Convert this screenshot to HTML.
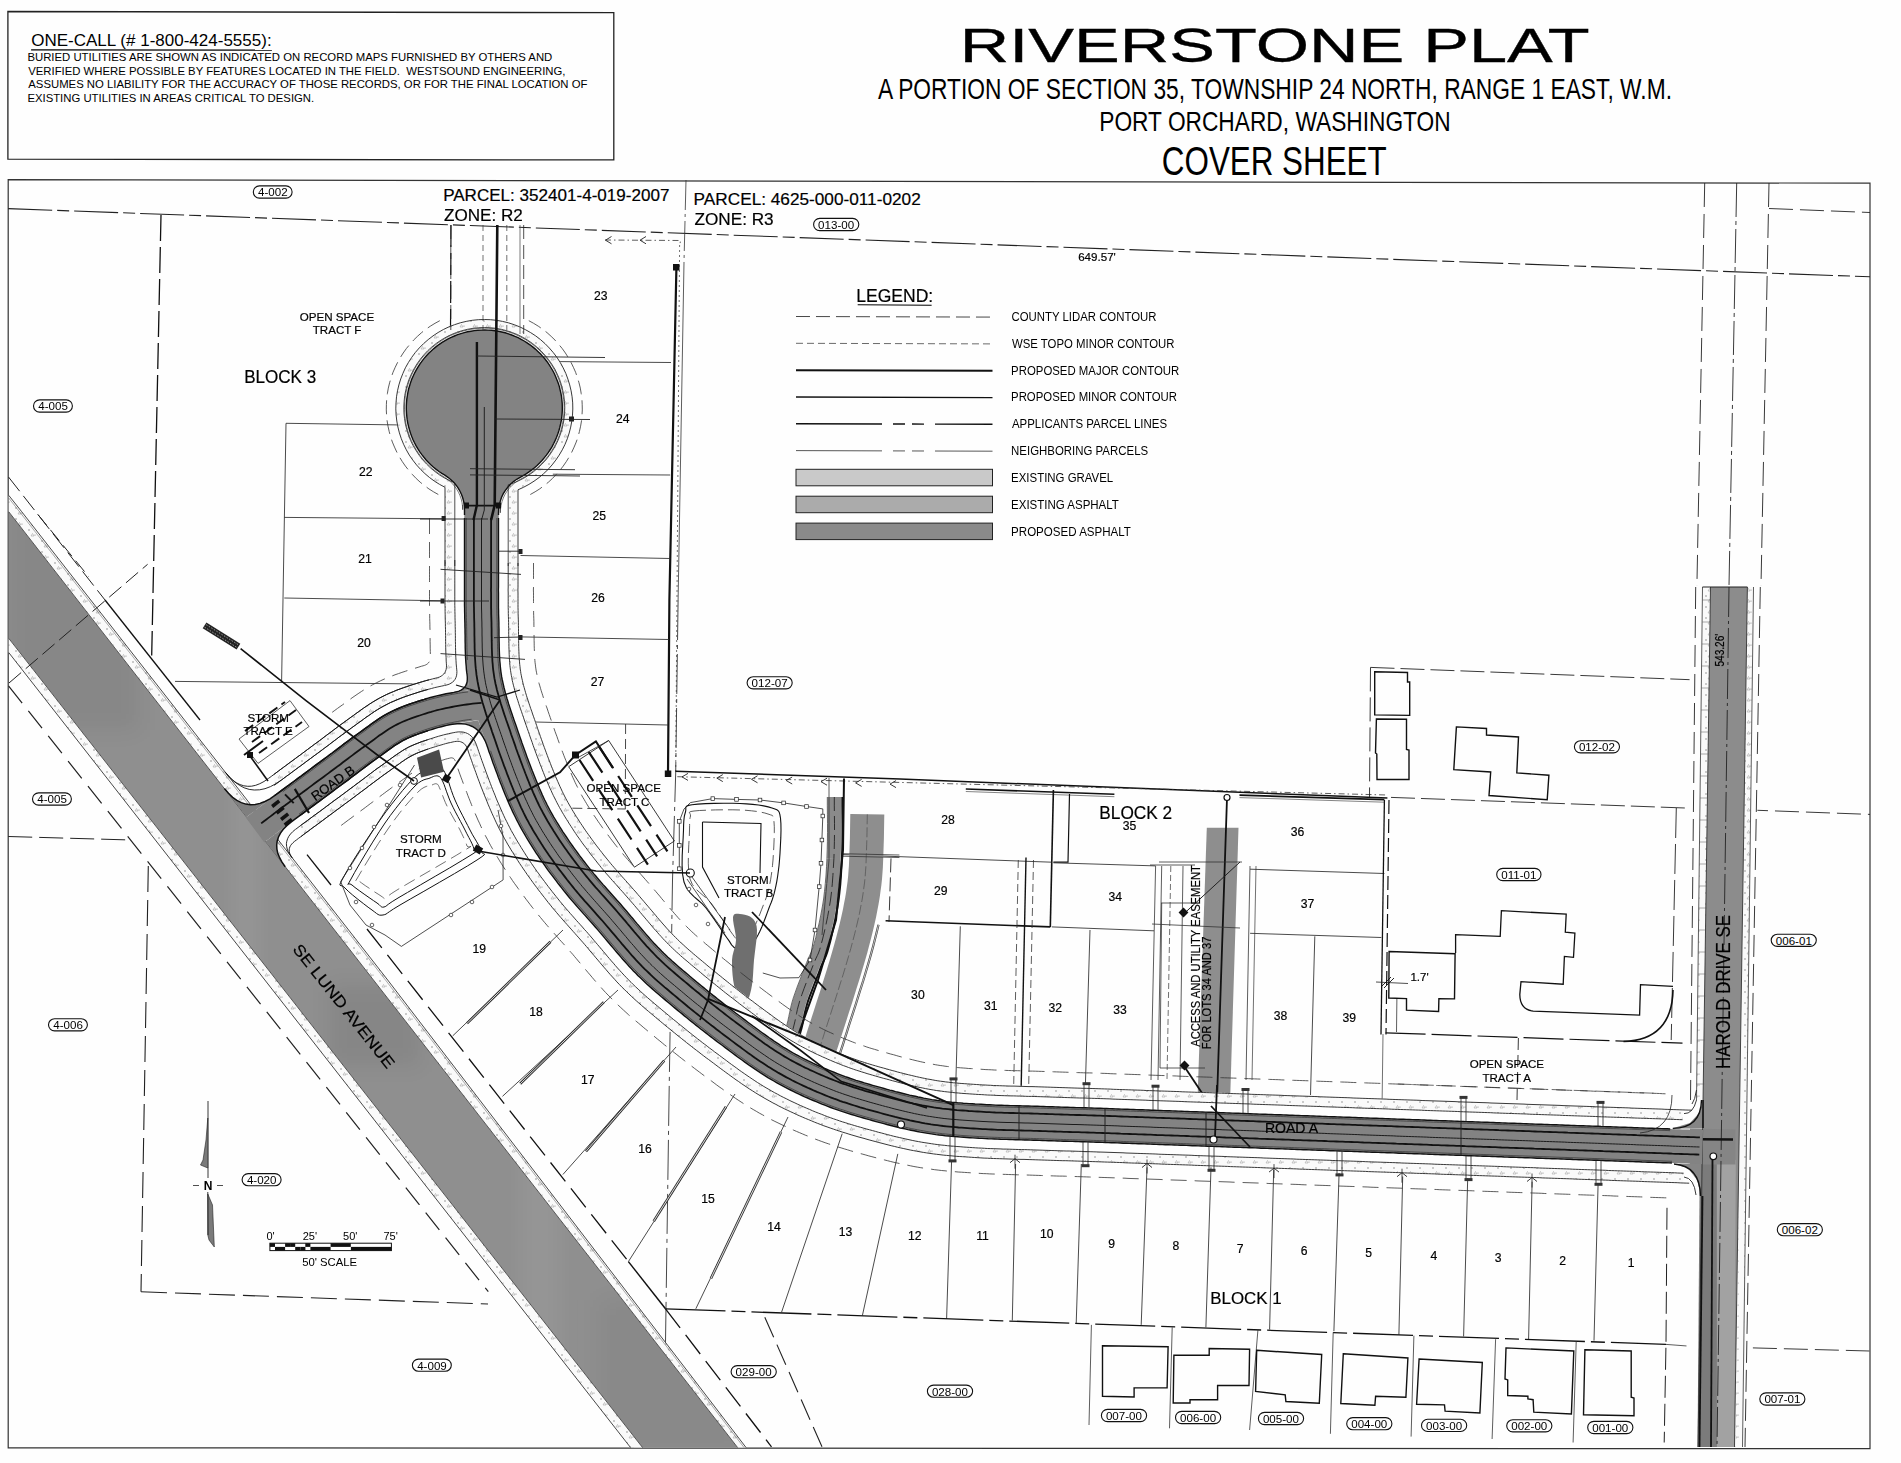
<!DOCTYPE html>
<html><head><meta charset="utf-8"><style>
html,body{margin:0;padding:0;background:#fff;}
svg{display:block;}
text{font-family:"Liberation Sans",sans-serif;}
</style></head><body>
<svg width="1901" height="1463" viewBox="0 0 1901 1463">
<defs><pattern id="stip" width="9" height="9" patternUnits="userSpaceOnUse">
<rect width="9" height="9" fill="#fbfbfb"/><circle cx="2" cy="3" r="0.6" fill="#888"/><circle cx="6.5" cy="7" r="0.5" fill="#999"/><circle cx="7" cy="1.5" r="0.4" fill="#aaa"/></pattern>
<pattern id="stip2" width="13" height="11" patternUnits="userSpaceOnUse">
<rect width="13" height="11" fill="#fafafa"/><circle cx="3" cy="2" r="0.7" fill="#777"/><circle cx="9" cy="7" r="0.6" fill="#888"/><path d="M5,8 l1.5,-2.5 l1.5,2.5z" fill="none" stroke="#999" stroke-width="0.5"/></pattern>
<clipPath id="lundclip"><path d="M8.7,511.7 L737.6,1447.5 L642.5,1447.5 L8.7,638.3Z"/></clipPath>
<filter id="soft" x="-50%" y="-50%" width="200%" height="200%"><feGaussianBlur stdDeviation="10"/></filter></defs>
<rect width="1901" height="1463" fill="#fefefe"/>
<g fill="#000" stroke="#000" stroke-width="0.35">
<text transform="translate(959.82,62.3) scale(1.4421,1)" font-size="47.54" >RIVERSTONE PLAT</text>
</g><g fill="#000">
<text transform="translate(877.9,99.1) scale(0.7669,1)" font-size="29.71" >A PORTION OF SECTION 35, TOWNSHIP 24 NORTH, RANGE 1 EAST, W.M.</text>
<text transform="translate(1099.28,131.3) scale(0.7960,1)" font-size="28.55" >PORT ORCHARD, WASHINGTON</text>
<text transform="translate(1161.83,174.7) scale(0.7677,1)" font-size="40.87" >COVER SHEET</text>
<text transform="translate(31.23,46.3) scale(0.9949,1)" font-size="17.1" >ONE-CALL (# 1-800-424-5555):</text>
<text transform="translate(27.39,61.3) scale(1.0447,1)" font-size="10.87" >BURIED UTILITIES ARE SHOWN AS INDICATED ON RECORD MAPS FURNISHED BY OTHERS AND</text>
<text transform="translate(28.24,74.77) scale(1.0430,1)" font-size="10.87" >VERIFIED WHERE POSSIBLE BY FEATURES LOCATED IN THE FIELD.  WESTSOUND ENGINEERING,</text>
<text transform="translate(28.3,88.24) scale(1.0435,1)" font-size="10.87" >ASSUMES NO LIABILITY FOR THE ACCURACY OF THOSE RECORDS, OR FOR THE FINAL LOCATION OF</text>
<text transform="translate(27.39,101.71) scale(1.0433,1)" font-size="10.87" >EXISTING UTILITIES IN AREAS CRITICAL TO DESIGN.</text>
</g>
<path d="M31.1,49.9 L271.9,50.1" stroke="#000" stroke-width="1.1"/>
<path d="M7.9,11.5 L613.8,12.7 L613.8,159.9 L7.9,159.2 Z" fill="none" stroke="#222" stroke-width="1.3"/>
<path d="M8.2,179.6 L1870,183.2 L1870,1448.7 L8.2,1447.8 Z" fill="none" stroke="#333" stroke-width="1.2"/>
<path d="M8.2,208.6 1870,276.8" fill="none" stroke="#222" stroke-width="1.1" stroke-dasharray="44 5 12 5" />
<path d="M161,215 151.7,655.5" fill="none" stroke="#111" stroke-width="1.3" stroke-dasharray="26 6" />
<path d="M148.3,866 141,1291.8" fill="none" stroke="#222" stroke-width="1.1" stroke-dasharray="26 8" />
<path d="M8.2,836.5 131,840" fill="none" stroke="#222" stroke-width="1.0" stroke-dasharray="24 7" />
<path d="M141,1291.8 488,1304" fill="none" stroke="#222" stroke-width="1.1" stroke-dasharray="26 8" />
<path d="M451,225 450.5,334" fill="none" stroke="#111" stroke-width="1.2" stroke-dasharray="22 6" />
<path d="M686,180 684,262" fill="none" stroke="#333" stroke-width="0.8" stroke-dasharray="30 4 3 4" />
<path d="M678.1,600 675.7,773 672.5,880 669,1100 664,1447" fill="none" stroke="#333" stroke-width="0.9" stroke-dasharray="40 5 4 5" />
<path d="M684,262 678.1,600" fill="none" stroke="#333" stroke-width="0.8" />
<path d="M676.4,268 669.4,600 668,774" fill="none" stroke="#111" stroke-width="2.2" />
<rect x="673" y="264" width="6.5" height="6.5" fill="#111"/>
<rect x="664.8" y="770.5" width="6.5" height="6.5" fill="#111"/>
<path d="M679.6,245 675.7,771" fill="none" stroke="#333" stroke-width="0.7" stroke-dasharray="2 3" />
<path d="M605,240 680.4,240.5 680,245" fill="none" stroke="#333" stroke-width="0.8" stroke-dasharray="6 3 1.5 3" />
<path d="M611.5,236.5 605.5,240.2 611.5,243.8" fill="none" stroke="#222" stroke-width="0.9" />
<path d="M646,236.5 640,240.2 646,243.8" fill="none" stroke="#222" stroke-width="0.9" />
<path d="M675.4,771.2 900,779.1 1387.4,798.1" fill="none" stroke="#111" stroke-width="1.5" />
<path d="M677.3,776.7 1387,795" fill="none" stroke="#333" stroke-width="0.8" stroke-dasharray="6 3 1.5 3" />
<path d="M688,773.4 682,776.9 688,780.4" fill="none" stroke="#222" stroke-width="0.9" />
<path d="M722.8,774.6 716.8,778.1 722.8,781.6" fill="none" stroke="#222" stroke-width="0.9" />
<path d="M757.5,775.8 751.5,779.3 757.5,782.8" fill="none" stroke="#222" stroke-width="0.9" />
<path d="M792.2,777 786.2,780.5 792.2,784" fill="none" stroke="#222" stroke-width="0.9" />
<path d="M827,778.2 821,781.7 827,785.2" fill="none" stroke="#222" stroke-width="0.9" />
<path d="M861.6,779.4 855.6,782.9 861.6,786.4" fill="none" stroke="#222" stroke-width="0.9" />
<path d="M896,780.6 890,784.1 896,787.6" fill="none" stroke="#222" stroke-width="0.9" />
<path d="M1704.7,183 1696.9,586" fill="none" stroke="#222" stroke-width="0.9" stroke-dasharray="24 7" />
<path d="M1736.7,183 1729,586" fill="none" stroke="#222" stroke-width="0.9" stroke-dasharray="34 4 4 4" />
<path d="M1769,183 1761,586" fill="none" stroke="#222" stroke-width="0.9" stroke-dasharray="24 7" />
<path d="M1769,208.5 1870,212.5" fill="none" stroke="#222" stroke-width="0.9" stroke-dasharray="24 7" />
<path d="M1744,809.8 1870,814.4" fill="none" stroke="#222" stroke-width="0.9" stroke-dasharray="24 7" />
<path d="M1752.9,1347.9 1869.4,1351" fill="none" stroke="#222" stroke-width="0.9" stroke-dasharray="24 7" />
<path d="M286,423.3 404,425" fill="none" stroke="#2a2a2a" stroke-width="0.85" />
<path d="M286,423.3 281.6,681.4" fill="none" stroke="#2a2a2a" stroke-width="0.85" />
<path d="M284.3,517.4 442.8,518.8" fill="none" stroke="#2a2a2a" stroke-width="0.85" />
<path d="M284.3,598 442.8,600.8" fill="none" stroke="#2a2a2a" stroke-width="0.85" />
<path d="M175,681.4 459,684.4" fill="none" stroke="#2a2a2a" stroke-width="0.85" />
<path d="M548.4,361.5 671,362.5" fill="none" stroke="#2a2a2a" stroke-width="0.85" />
<path d="M552.8,474.2 670.2,475" fill="none" stroke="#2a2a2a" stroke-width="0.85" />
<path d="M520.5,555.5 670.2,558.5" fill="none" stroke="#2a2a2a" stroke-width="0.85" />
<path d="M520.5,636.9 669,639.5" fill="none" stroke="#2a2a2a" stroke-width="0.85" />
<path d="M534.8,722 668,725" fill="none" stroke="#2a2a2a" stroke-width="0.85" />
<path d="M452.7,1035.9 563,930" fill="none" stroke="#2a2a2a" stroke-width="0.85" />
<path d="M467,1023.4 550.5,941.7" fill="none" stroke="#333" stroke-width="2.6" />
<path d="M467,1023.4 550.5,941.7" fill="none" stroke="#ddd" stroke-width="1.0" />
<path d="M502.5,1096.3 618,990" fill="none" stroke="#2a2a2a" stroke-width="0.85" />
<path d="M520.2,1083.8 603.8,1002.1" fill="none" stroke="#333" stroke-width="2.6" />
<path d="M520.2,1083.8 603.8,1002.1" fill="none" stroke="#ddd" stroke-width="1.0" />
<path d="M562.9,1174.5 676,1047" fill="none" stroke="#2a2a2a" stroke-width="0.85" />
<path d="M586,1151.4 664.2,1060.7" fill="none" stroke="#333" stroke-width="2.6" />
<path d="M586,1151.4 664.2,1060.7" fill="none" stroke="#ddd" stroke-width="1.0" />
<path d="M628.4,1261.6 735,1094" fill="none" stroke="#2a2a2a" stroke-width="0.85" />
<path d="M653.7,1221.2 726,1106.7" fill="none" stroke="#333" stroke-width="2.6" />
<path d="M653.7,1221.2 726,1106.7" fill="none" stroke="#ddd" stroke-width="1.0" />
<path d="M695.8,1308.8 788,1117" fill="none" stroke="#2a2a2a" stroke-width="0.85" />
<path d="M710.9,1278.5 781,1132" fill="none" stroke="#333" stroke-width="2.6" />
<path d="M710.9,1278.5 781,1132" fill="none" stroke="#ddd" stroke-width="1.0" />
<path d="M842.2,1133.7 781.6,1312.1" fill="none" stroke="#2a2a2a" stroke-width="0.85" />
<path d="M897.8,1153.9 862.4,1315.5" fill="none" stroke="#2a2a2a" stroke-width="0.85" />
<path d="M951.6,1160.6 946.6,1318.9" fill="none" stroke="#2a2a2a" stroke-width="0.85" />
<path d="M1015.6,1164 1012.3,1320.5" fill="none" stroke="#2a2a2a" stroke-width="0.85" />
<path d="M1081.3,1164 1076.2,1323.9" fill="none" stroke="#2a2a2a" stroke-width="0.85" />
<path d="M1147,1167.3 1141.2,1324.9" fill="none" stroke="#2a2a2a" stroke-width="0.85" />
<path d="M1211,1167.3 1205.9,1327.3" fill="none" stroke="#2a2a2a" stroke-width="0.85" />
<path d="M1273.7,1169.5 1269.6,1329.5" fill="none" stroke="#2a2a2a" stroke-width="0.85" />
<path d="M1339.1,1173 1333.9,1331.2" fill="none" stroke="#2a2a2a" stroke-width="0.85" />
<path d="M1402.7,1176.5 1398.9,1334.7" fill="none" stroke="#2a2a2a" stroke-width="0.85" />
<path d="M1467.7,1178.2 1463.6,1336.4" fill="none" stroke="#2a2a2a" stroke-width="0.85" />
<path d="M1532.1,1181.7 1528.6,1339.2" fill="none" stroke="#2a2a2a" stroke-width="0.85" />
<path d="M1598.1,1183.4 1594,1340.6" fill="none" stroke="#2a2a2a" stroke-width="0.85" />
<path d="M1667,1207.8 1666,1343.4 1664.2,1442.5" fill="none" stroke="#222" stroke-width="1.0" stroke-dasharray="22 6" />
<path d="M665.5,1308.8 1666,1344.4" fill="none" stroke="#111" stroke-width="1.3" stroke-dasharray="60 6 14 6" />
<path d="M1666,1344.4 1699,1346.9" fill="none" stroke="#333" stroke-width="0.8" />
<path d="M1091.4,1324.9 1089,1425" fill="none" stroke="#333" stroke-width="0.8" />
<path d="M1172.2,1327.3 1169.5,1428.3" fill="none" stroke="#333" stroke-width="0.8" />
<path d="M1258,1329 1249.6,1430" fill="none" stroke="#333" stroke-width="0.8" />
<path d="M1333.2,1332.3 1330.4,1433.8" fill="none" stroke="#333" stroke-width="0.8" />
<path d="M1413.9,1335.7 1411.1,1436.6" fill="none" stroke="#333" stroke-width="0.8" />
<path d="M1495.6,1339.2 1492.1,1439" fill="none" stroke="#333" stroke-width="0.8" />
<path d="M1576.2,1341.7 1573.1,1442.5" fill="none" stroke="#333" stroke-width="0.8" />
<path d="M764.8,1317.2 822,1446.8" fill="none" stroke="#222" stroke-width="1.1" stroke-dasharray="22 8" />
<path d="M965.8,789 1114.4,794.2" fill="none" stroke="#111" stroke-width="1.6" />
<path d="M965.8,791.5 1114.4,796.7" fill="none" stroke="#333" stroke-width="0.6" />
<path d="M1053.4,790 1050.3,926.9" fill="none" stroke="#111" stroke-width="1.6" />
<path d="M1069.5,794 1068,862.2 1053.4,862.2" fill="none" stroke="#111" stroke-width="1.2" />
<path d="M842.9,854.6 1051.8,862.2" fill="none" stroke="#2a2a2a" stroke-width="0.85" />
<path d="M885.6,920.8 1050.3,926.9" fill="none" stroke="#111" stroke-width="1.6" />
<path d="M1053.4,862.8 1155.6,865.9" fill="none" stroke="#2a2a2a" stroke-width="0.85" />
<path d="M1051.8,926.9 1154,930.8" fill="none" stroke="#2a2a2a" stroke-width="0.85" />
<path d="M1250.1,869.2 1384.4,873.5" fill="none" stroke="#2a2a2a" stroke-width="0.85" />
<path d="M1250.1,933.3 1381.3,937.5" fill="none" stroke="#2a2a2a" stroke-width="0.85" />
<path d="M1297,870 1297,870" fill="none" stroke="#2a2a2a" stroke-width="0.85" />
<path d="M960.3,926.3 955.8,1083.4" fill="none" stroke="#2a2a2a" stroke-width="0.85" />
<path d="M1090,930 1085.4,1085" fill="none" stroke="#2a2a2a" stroke-width="0.85" />
<path d="M1314.8,936.3 1310.5,1095" fill="none" stroke="#2a2a2a" stroke-width="0.85" />
<path d="M1026,857.6 1021,1095" fill="none" stroke="#111" stroke-width="1.4" />
<path d="M1018.3,860 1013.5,1095" fill="none" stroke="#333" stroke-width="0.8" stroke-dasharray="8 4" />
<path d="M1033.5,860 1028.5,1095" fill="none" stroke="#333" stroke-width="0.8" stroke-dasharray="8 4" />
<path d="M1155.6,866 1151,1080" fill="none" stroke="#333" stroke-width="0.8" />
<path d="M1161.7,866 1158,1080" fill="none" stroke="#333" stroke-width="0.8" />
<path d="M1170.8,866 1167,1080" fill="none" stroke="#333" stroke-width="0.7" stroke-dasharray="6 3" />
<path d="M1183,866 1180,1080" fill="none" stroke="#333" stroke-width="0.8" />
<path d="M1250,866 1246,1080" fill="none" stroke="#333" stroke-width="0.8" />
<path d="M1256,866 1252,1080" fill="none" stroke="#333" stroke-width="0.7" />
<path d="M1384.4,800 1381,1034.6" fill="none" stroke="#111" stroke-width="1.3" />
<path d="M1389,800 1386,1034.6" fill="none" stroke="#111" stroke-width="1.2" stroke-dasharray="14 5" />
<path d="M1385.6,1032.8 1682.5,1043.2" fill="none" stroke="#111" stroke-width="1.2" stroke-dasharray="40 6" />
<path d="M1383,1034 1382,1110" fill="none" stroke="#333" stroke-width="0.7" />
<path d="M1370.5,667.4 1693,679.8" fill="none" stroke="#222" stroke-width="0.9" stroke-dasharray="24 6" />
<path d="M1370.5,667.4 1369.5,797" fill="none" stroke="#222" stroke-width="0.9" stroke-dasharray="24 6" />
<path d="M1391,797.4 1685,808" fill="none" stroke="#222" stroke-width="0.9" stroke-dasharray="24 6" />
<path d="M1676.3,808 1671.2,1040" fill="none" stroke="#222" stroke-width="0.9" stroke-dasharray="30 6" />
<path d="M1397.8,1084 1661.7,1093.5" fill="none" stroke="#444" stroke-width="0.8" stroke-dasharray="14 8" />
<path d="M1518.4,1038 1517,1100" fill="none" stroke="#222" stroke-width="0.9" stroke-dasharray="12 5" />
<path d="M1396.9,998 1396.5,1032" fill="none" stroke="#333" stroke-width="0.8" />
<path d="M625.6,724 625.3,810" fill="none" stroke="#333" stroke-width="0.9" stroke-dasharray="10 5" />
<path d="M572.3,808.2 625.6,809" fill="none" stroke="#333" stroke-width="0.9" stroke-dasharray="10 5" />
<path d="M834.3,797 834.3,805.9 834.4,814.8 834.5,823.7 834.5,832.6 834.4,841.3 834.2,850 833.9,858.6 833.4,867.1 832.9,875.5 832.3,883.8 831.5,892 830.5,900 829.2,908.1 827.7,916.3 826,924.4 824.3,932 822.6,939 821,945 819.7,949.6 818.5,953 817.3,955.6 816.1,958.1 814.8,961.1 813.2,965 811.2,970.1 808.9,975.9 806.5,982.1 804.1,988.4 801.9,994.5 800,1000 798.6,1004.9 797.4,1009.4 796.5,1013.7 795.7,1017.8 794.8,1021.9 793.8,1026 792.7,1030.1 791.6,1034.1 790.4,1038.1 789.3,1042.1 788.1,1046 787,1050" fill="none" stroke="#8a8a8a" stroke-width="13.5"/>
<path d="M834.3,797 834.3,805.9 834.4,814.8 834.5,823.7 834.5,832.6 834.4,841.3 834.2,850 833.9,858.6 833.4,867.1 832.9,875.5 832.3,883.8 831.5,892 830.5,900 829.2,908.1 827.7,916.3 826,924.4 824.3,932 822.6,939 821,945 819.7,949.6 818.5,953 817.3,955.6 816.1,958.1 814.8,961.1 813.2,965 811.2,970.1 808.9,975.9 806.5,982.1 804.1,988.4 801.9,994.5 800,1000 798.6,1004.9 797.4,1009.4 796.5,1013.7 795.7,1017.8 794.8,1021.9 793.8,1026 792.7,1030.1 791.6,1034.1 790.4,1038.1 789.3,1042.1 788.1,1046 787,1050" fill="none" stroke="#222" stroke-width="0.9" stroke-dasharray="14 5" />
<path d="M842.3,797 842.3,805.8 842.4,814.7 842.5,823.6 842.5,832.6 842.4,841.5 842.2,850.3 841.9,858.9 841.4,867.5 840.9,876 840.3,884.5 839.4,892.9 838.4,901.1 837.1,909.4 835.5,917.9 833.8,926.1 832,933.9 830.3,941 828.7,947.1 827.3,952 825.9,955.9 824.6,958.9 823.4,961.5 822.1,964.2 820.6,967.9 818.7,973 816.4,978.8 814,985 811.6,991.3 809.4,997.2 807.6,1002.4 806.3,1007 805.2,1011.2 804.3,1015.3 803.5,1019.5 802.6,1023.7 801.6,1028 800.4,1032.2 799.3,1036.3 798.1,1040.3 797,1044.3 795.8,1048.2 794.7,1052.2" fill="none" stroke="#111" stroke-width="2.0" />
<path d="M827.3,797 827.3,805.9 827.4,814.8 827.5,823.7 827.5,832.5 827.4,841.2 827.2,849.8 826.9,858.3 826.5,866.7 826,875 825.3,883.2 824.5,891.2 823.6,899 822.3,906.9 820.8,914.9 819.2,922.9 817.4,930.4 815.8,937.3 814.2,943.2 813,947.5 811.9,950.4 810.9,952.7 809.8,955.2 808.4,958.3 806.7,962.4 804.7,967.5 802.4,973.3 800,979.6 797.5,986 795.3,992.2 793.3,997.9 791.8,1003 790.6,1007.8 789.7,1012.2 788.8,1016.4 788,1020.3 787,1024.3 785.9,1028.3 784.8,1032.2 783.7,1036.2 782.6,1040.1 781.4,1044.1 780.3,1048.1" fill="none" stroke="#333" stroke-width="0.7" />
<path d="M867.3,814.3 867.2,820.3 867.1,826.3 867,832.3 866.9,838.3 866.7,844.2 866.5,850 866.3,855.6 866.1,861.1 865.9,866.4 865.5,871.8 865.1,877.3 864.5,883 863.7,888.8 862.9,894.7 861.9,900.8 860.7,906.9 859.5,913.3 858,920 856.4,926.8 854.7,933.8 852.8,941 850.8,948.5 848.5,956.5 846,965 843.1,974.7 839.7,985.4 836.2,996.7 832.6,1007.7 829.4,1017.8 826.6,1026.4 824.4,1033.2 822.7,1038.6 821.2,1043.2 819.8,1047.3 818.5,1051.4 817,1056" fill="none" stroke="#8e8e8e" stroke-width="34"/>
<path d="M867.3,814.3 867.2,820.3 867.1,826.3 867,832.3 866.9,838.3 866.7,844.2 866.5,850 866.3,855.6 866.1,861.1 865.9,866.4 865.5,871.8 865.1,877.3 864.5,883 863.7,888.8 862.9,894.7 861.9,900.8 860.7,906.9 859.5,913.3 858,920 856.4,926.8 854.7,933.8 852.8,941 850.8,948.5 848.5,956.5 846,965 843.1,974.7 839.7,985.4 836.2,996.7 832.6,1007.7 829.4,1017.8 826.6,1026.4 824.4,1033.2 822.7,1038.6 821.2,1043.2 819.8,1047.3 818.5,1051.4 817,1056" fill="none" stroke="#444" stroke-width="0.6" stroke-dasharray="10 3" />
<path d="M878.5,924.8 876.8,931.8 875,939 873.1,946.4 871,954.1 868.7,962.3 866.1,971 863.2,980.8 859.7,991.7 856.2,1003 852.6,1014.1 849.3,1024.2 846.6,1032.8 844.4,1039.6 842.7,1045.1 841.2,1049.7 839.8,1053.8 838.4,1058 837,1062.5" fill="none" stroke="#444" stroke-width="2.2" />
<path d="M878.5,924.8 876.8,931.8 875,939 873.1,946.4 871,954.1 868.7,962.3 866.1,971 863.2,980.8 859.7,991.7 856.2,1003 852.6,1014.1 849.3,1024.2 846.6,1032.8 844.4,1039.6 842.7,1045.1 841.2,1049.7 839.8,1053.8 838.4,1058 837,1062.5" fill="none" stroke="#ddd" stroke-width="0.8" />
<path d="M891,858.4 889,922" fill="none" stroke="#222" stroke-width="0.9" stroke-dasharray="14 5" />
<path d="M842,853.7 899.4,855" fill="none" stroke="#333" stroke-width="0.8" />
<path d="M842,856.2 899.4,857.5" fill="none" stroke="#333" stroke-width="0.8" />
<path d="M829,778 829,860 822,935" fill="none" stroke="#333" stroke-width="0.8" />
<path d="M844,778.4 843,850 836,920 818,980 800,1030 789,1060" fill="none" stroke="#111" stroke-width="2.0" />
<path d="M679.3,868.7 679.3,821.4 684,809 690.4,802.6 712.8,798.6 736.5,799.4 760,800 783.6,802.9 806.5,806.5 822.8,808.9 822.8,816 821.9,840 821,863.3 819.2,886.6 815,930 810,960 798.9,977.7 780,978 762.8,973" fill="none" stroke="#222" stroke-width="0.8" />
<rect x="677.5" y="819.6" width="3.6" height="3.6" fill="#fff" stroke="#222" stroke-width="0.7"/>
<rect x="677.5" y="843.6" width="3.6" height="3.6" fill="#fff" stroke="#222" stroke-width="0.7"/>
<rect x="677.5" y="866.9" width="3.6" height="3.6" fill="#fff" stroke="#222" stroke-width="0.7"/>
<rect x="711" y="796.8" width="3.6" height="3.6" fill="#fff" stroke="#222" stroke-width="0.7"/>
<rect x="734.7" y="797.6" width="3.6" height="3.6" fill="#fff" stroke="#222" stroke-width="0.7"/>
<rect x="758.2" y="798.2" width="3.6" height="3.6" fill="#fff" stroke="#222" stroke-width="0.7"/>
<rect x="781.8" y="801.1" width="3.6" height="3.6" fill="#fff" stroke="#222" stroke-width="0.7"/>
<rect x="804.7" y="804.7" width="3.6" height="3.6" fill="#fff" stroke="#222" stroke-width="0.7"/>
<rect x="821" y="814.2" width="3.6" height="3.6" fill="#fff" stroke="#222" stroke-width="0.7"/>
<rect x="820.1" y="838.2" width="3.6" height="3.6" fill="#fff" stroke="#222" stroke-width="0.7"/>
<rect x="819.2" y="861.5" width="3.6" height="3.6" fill="#fff" stroke="#222" stroke-width="0.7"/>
<rect x="817.4" y="884.8" width="3.6" height="3.6" fill="#fff" stroke="#222" stroke-width="0.7"/>
<rect x="813.2" y="928.2" width="3.6" height="3.6" fill="#fff" stroke="#222" stroke-width="0.7"/>
<rect x="808.2" y="958.2" width="3.6" height="3.6" fill="#fff" stroke="#222" stroke-width="0.7"/>
<path d="M692,804.7 697.8,804.1 705.5,803.6 714.4,803.4 723.6,803.3 732.4,803.3 740,803.5 746.5,803.9 752.7,804.4 758.5,805 763.7,805.9 768.2,806.9 772,808 774.9,809 776.9,809.8 778.3,810.8 779.2,812.2 779.9,814.6 780.5,818.2 780.9,823.5 781,830.2 780.8,837.9 780.4,845.8 780,853.4 779.5,860 779,865.8 778.3,871.3 777.6,876.5 776.8,881.3 775.9,885.8 775,890 774.1,893.7 773.2,896.7 772.3,899.5 771.3,902.2 770.1,905.1 768.8,908.5 767.3,912.6 765.6,917.2 763.8,922 761.9,926.7 759.9,931.2 758,935 756.1,938.4 754.1,941.5 752,944.3 750,946.7 748,948.6 746,950 744.1,950.7 742.1,950.9 740.2,950.6 738.4,949.9 736.6,949 735,948 733.6,947 732.6,946 731.6,944.8 730.5,943.1 729.1,940.9 727,938 724.3,934.1 721,929.3 717.4,924 713.6,918.4 709.7,913 706,908 702.1,903.7 697.9,900 693.7,896.4 689.8,892.4 686.4,887.8 684,882 682.6,874.4 682.1,865.3 682.2,855.5 682.7,845.8 683.2,837 683.5,830 683.6,824.9 683.8,821.1 684.1,818.2 684.4,815.9 684.9,814 685.5,812 685.8,810.1 685.8,808.5 685.9,807.3 686.6,806.3 688.5,805.4 692,804.7Z" fill="none" stroke="#111" stroke-width="1.1"/>
<path d="M694,811 699.4,810.5 706.9,810.2 715.5,809.9 724.4,809.8 732.9,809.8 740,810 746,810.3 751.5,810.8 756.5,811.4 761,812.2 764.8,813 768,814 770.4,814.8 771.9,815.3 772.8,815.9 773.3,817 773.7,818.9 774,822 774.3,826.7 774.3,832.8 774.1,839.8 773.8,847 773.4,853.9 773,860 772.5,865.4 772,870.4 771.3,875.2 770.6,879.8 769.8,884 769,888 768.2,891.5 767.3,894.5 766.4,897.2 765.4,899.9 764.3,902.8 763,906 761.5,909.8 759.9,914 758.1,918.4 756.3,922.7 754.6,926.7 753,930 751.5,932.7 750.1,935.1 748.8,937.1 747.5,938.7 746.3,940 745,941 743.8,941.6 742.6,941.8 741.4,941.7 740.3,941.3 739.2,940.7 738,940 737,939.3 736.1,938.6 735.3,937.8 734.3,936.5 732.9,934.6 731,932 728.4,928.3 725.3,923.7 721.9,918.5 718.2,913.1 714.5,907.8 711,903 707.3,899 703.3,895.6 699.3,892.2 695.5,888.7 692.3,884.4 690,879 688.7,871.9 688.3,863.2 688.4,853.9 688.8,844.7 689.3,836.4 689.5,830 689.6,825.5 689.6,822.4 689.8,820.2 689.9,818.7 690.2,817.4 690.5,816 690.4,814.6 689.9,813.5 689.4,812.7 689.6,812 690.9,811.5 694,811Z" fill="none" stroke="#333" stroke-width="0.8" stroke-dasharray="12 5"/>
<path d="M702.5,822 761,823.5 760,873" fill="none" stroke="#111" stroke-width="1.1" />
<path d="M702.5,822 702.5,867 719,898" fill="none" stroke="#111" stroke-width="1.1" />
<path d="M733,917 733.7,915 734.8,914 736.4,913.7 738.1,913.8 740,914 742.2,914.2 744.8,914.7 747.5,915.5 750,916.6 752,918 753.6,919.6 754.9,921.4 755.9,923.5 756.6,926.3 757,930 756.9,934.9 756.3,940.9 755.5,947.5 754.7,954 754,960 753.6,965.4 753.3,970.6 753,975.6 752.6,980.4 752,985 751.1,989.7 749.9,994.4 748.6,998.8 747.3,1002.5 746,1005 744.8,1006.3 743.6,1006.6 742.4,1006 741.2,1004.8 740,1003 738.7,1000.5 737.4,997.3 736.1,993.5 734.9,989.3 734,985 733.2,980.4 732.6,975.3 732.2,970 732,964.8 732,960 732.5,955.7 733.5,951.8 734.6,948 735.6,944.1 736,940 735.7,935.3 734.8,930.1 733.8,924.9 733.1,920.4 733,917Z" fill="#6f6f6f" stroke="none" stroke-width="1" />
<circle cx="690.3" cy="873" r="4" fill="#fff" stroke="#111" stroke-width="1.1"/>
<path d="M692,877 712,905 730,930" fill="none" stroke="#222" stroke-width="0.8" />
<path d="M687,879 707,908 725,933" fill="none" stroke="#222" stroke-width="0.8" />
<circle cx="689" cy="889" r="1.8" fill="#fff" stroke="#222" stroke-width="0.7"/>
<circle cx="696" cy="905" r="1.8" fill="#fff" stroke="#222" stroke-width="0.7"/>
<circle cx="708" cy="924" r="1.8" fill="#fff" stroke="#222" stroke-width="0.7"/>
<path d="M1206.8,827.7 1238.5,827.7 1230.3,1094 1197.7,1094Z" fill="#8e8e8e" stroke="none" stroke-width="1" />
<path d="M1239.5,795.1 1384.4,799.7" fill="none" stroke="#111" stroke-width="1.8" />
<path d="M1239.5,797.6 1384.4,802.2" fill="none" stroke="#333" stroke-width="0.6" />
<path d="M1150,865 1195,865" fill="none" stroke="#333" stroke-width="0.8" />
<path d="M1161,903 1195,903" fill="none" stroke="#333" stroke-width="0.8" />
<path d="M1161.7,903 1160,1068 1205,1068" fill="none" stroke="#333" stroke-width="0.8" />
<path d="M1227,798 1217,1100 1215,1140" fill="none" stroke="#111" stroke-width="1.8" />
<path d="M1159,862 1242,862" fill="none" stroke="#333" stroke-width="0.8" />
<path d="M1152,924 1240,928" fill="none" stroke="#333" stroke-width="0.8" />
<circle cx="1227" cy="797.5" r="3" fill="#fff" stroke="#111" stroke-width="1.2"/>
<path d="M1184,1066 1240,1150" fill="none" stroke="#111" stroke-width="1.8" />
<path d="M1182.5,915 1240,862" fill="none" stroke="#222" stroke-width="1.0" />
<rect x="1180" y="909" width="7" height="7" fill="#111" transform="rotate(45 1183.5 912.5)"/>
<rect x="1181" y="1062" width="7" height="7" fill="#111" transform="rotate(45 1184.5 1065.5)"/>
<path d="M481.5,470 481.5,473 481.5,476 481.5,479 481.5,482 481.5,485 481.5,488 481.5,491 481.5,494 481.5,497 481.5,500 481.5,503 481.5,506 481.5,509 481.5,512 481.5,515 481.5,518 481.5,521 481.5,524 481.5,527 481.5,530 481.5,533 481.5,536 481.5,539 481.5,542 481.5,545 481.5,548 481.5,551 481.5,554 481.5,557 481.5,560 481.5,563 481.5,566 481.5,569 481.5,572 481.5,575 481.5,578 481.5,581 481.5,584 481.5,587 481.5,590 481.5,593 481.5,596 481.5,599 481.5,602 481.5,605 481.5,608 481.6,611 481.7,614 481.7,617 481.8,620 481.9,623 481.9,626 482,629 482,632 482,635 482.1,638 482.1,641 482.2,644 482.2,647 482.3,650 482.4,653 482.5,656 482.7,659 482.9,662 483.1,665 483.4,668 483.7,670.9 484.1,673.9 484.5,676.9 485,679.8 485.5,682.8 486.1,685.7 486.8,688.7 487.5,691.6 488.2,694.5 489,697.4 489.8,700.3 490.6,703.2 491.5,706 492.4,708.9 493.3,711.7 494.3,714.6 495.2,717.4 496.2,720.3 497.2,723.1 498.1,726 499.1,728.8 500.1,731.6 501.1,734.5 502.1,737.3 503,740.1 504,743 505,745.8 506,748.6 507,751.5 508,754.3 509,757.1 510,759.9 511.1,762.7 512.1,765.6 513.2,768.4 514.2,771.2 515.3,774 516.4,776.8 517.5,779.6 518.6,782.4 519.7,785.1 520.8,787.9 522,790.7 523.1,793.5 524.3,796.2 525.5,799 526.8,801.7 528,804.4 529.3,807.1 530.6,809.8 532,812.5 533.3,815.2 534.7,817.8 536.2,820.5 537.7,823.1 539.2,825.7 540.7,828.2 542.2,830.8 543.8,833.4 545.4,835.9 547,838.4 548.6,841 550.3,843.5 551.9,846 553.6,848.5 555.3,850.9 557,853.4 558.7,855.9 560.5,858.3 562.3,860.7 564,863.1 565.8,865.5 567.6,867.9 569.5,870.3 571.3,872.7 573.1,875.1 575,877.4 576.8,879.8 578.7,882.1 580.6,884.4 582.5,886.8 584.5,889 586.4,891.3 588.4,893.6 590.4,895.8 592.3,898.1 594.3,900.3 596.3,902.6 598.3,904.8 600.3,907.1 602.3,909.3 604.3,911.5 606.3,913.8 608.3,916 610.3,918.3 612.2,920.6 614.2,922.9 616.1,925.1 618,927.4 620,929.7 621.9,932 623.8,934.3 625.8,936.6 627.7,938.9 629.6,941.2 631.6,943.5 633.6,945.7 635.5,948 637.5,950.3 639.5,952.5 641.5,954.7 643.6,956.9 645.6,959.1 647.7,961.2 649.8,963.4 652,965.5 654.1,967.6 656.3,969.6 658.5,971.7 660.7,973.7 663,975.7 665.2,977.7 667.5,979.6 669.8,981.6 672.1,983.5 674.4,985.4 676.7,987.4 679,989.3 681.3,991.2 683.6,993.1 685.9,995.1 688.2,997 690.5,998.9 692.8,1000.8 695.1,1002.7 697.5,1004.6 699.8,1006.4 702.1,1008.3 704.5,1010.2 706.8,1012.1 709.2,1013.9 711.5,1015.8 713.9,1017.7 716.3,1019.5 718.6,1021.3 721,1023.2 723.4,1025 725.8,1026.8 728.2,1028.6 730.6,1030.4 733,1032.2 735.4,1034 737.8,1035.8 740.2,1037.6 742.6,1039.4 745,1041.2 747.4,1043 749.8,1044.7 752.3,1046.5 754.7,1048.3 757.1,1050 759.6,1051.7 762,1053.4 764.5,1055.1 767,1056.8 769.5,1058.5 772,1060.1 774.6,1061.7 777.1,1063.3 779.7,1064.8 782.3,1066.3 784.9,1067.8 787.5,1069.3 790.1,1070.7 792.8,1072.1 795.5,1073.5 798.1,1074.8 800.8,1076.2 803.5,1077.5 806.2,1078.8 809,1080 811.7,1081.3 814.4,1082.5 817.2,1083.7 819.9,1084.9 822.7,1086 825.5,1087.2 828.3,1088.3 831,1089.4 833.8,1090.5 836.6,1091.6 839.5,1092.6 842.3,1093.6 845.1,1094.6 848,1095.5 850.8,1096.5 853.7,1097.4 856.5,1098.3 859.4,1099.1 862.3,1100 865.2,1100.8 868.1,1101.7 870.9,1102.5 873.8,1103.3 876.7,1104.1 879.6,1104.9 882.5,1105.7 885.4,1106.5 888.3,1107.2 891.2,1108 894.1,1108.8 897,1109.5 899.9,1110.2 902.8,1110.9 905.8,1111.6 908.7,1112.3 911.6,1112.9 914.5,1113.6 917.5,1114.2 920.4,1114.8 923.4,1115.3 926.3,1115.9 929.3,1116.4 932.2,1116.8 935.2,1117.3 938.2,1117.7 941.1,1118.1 944.1,1118.5 947.1,1118.8 950.1,1119.1 953.1,1119.4 956.1,1119.6 959.1,1119.9 962.1,1120.1 965,1120.3 968,1120.5 971,1120.7 974,1120.9 977,1121.1 980,1121.3 983,1121.5 986,1121.6 989,1121.8 992,1121.9 995,1122 998,1122.2 1001,1122.3 1004,1122.4 1007,1122.5 1010,1122.5 1013,1122.6 1016,1122.7 1019,1122.8 1022,1122.9 1025,1123 1028,1123 1031,1123.1 1034,1123.2 1037,1123.3 1040,1123.4 1043,1123.5 1046,1123.6 1049,1123.7 1052,1123.8 1055,1123.9 1058,1124 1061,1124.1 1064,1124.2 1067,1124.3 1070,1124.4 1073,1124.5 1076,1124.5 1079,1124.6 1082,1124.7 1084.9,1124.8 1087.9,1124.9 1090.9,1125 1093.9,1125.1 1096.9,1125.2 1099.9,1125.3 1102.9,1125.4 1105.9,1125.5 1108.9,1125.6 1111.9,1125.7 1114.9,1125.8 1117.9,1125.9 1120.9,1126.1 1123.9,1126.2 1126.9,1126.3 1129.9,1126.4 1132.9,1126.5 1135.9,1126.6 1138.9,1126.7 1141.9,1126.8 1144.9,1126.9 1147.9,1127 1150.9,1127.1 1153.9,1127.3 1156.9,1127.4 1159.9,1127.5 1162.9,1127.6 1165.9,1127.7 1168.9,1127.8 1171.9,1127.9 1174.9,1128 1177.9,1128.1 1180.9,1128.2 1183.9,1128.3 1186.9,1128.4 1189.9,1128.6 1192.9,1128.7 1195.9,1128.8 1198.9,1128.9 1201.9,1129 1204.9,1129.1 1207.9,1129.2 1210.9,1129.3 1213.9,1129.4 1216.9,1129.5 1219.9,1129.6 1222.9,1129.8 1225.9,1129.9 1228.9,1130 1231.9,1130.1 1234.9,1130.2 1237.9,1130.3 1240.8,1130.4 1243.8,1130.5 1246.8,1130.6 1249.8,1130.7 1252.8,1130.8 1255.8,1130.9 1258.8,1131.1 1261.8,1131.2 1264.8,1131.3 1267.8,1131.4 1270.8,1131.5 1273.8,1131.6 1276.8,1131.7 1279.8,1131.8 1282.8,1131.9 1285.8,1132 1288.8,1132.1 1291.8,1132.3 1294.8,1132.4 1297.8,1132.5 1300.8,1132.6 1303.8,1132.7 1306.8,1132.8 1309.8,1132.9 1312.8,1133 1315.8,1133.1 1318.8,1133.2 1321.8,1133.3 1324.8,1133.4 1327.8,1133.6 1330.8,1133.7 1333.8,1133.8 1336.8,1133.9 1339.8,1134 1342.8,1134.1 1345.8,1134.2 1348.8,1134.3 1351.8,1134.4 1354.8,1134.5 1357.8,1134.6 1360.8,1134.8 1363.8,1134.9 1366.8,1135 1369.8,1135.1 1372.8,1135.2 1375.8,1135.3 1378.8,1135.4 1381.8,1135.5 1384.8,1135.6 1387.8,1135.7 1390.8,1135.8 1393.7,1135.9 1396.7,1136.1 1399.7,1136.2 1402.7,1136.3 1405.7,1136.4 1408.7,1136.5 1411.7,1136.6 1414.7,1136.7 1417.7,1136.8 1420.7,1136.9 1423.7,1137 1426.7,1137.1 1429.7,1137.3 1432.7,1137.4 1435.7,1137.5 1438.7,1137.6 1441.7,1137.7 1444.7,1137.8 1447.7,1137.9 1450.7,1138 1453.7,1138.1 1456.7,1138.2 1459.7,1138.3 1462.7,1138.4 1465.7,1138.6 1468.7,1138.7 1471.7,1138.8 1474.7,1138.9 1477.7,1139 1480.7,1139.1 1483.7,1139.2 1486.7,1139.3 1489.7,1139.4 1492.7,1139.5 1495.7,1139.6 1498.7,1139.8 1501.7,1139.9 1504.7,1140 1507.7,1140.1 1510.7,1140.2 1513.7,1140.3 1516.7,1140.4 1519.7,1140.5 1522.7,1140.6 1525.7,1140.7 1528.7,1140.8 1531.7,1140.9 1534.7,1141.1 1537.7,1141.2 1540.7,1141.3 1543.6,1141.4 1546.6,1141.5 1549.6,1141.6 1552.6,1141.7 1555.6,1141.8 1558.6,1141.9 1561.6,1142 1564.6,1142.1 1567.6,1142.3 1570.6,1142.4 1573.6,1142.5 1576.6,1142.6 1579.6,1142.7 1582.6,1142.8 1585.6,1142.9 1588.6,1143 1591.6,1143.1 1594.6,1143.2 1597.6,1143.3 1600.6,1143.4 1603.6,1143.6 1606.6,1143.7 1609.6,1143.8 1612.6,1143.9 1615.6,1144 1618.6,1144.1 1621.6,1144.2 1624.6,1144.3 1627.6,1144.4 1630.6,1144.5 1633.6,1144.6 1636.6,1144.8 1639.6,1144.9 1642.6,1145 1645.6,1145.1 1648.6,1145.2 1651.6,1145.3 1654.6,1145.4 1657.6,1145.5 1660.6,1145.6 1663.6,1145.7 1666.6,1145.8 1669.6,1145.9 1672.6,1146.1 1675.6,1146.2 1678.6,1146.3 1681.6,1146.4 1684.6,1146.5 1687.6,1146.6 1690.6,1146.7 1693.6,1146.8 1696.5,1146.9 1699.5,1147 1702.5,1147.1 1705.5,1147.3 1708.5,1147.4 1710,1147.4" fill="none" stroke="#fefefe" stroke-width="74" stroke-linejoin="round"/>
<path d="M293.3,801.1 295.7,799.3 298.1,797.5 300.6,795.7 303,794 305.4,792.2 307.8,790.4 310.2,788.6 312.6,786.8 315,785 317.4,783.2 319.8,781.5 322.3,779.7 324.7,777.9 327.1,776.1 329.5,774.3 331.9,772.5 334.3,770.7 336.7,768.9 339.1,767.1 341.5,765.4 343.9,763.5 346.3,761.7 348.7,759.9 351.1,758.1 353.5,756.3 355.9,754.5 358.3,752.7 360.7,750.9 363.1,749.1 365.5,747.4 368,745.6 370.4,743.9 372.8,742.1 375.3,740.4 377.7,738.6 380.1,736.8 382.6,735.1 385,733.4 387.5,731.7 390.1,730.1 392.6,728.6 395.2,727.1 397.9,725.7 400.6,724.4 403.3,723.2 406.1,722 408.9,720.9 411.7,719.8 414.5,718.8 417.3,717.8 420.2,716.9 423.1,716 425.9,715.1 428.8,714.2 431.7,713.3 434.5,712.5 437.4,711.7 440.3,711 443.3,710.3 446.2,709.6 449.1,709 452.1,708.5 455,707.9 458,707.4 460.9,706.8 463.9,706.4 466.9,705.9 469.8,705.6 472.8,705.2 475.8,704.9 478.8,704.6 481.8,704.3 484,704" fill="none" stroke="#fefefe" stroke-width="68" stroke-linejoin="round"/>
<circle cx="484.3" cy="408.0" r="89.0" fill="#fefefe"/>
<path d="M8.7,511.7 737.6,1447.5 642.5,1447.5 8.7,638.3Z" fill="#8f8f8f" stroke="none" stroke-width="1" />
<g clip-path="url(#lundclip)"><g filter="url(#soft)">
<rect x="8" y="500" width="130" height="230" fill="#000" opacity="0.05"/>
<rect x="330" y="985" width="90" height="80" fill="#000" opacity="0.06"/>
<rect x="235" y="700" width="22" height="400" fill="#fff" opacity="0.07"/>
<rect x="520" y="1150" width="40" height="300" fill="#fff" opacity="0.06"/>
<rect x="600" y="1300" width="140" height="150" fill="#000" opacity="0.04"/>
</g></g>
<path d="M8.7,511.7 737.6,1447.5 746,1447.5 387.7,980 21.7,511.7 8.7,495.3Z" fill="url(#stip2)" stroke="none" stroke-width="1" />
<path d="M8.7,495.3 21.7,511.7 387.7,980 746,1447.5" fill="none" stroke="#333" stroke-width="0.9" />
<path d="M8.7,498 19.5,511.7 385.5,980 744,1447.5" fill="none" stroke="#555" stroke-width="0.5" />
<path d="M8.7,511.7 737.6,1447.5" fill="none" stroke="#444" stroke-width="0.9" />
<path d="M8.7,638.3 642.5,1447.5 630.5,1447.5 8.7,652.5Z" fill="url(#stip2)" stroke="none" stroke-width="1" />
<path d="M8.7,652.5 630.5,1447.5" fill="none" stroke="#333" stroke-width="0.9" />
<path d="M8.7,638.3 642.5,1447.5" fill="none" stroke="#444" stroke-width="0.9" />
<path d="M8.5,477 105,600" fill="none" stroke="#222" stroke-width="1.0" stroke-dasharray="18 6" />
<path d="M105,600 200,720" fill="none" stroke="#111" stroke-width="1.3" />
<path d="M307,854.6 331,885" fill="none" stroke="#111" stroke-width="1.3" />
<path d="M367,929 628.4,1261.6" fill="none" stroke="#111" stroke-width="1.3" stroke-dasharray="24 9" />
<path d="M628.4,1261.6 665.5,1308.8" fill="none" stroke="#111" stroke-width="1.5" />
<path d="M665.5,1308.8 771.5,1446.8" fill="none" stroke="#111" stroke-width="1.3" stroke-dasharray="24 9" />
<path d="M37.7,514.3 88.6,576.6" fill="none" stroke="#222" stroke-width="1.0" stroke-dasharray="14 6" />
<path d="M8.5,685.8 488.3,1291.7" fill="none" stroke="#222" stroke-width="1.2" stroke-dasharray="22 10" />
<path d="M540,1440 600,1447" fill="none" stroke="none" stroke-width="0.1" />
<path d="M9,683 147.6,564.3" fill="none" stroke="#222" stroke-width="1.0" stroke-dasharray="16 6" />
<path d="M1690,587 1760,587 1750,1447 1686,1447Z" fill="#fefefe" stroke="none" stroke-width="1" />
<path d="M1702.5,587 1710.5,587 1704,1100 1696.5,1100Z" fill="url(#stip2)" stroke="none" stroke-width="1" />
<path d="M1747.4,587 1753.5,587 1742.5,1447 1735.5,1447Z" fill="url(#stip2)" stroke="none" stroke-width="1" />
<path d="M1710.5,587 1747.4,587 1734.5,1447 1698,1447Z" fill="#8c8c8c" stroke="none" stroke-width="1" />
<path d="M1716,1160 1735.8,1160 1734.5,1447 1717,1447Z" fill="#a2a2a2" stroke="none" stroke-width="1" />
<path d="M1699.8,1160 1716.8,1160 1716.8,1447 1697.5,1447Z" fill="#7b7b7b" stroke="none" stroke-width="1" />
<path d="M1690,1128.4 1735.5,1129.5 1735.5,1164.5 1690,1164.5Z" fill="#858585" stroke="none" stroke-width="1" />
<path d="M1672,1128.4 1702,1128.4 1702,1103 1700,1112 1690,1123Z" fill="#858585" stroke="none" stroke-width="1" />
<path d="M1672.8,1128.4 Q1701,1128 1701.5,1100" fill="none" stroke="#111" stroke-width="1.4"/>
<path d="M1674,1164 1701,1164 1701,1195 1697,1180 1688,1168Z" fill="#858585" stroke="none" stroke-width="1" />
<path d="M1674,1164 Q1700,1166 1700.5,1196" fill="none" stroke="#111" stroke-width="1.4"/>
<path d="M1710.5,587 1698,1447" fill="none" stroke="#333" stroke-width="0.9" />
<path d="M1747.4,587 1734.5,1447" fill="none" stroke="#333" stroke-width="0.9" />
<path d="M1702.5,587 1696.5,1100" fill="none" stroke="#333" stroke-width="0.8" />
<path d="M1753.5,587 1742.5,1447" fill="none" stroke="#333" stroke-width="0.8" />
<path d="M1702.5,587 1747.4,587" fill="none" stroke="#222" stroke-width="1.0" />
<path d="M1729,587 1717,1447" fill="none" stroke="#222" stroke-width="0.9" stroke-dasharray="30 4 3 4" />
<path d="M1702.5,1196 1699.5,1447" fill="none" stroke="#111" stroke-width="1.8" />
<path d="M1712.5,1158 1711,1447" fill="none" stroke="#111" stroke-width="1.8" />
<path d="M1695.7,587 1690.5,1100" fill="none" stroke="#222" stroke-width="0.9" stroke-dasharray="22 7" />
<path d="M1760.3,587 1749.4,1200 1745,1447" fill="none" stroke="#222" stroke-width="0.9" stroke-dasharray="22 7" />
<path d="M1703,1100 1703,1128" fill="none" stroke="#111" stroke-width="1.6" />
<path d="M1640,1138.8 1733,1139.5" fill="none" stroke="#111" stroke-width="2.4" />
<circle cx="1713.3" cy="1156.3" r="3.3" fill="#fff" stroke="#111" stroke-width="1.2"/>
<rect x="1681" y="1133.0" width="10" height="3.6" fill="#111"/>
<rect x="1681" y="1140.8999999999999" width="10" height="3.6" fill="#111"/>
<rect x="1681" y="1149.1" width="10" height="3.6" fill="#111"/>
<rect x="1681" y="1157.6" width="10" height="3.6" fill="#111"/>
<path d="M1702.5,600 1710.3,600" fill="none" stroke="#555" stroke-width="0.5" />
<path d="M1702.3,622 1710.1,622" fill="none" stroke="#555" stroke-width="0.5" />
<path d="M1702,644 1709.8,644" fill="none" stroke="#555" stroke-width="0.5" />
<path d="M1701.8,666 1709.5,666" fill="none" stroke="#555" stroke-width="0.5" />
<path d="M1701.5,688 1709.2,688" fill="none" stroke="#555" stroke-width="0.5" />
<path d="M1701.2,710 1708.9,710" fill="none" stroke="#555" stroke-width="0.5" />
<path d="M1701,732 1708.7,732" fill="none" stroke="#555" stroke-width="0.5" />
<path d="M1700.7,754 1708.4,754" fill="none" stroke="#555" stroke-width="0.5" />
<path d="M1700.4,776 1708.1,776" fill="none" stroke="#555" stroke-width="0.5" />
<path d="M1700.2,798 1707.8,798" fill="none" stroke="#555" stroke-width="0.5" />
<path d="M1699.9,820 1707.5,820" fill="none" stroke="#555" stroke-width="0.5" />
<path d="M1699.6,842 1707.3,842" fill="none" stroke="#555" stroke-width="0.5" />
<path d="M1699.4,864 1707,864" fill="none" stroke="#555" stroke-width="0.5" />
<path d="M1699.1,886 1706.7,886" fill="none" stroke="#555" stroke-width="0.5" />
<path d="M1698.8,908 1706.4,908" fill="none" stroke="#555" stroke-width="0.5" />
<path d="M1698.6,930 1706.1,930" fill="none" stroke="#555" stroke-width="0.5" />
<path d="M1698.3,952 1705.9,952" fill="none" stroke="#555" stroke-width="0.5" />
<path d="M1698.1,974 1705.6,974" fill="none" stroke="#555" stroke-width="0.5" />
<path d="M1697.8,996 1705.3,996" fill="none" stroke="#555" stroke-width="0.5" />
<path d="M1697.5,1018 1705,1018" fill="none" stroke="#555" stroke-width="0.5" />
<path d="M1697.3,1040 1704.7,1040" fill="none" stroke="#555" stroke-width="0.5" />
<path d="M1697,1062 1704.5,1062" fill="none" stroke="#555" stroke-width="0.5" />
<path d="M1696.7,1084 1704.2,1084" fill="none" stroke="#555" stroke-width="0.5" />
<path d="M508.2,563 508.2,566 508.2,569 508.2,572.1 508.2,575.1 508.2,578.1 508.2,581.1 508.2,584.1 508.2,587 508.1,590 508.2,593 508.2,595.9 508.2,598.9 508.2,601.8 508.2,604.7 508.2,607.6 508.3,610.5 508.3,613.4 508.4,616.3 508.5,619.4 508.6,622.4 508.6,625.5 508.7,628.6 508.7,631.7 508.7,634.7 508.8,637.7 508.8,640.6 508.9,643.5 508.9,646.4 509,649.2 509.1,652 509.2,654.7 509.3,657.4 509.5,660.1 509.7,662.7 509.9,665.3 510.2,667.8 510.5,670.3 510.9,672.8 511.3,675.3 511.8,677.7 512.2,680.2 512.8,682.7 513.4,685.2 514.1,687.7 514.7,690.3 515.5,692.9 516.2,695.5 517,698.2 517.9,700.8 518.7,703.5 519.6,706.2 520.5,708.9 521.5,711.7 522.4,714.4 523.4,717.2 524.3,720 525.3,722.9 526.3,725.7 527.3,728.6 528.3,731.4 529.3,734.3 530.2,737 531.2,739.8 532.2,742.5 533.1,745.3 534.1,748 535.1,750.8 536.1,753.5 537.1,756.2 538.2,759 539.2,761.7 540.2,764.4 541.3,767.1 542.3,769.8 543.4,772.5 544.4,775.1 545.5,777.8 546.6,780.4 547.7,783 548.8,785.5 549.9,788.1 551.1,790.6 552.2,793.1 553.4,795.6 554.6,798 555.8,800.4 557,802.8 558.3,805.2 559.5,807.5 560.9,809.8 562.2,812.2 563.6,814.5 565,816.9 566.5,819.3 568,821.7 569.5,824.1 571.1,826.5 572.6,828.8 574.1,831.2 575.7,833.5 577.2,835.8 578.9,838.1 580.5,840.4 582.1,842.7 583.8,845 585.5,847.2 587.2,849.5 588.9,851.8 590.6,854.1 592.4,856.4 594.2,858.6 596,860.9 597.7,863.1 599.5,865.3 601.2,867.5 603,869.6 604.8,871.8 606.6,873.9 608.5,876 610.4,878.2 612.3,880.4 614.3,882.6 616.3,884.8 618.2,887 620.2,889.3 622.3,891.5 624.3,893.8 626.3,896.1 628.4,898.5 630.4,900.8 632.5,903.2 634.5,905.5 636.5,907.9 638.5,910.2 640.4,912.5 642.3,914.8 644.3,917.1 646.2,919.4 648.1,921.6 650,923.9 651.9,926.1 653.7,928.3 655.6,930.4 657.5,932.5 659.3,934.6 661.2,936.6 663,938.7 664.9,940.6 666.8,942.6 668.7,944.5 670.6,946.4 672.6,948.3 674.5,950.1 676.5,952 678.6,953.8 680.6,955.7 682.7,957.5 684.9,959.4 687.1,961.2 689.3,963.1 691.5,965 693.8,966.9 696.1,968.8 698.4,970.7 700.7,972.6 702.9,974.5 705.2,976.4 707.4,978.2 709.7,980.1 712,982 714.3,983.8 716.6,985.7 718.9,987.5 721.1,989.3 723.4,991.2 725.7,993 728,994.8 730.3,996.6 732.7,998.4 735,1000.2 737.3,1002 739.6,1003.8 741.9,1005.5 744.2,1007.3 746.6,1009.1 749,1010.8 751.4,1012.6 753.8,1014.4 756.1,1016.2 758.5,1018 760.9,1019.7 763.2,1021.4 765.6,1023.2 767.9,1024.9 770.2,1026.5 772.6,1028.2 774.9,1029.8 777.2,1031.4 779.5,1033 781.8,1034.6 784.1,1036.1 786.4,1037.6 788.7,1039 791,1040.5 793.3,1041.8 795.6,1043.2 798,1044.6 800.4,1045.9 802.8,1047.2 805.2,1048.4 807.6,1049.7 810.1,1051 812.6,1052.2 815,1053.4 817.6,1054.6 820.1,1055.7 822.6,1056.9 825.2,1058 827.8,1059.2 830.4,1060.3 833,1061.4 835.6,1062.5 838.2,1063.5 840.8,1064.6 843.4,1065.6 846,1066.5 848.5,1067.5 851.1,1068.4 853.7,1069.3 856.3,1070.2 859,1071 861.7,1071.9 864.4,1072.7 867.1,1073.6 869.9,1074.4 872.6,1075.2 875.4,1076 878.2,1076.8 881,1077.6 883.8,1078.4 886.7,1079.1 889.5,1079.9 892.3,1080.7 895.1,1081.4 898,1082.2 900.7,1082.9 903.5,1083.6 906.3,1084.3 909.1,1085 911.8,1085.6 914.6,1086.3 917.3,1086.9 920.1,1087.5 922.8,1088 925.5,1088.6 928.2,1089.1 931,1089.6 933.6,1090 936.3,1090.5 939,1090.9 941.7,1091.2 944.5,1091.6 947.2,1091.9 949.9,1092.2 952.7,1092.5 955.5,1092.8 958.3,1093 961.2,1093.3 964,1093.5 966.9,1093.7 969.8,1093.9 972.8,1094.1 975.7,1094.3 978.7,1094.5 981.6,1094.6 984.5,1094.8 987.4,1095 990.3,1095.1 993.2,1095.2 996.1,1095.4 999,1095.5 1001.9,1095.6 1004.8,1095.7 1007.8,1095.8 1010.8,1095.9 1013.7,1095.9 1016.7,1096 1019.7,1096.1 1022.7,1096.2 1025.7,1096.3 1028.7,1096.4 1031.7,1096.4 1034.8,1096.5 1037.8,1096.6 1040.8,1096.7 1043.9,1096.8 1046.8,1096.9 1049.8,1097 1052.8,1097.1 1055.8,1097.2 1058.8,1097.3 1061.8,1097.4 1064.8,1097.5 1067.8,1097.6 1070.8,1097.7 1073.8,1097.8 1076.8,1097.9 1079.8,1098 1082.8,1098 1085.8,1098.1 1088.8,1098.2 1091.8,1098.3 1094.8,1098.4 1097.8,1098.5 1100.8,1098.6 1103.9,1098.7 1106.9,1098.8 1109.9,1098.9 1112.9,1099.1 1115.9,1099.2 1118.9,1099.3 1121.9,1099.4 1124.9,1099.5 1127.9,1099.6 1130.9,1099.7 1133.9,1099.8 1136.9,1099.9 1139.9,1100 1142.9,1100.1 1145.9,1100.2 1148.9,1100.4 1151.9,1100.5 1154.9,1100.6 1157.9,1100.7 1160.9,1100.8 1163.9,1100.9 1166.9,1101 1169.9,1101.1 1172.9,1101.2 1175.9,1101.3 1178.9,1101.4 1181.9,1101.5 1184.9,1101.7 1187.9,1101.8 1190.8,1101.9 1193.8,1102 1196.8,1102.1 1199.8,1102.2 1202.8,1102.3 1205.8,1102.4 1208.8,1102.5 1211.8,1102.6 1214.8,1102.7 1217.8,1102.9 1220.8,1103 1223.8,1103.1 1226.8,1103.2 1229.8,1103.3 1232.8,1103.4 1235.8,1103.5 1238.8,1103.6 1241.8,1103.7 1244.8,1103.8 1247.8,1103.9 1250.8,1104 1253.8,1104.2 1256.8,1104.3 1259.8,1104.4 1262.8,1104.5 1265.8,1104.6 1268.8,1104.7 1271.8,1104.8 1274.8,1104.9 1277.8,1105 1280.8,1105.1 1283.8,1105.2 1286.8,1105.4 1289.8,1105.5 1292.8,1105.6 1295.8,1105.7 1298.8,1105.8 1301.8,1105.9 1304.8,1106 1307.8,1106.1 1310.8,1106.2 1313.8,1106.3 1316.8,1106.4 1319.8,1106.5 1322.8,1106.7 1325.8,1106.8 1328.8,1106.9 1331.8,1107 1334.8,1107.1 1337.8,1107.2 1340.8,1107.3 1343.7,1107.4 1346.7,1107.5 1349.7,1107.6 1352.7,1107.7 1355.7,1107.9 1358.7,1108 1361.7,1108.1 1364.7,1108.2 1367.7,1108.3 1370.7,1108.4 1373.7,1108.5 1376.7,1108.6 1379.7,1108.7 1382.7,1108.8 1385.7,1108.9 1388.7,1109 1391.7,1109.2 1394.7,1109.3 1397.7,1109.4 1400.7,1109.5 1403.7,1109.6 1406.7,1109.7 1409.7,1109.8 1412.7,1109.9 1415.7,1110 1418.7,1110.1 1421.7,1110.2 1424.7,1110.4 1427.7,1110.5 1430.7,1110.6 1433.7,1110.7 1436.7,1110.8 1439.7,1110.9 1442.7,1111 1445.7,1111.1 1448.7,1111.2 1451.7,1111.3 1454.7,1111.4 1457.7,1111.5 1460.7,1111.7 1463.7,1111.8 1466.7,1111.9 1469.7,1112 1472.7,1112.1 1475.7,1112.2 1478.7,1112.3 1481.7,1112.4 1484.7,1112.5 1487.7,1112.6 1490.7,1112.7 1493.7,1112.9 1496.6,1113 1499.6,1113.1 1502.6,1113.2 1505.6,1113.3 1508.6,1113.4 1511.6,1113.5 1514.6,1113.6 1517.6,1113.7 1520.6,1113.8 1523.6,1113.9 1526.6,1114 1529.6,1114.2 1532.6,1114.3 1535.6,1114.4 1538.6,1114.5 1541.6,1114.6 1544.6,1114.7 1547.6,1114.8 1550.6,1114.9 1553.6,1115 1556.6,1115.1 1559.6,1115.2 1562.6,1115.4 1565.6,1115.5 1568.6,1115.6 1571.6,1115.7 1574.6,1115.8 1577.6,1115.9 1580.6,1116 1583.6,1116.1 1586.6,1116.2 1589.6,1116.3 1592.6,1116.4 1595.6,1116.5 1598.6,1116.7 1601.6,1116.8 1604.6,1116.9 1607.6,1117 1610.6,1117.1 1613.6,1117.2 1616.6,1117.3 1619.6,1117.4 1622.6,1117.5 1625.6,1117.6 1628.6,1117.7 1631.6,1117.9 1634.6,1118 1637.6,1118.1 1640.6,1118.2 1643.6,1118.3 1646.6,1118.4 1649.5,1118.5 1652.5,1118.6 1655.5,1118.7 1658.5,1118.8 1661.5,1118.9 1664.5,1119 1667.5,1119.2 1670.5,1119.3 1673.5,1119.4 1676.5,1119.5 1679.5,1119.6 1682.5,1119.7 1682.9,1109.9 1679.9,1109.8 1676.9,1109.7 1673.9,1109.6 1670.9,1109.5 1667.9,1109.4 1664.9,1109.3 1661.9,1109.1 1658.9,1109 1655.9,1108.9 1652.9,1108.8 1649.9,1108.7 1646.9,1108.6 1643.9,1108.5 1640.9,1108.4 1637.9,1108.3 1634.9,1108.2 1631.9,1108.1 1628.9,1107.9 1625.9,1107.8 1622.9,1107.7 1619.9,1107.6 1616.9,1107.5 1613.9,1107.4 1610.9,1107.3 1607.9,1107.2 1604.9,1107.1 1601.9,1107 1598.9,1106.9 1595.9,1106.8 1592.9,1106.6 1589.9,1106.5 1586.9,1106.4 1583.9,1106.3 1580.9,1106.2 1578,1106.1 1575,1106 1572,1105.9 1569,1105.8 1566,1105.7 1563,1105.6 1560,1105.4 1557,1105.3 1554,1105.2 1551,1105.1 1548,1105 1545,1104.9 1542,1104.8 1539,1104.7 1536,1104.6 1533,1104.5 1530,1104.4 1527,1104.3 1524,1104.1 1521,1104 1518,1103.9 1515,1103.8 1512,1103.7 1509,1103.6 1506,1103.5 1503,1103.4 1500,1103.3 1497,1103.2 1494,1103.1 1491,1103 1488,1102.8 1485,1102.7 1482,1102.6 1479,1102.5 1476,1102.4 1473,1102.3 1470,1102.2 1467,1102.1 1464,1102 1461,1101.9 1458,1101.8 1455,1101.6 1452,1101.5 1449,1101.4 1446,1101.3 1443,1101.2 1440,1101.1 1437,1101 1434,1100.9 1431,1100.8 1428,1100.7 1425.1,1100.6 1422.1,1100.5 1419.1,1100.3 1416.1,1100.2 1413.1,1100.1 1410.1,1100 1407.1,1099.9 1404.1,1099.8 1401.1,1099.7 1398.1,1099.6 1395.1,1099.5 1392.1,1099.4 1389.1,1099.3 1386.1,1099.1 1383.1,1099 1380.1,1098.9 1377.1,1098.8 1374.1,1098.7 1371.1,1098.6 1368.1,1098.5 1365.1,1098.4 1362.1,1098.3 1359.1,1098.2 1356.1,1098.1 1353.1,1098 1350.1,1097.8 1347.1,1097.7 1344.1,1097.6 1341.1,1097.5 1338.1,1097.4 1335.1,1097.3 1332.1,1097.2 1329.1,1097.1 1326.1,1097 1323.1,1096.9 1320.1,1096.8 1317.1,1096.6 1314.1,1096.5 1311.1,1096.4 1308.1,1096.3 1305.1,1096.2 1302.1,1096.1 1299.1,1096 1296.1,1095.9 1293.1,1095.8 1290.1,1095.7 1287.1,1095.6 1284.1,1095.5 1281.1,1095.3 1278.1,1095.2 1275.1,1095.1 1272.2,1095 1269.2,1094.9 1266.2,1094.8 1263.2,1094.7 1260.2,1094.6 1257.2,1094.5 1254.2,1094.4 1251.2,1094.3 1248.2,1094.1 1245.2,1094 1242.2,1093.9 1239.2,1093.8 1236.2,1093.7 1233.2,1093.6 1230.2,1093.5 1227.2,1093.4 1224.2,1093.3 1221.2,1093.2 1218.2,1093.1 1215.2,1093 1212.2,1092.8 1209.2,1092.7 1206.2,1092.6 1203.2,1092.5 1200.2,1092.4 1197.2,1092.3 1194.2,1092.2 1191.2,1092.1 1188.2,1092 1185.2,1091.9 1182.2,1091.8 1179.2,1091.6 1176.2,1091.5 1173.2,1091.4 1170.2,1091.3 1167.2,1091.2 1164.2,1091.1 1161.2,1091 1158.2,1090.9 1155.2,1090.8 1152.2,1090.7 1149.2,1090.6 1146.2,1090.5 1143.2,1090.3 1140.2,1090.2 1137.2,1090.1 1134.2,1090 1131.2,1089.9 1128.2,1089.8 1125.2,1089.7 1122.2,1089.6 1119.3,1089.5 1116.3,1089.4 1113.3,1089.3 1110.3,1089.1 1107.3,1089 1104.3,1088.9 1101.2,1088.8 1098.1,1088.7 1095.1,1088.6 1092.1,1088.5 1089.1,1088.4 1086.1,1088.3 1083.1,1088.3 1080.1,1088.2 1077.1,1088.1 1074.1,1088 1071.1,1087.9 1068.1,1087.8 1065.1,1087.7 1062.1,1087.6 1059.1,1087.5 1056.1,1087.4 1053.1,1087.3 1050.2,1087.2 1047.2,1087.1 1044.2,1087 1041.1,1086.9 1038.1,1086.8 1035.1,1086.7 1032,1086.6 1029,1086.6 1026,1086.5 1023,1086.4 1020,1086.3 1017,1086.2 1014,1086.1 1011,1086.1 1008.1,1086 1005.2,1085.9 1002.2,1085.8 999.3,1085.7 996.4,1085.6 993.6,1085.5 990.7,1085.3 987.9,1085.2 985.1,1085 982.2,1084.9 979.3,1084.7 976.4,1084.5 973.4,1084.3 970.5,1084.1 967.6,1083.9 964.8,1083.7 961.9,1083.5 959.2,1083.3 956.4,1083 953.7,1082.8 951,1082.5 948.3,1082.2 945.7,1081.9 943,1081.5 940.4,1081.2 937.8,1080.8 935.2,1080.4 932.7,1079.9 930,1079.4 927.4,1079 924.7,1078.4 922.1,1077.9 919.4,1077.3 916.7,1076.7 914.1,1076.1 911.3,1075.4 908.6,1074.8 905.9,1074.1 903.2,1073.4 900.4,1072.7 897.6,1072 894.9,1071.2 892.1,1070.5 889.3,1069.7 886.5,1068.9 883.6,1068.1 880.9,1067.4 878.1,1066.6 875.4,1065.8 872.6,1065 869.9,1064.2 867.3,1063.4 864.6,1062.5 862,1061.7 859.4,1060.9 856.9,1060 854.4,1059.1 851.8,1058.2 849.4,1057.3 846.9,1056.4 844.4,1055.4 841.9,1054.4 839.3,1053.4 836.7,1052.3 834.2,1051.3 831.7,1050.2 829.1,1049.1 826.7,1048 824.2,1046.8 821.7,1045.7 819.3,1044.5 816.9,1043.4 814.5,1042.2 812.1,1041 809.7,1039.8 807.4,1038.6 805.1,1037.3 802.8,1036 800.6,1034.7 798.3,1033.4 796.1,1032.1 793.9,1030.7 791.7,1029.3 789.5,1027.9 787.3,1026.4 785,1024.9 782.8,1023.4 780.5,1021.8 778.2,1020.2 775.9,1018.6 773.6,1016.9 771.3,1015.2 769,1013.5 766.7,1011.8 764.3,1010.1 762,1008.3 759.6,1006.6 757.2,1004.8 754.8,1003 752.5,1001.2 750.1,999.5 747.8,997.7 745.5,996 743.2,994.2 741,992.5 738.7,990.7 736.4,988.9 734.1,987.1 731.8,985.3 729.5,983.5 727.3,981.7 725,979.9 722.7,978 720.5,976.2 718.2,974.4 715.9,972.5 713.7,970.7 711.4,968.8 709.2,967 706.9,965.1 704.7,963.2 702.4,961.3 700.1,959.4 697.8,957.5 695.6,955.6 693.4,953.8 691.3,951.9 689.1,950.1 687.1,948.3 685.2,946.6 683.2,944.7 681.2,943 679.4,941.2 677.5,939.4 675.6,937.5 673.8,935.7 672,933.8 670.2,931.9 668.4,930 666.6,928.1 664.8,926 663,924 661.2,921.9 659.3,919.7 657.4,917.5 655.6,915.3 653.7,913.1 651.8,910.8 649.8,908.5 647.9,906.2 645.9,903.9 644,901.6 641.9,899.2 639.9,896.8 637.8,894.4 635.8,892 633.7,889.7 631.6,887.3 629.6,885 627.6,882.8 625.6,880.5 623.6,878.3 621.6,876.1 619.7,873.9 617.8,871.8 615.9,869.6 614.1,867.5 612.3,865.4 610.5,863.3 608.8,861.2 607.1,859.1 605.4,857 603.7,854.9 601.9,852.6 600.2,850.4 598.4,848.1 596.7,845.9 595,843.7 593.4,841.4 591.7,839.2 590.1,836.9 588.5,834.7 586.9,832.5 585.3,830.2 583.8,828 582.3,825.7 580.8,823.5 579.3,821.2 577.8,818.8 576.3,816.5 574.8,814.1 573.4,811.8 572,809.5 570.7,807.2 569.4,805 568.1,802.7 566.9,800.5 565.7,798.3 564.5,796 563.4,793.7 562.2,791.3 561.1,788.9 560,786.6 558.9,784.1 557.8,781.6 556.7,779.1 555.6,776.6 554.6,774 553.5,771.4 552.5,768.8 551.4,766.2 550.4,763.5 549.4,760.9 548.3,758.2 547.3,755.5 546.3,752.8 545.3,750.1 544.3,747.4 543.3,744.7 542.4,742 541.4,739.3 540.4,736.5 539.5,733.8 538.5,731.1 537.5,728.2 536.6,725.4 535.6,722.5 534.6,719.6 533.6,716.8 532.6,714 531.7,711.2 530.7,708.5 529.8,705.8 528.9,703.1 528.1,700.5 527.2,697.9 526.4,695.3 525.6,692.7 524.9,690.2 524.2,687.7 523.5,685.3 522.9,682.9 522.4,680.4 521.8,678.1 521.4,675.8 520.9,673.6 520.6,671.3 520.2,669 520,666.7 519.7,664.3 519.5,661.9 519.3,659.4 519.1,656.9 519,654.3 518.9,651.6 518.8,648.9 518.7,646.2 518.7,643.3 518.6,640.5 518.6,637.6 518.5,634.6 518.5,631.6 518.5,628.5 518.4,625.3 518.4,622.2 518.3,619.1 518.2,616.1 518.1,613.2 518.1,610.4 518,607.5 518,604.6 518,601.7 518,598.8 518,595.9 518,593 517.9,590 518,587.1 518,584.1 518,581.1 518,578.1 518,575.1 518,572.1 518,569.1 518,566 518,563Z" fill="url(#stip2)" stroke="none" stroke-width="1" />
<path d="M454.8,560 454.8,563 454.8,566 454.8,569 454.8,571.9 454.8,574.9 454.8,577.9 454.8,580.9 454.8,583.9 454.8,587 454.8,590 454.8,593 454.8,596.1 454.8,599.1 454.8,602.2 454.8,605.3 454.9,608.4 454.9,611.5 455,614.6 455,617.7 455.1,620.6 455.2,623.6 455.2,626.5 455.3,629.4 455.3,632.3 455.4,635.3 455.4,638.3 455.4,641.4 455.5,644.5 455.5,647.6 455.6,650.8 455.7,654 455.8,657.2 456,660.5 456.2,663.9 456.5,667.2 456.7,669.1 456.7,669.1 456.9,671.5 456.8,673.7 456.5,675.8 455.9,677.6 455.1,679.3 454,680.8 452.6,682.1 451,683.2 449.2,684.2 447,684.9 444.7,685.5 444.7,685.5 444.4,685.5 441.2,686.2 437.9,686.9 434.7,687.6 431.4,688.5 428.1,689.4 424.9,690.3 421.8,691.2 418.8,692.1 415.8,693.1 412.7,694.1 409.6,695.1 406.5,696.2 403.3,697.3 400.2,698.5 397,699.8 393.8,701.2 390.4,702.6 387.1,704.3 383.8,706 380.5,707.8 377.4,709.7 374.4,711.6 371.6,713.5 368.8,715.5 366.1,717.3 363.6,719.2 361.1,721 358.7,722.7 356.4,724.4 354,726.1 351.5,727.9 349,729.8 346.4,731.6 344,733.5 341.5,735.3 339,737.1 336.6,739 334.2,740.8 331.8,742.6 329.5,744.4 327.1,746.2 324.8,747.9 322.4,749.7 320,751.5 317.6,753.3 315.2,755 312.8,756.8 310.4,758.6 307.9,760.4 305.5,762.2 303.1,764 300.7,765.8 298.3,767.5 295.9,769.3 293.5,771.1 291.1,772.9 288.7,774.7 286.3,776.4 283.9,778.2 281.5,780 279,781.8 276.6,783.6 274.2,785.4 273.7,774.6 276.1,772.8 278.5,771 280.9,769.2 283.4,767.4 285.7,765.7 288.1,763.9 290.5,762.1 293,760.3 295.4,758.5 297.8,756.7 300.2,755 302.6,753.2 305,751.4 307.4,749.6 309.8,747.8 312.2,746 314.6,744.2 317,742.5 319.4,740.7 321.7,739 324,737.2 326.4,735.4 328.8,733.6 331.2,731.8 333.6,730 336.1,728.1 338.6,726.2 341.1,724.4 343.7,722.5 346.3,720.6 348.8,718.8 351.1,717.1 353.4,715.5 355.8,713.7 358.3,711.9 360.9,710 363.6,708.1 366.5,706.1 369.5,704.1 372.7,702.1 376,700.1 379.5,698.1 383,696.3 386.6,694.5 390.2,692.9 393.6,691.5 396.9,690.1 400.2,688.9 403.5,687.7 406.8,686.6 409.9,685.5 413,684.5 416.1,683.6 419.2,682.6 422.3,681.7 425.7,680.7 429.1,679.8 432.6,678.9 435.8,678.1 435.8,678.1 437.8,677.6 439.6,677 441.2,676.1 442.6,675.1 443.8,674 444.8,672.7 445.5,671.2 446.1,669.6 446.4,667.8 446.5,665.9 446.4,663.8 446.4,663.8 446.2,661.1 446.1,657.7 445.9,654.3 445.8,651.1 445.7,647.8 445.7,644.6 445.6,641.5 445.6,638.4 445.6,635.4 445.5,632.4 445.5,629.5 445.4,626.7 445.4,623.8 445.3,620.9 445.2,617.9 445.2,614.8 445.1,611.6 445.1,608.5 445,605.4 445,602.3 445,599.2 445,596.1 445,593 445,590 445,586.9 445,583.9 445,580.9 445,577.9 445,574.9 445,571.9 445,568.9 445,566 445,563 445,560.1Z" fill="url(#stip2)" stroke="none" stroke-width="1" />
<path d="M300.4,825.7 302.8,823.9 305.2,822.2 307.6,820.4 310,818.6 312.4,816.8 314.8,815 317.2,813.3 319.7,811.5 322.1,809.7 324.5,807.9 326.9,806.1 329.3,804.3 331.7,802.5 334.1,800.7 336.6,798.9 339,797.2 341.4,795.4 343.8,793.6 346.2,791.8 348.6,790 351,788.2 353.5,786.4 355.9,784.5 358.4,782.7 360.8,780.9 363.2,779.1 365.6,777.3 367.9,775.5 370.3,773.7 372.6,772 374.9,770.2 377.2,768.5 379.6,766.9 381.9,765.2 384.5,763.4 387,761.5 389.4,759.7 391.8,758 394.1,756.3 396.4,754.7 398.5,753.3 400.6,751.9 402.7,750.5 404.7,749.3 406.7,748.2 408.7,747.1 410.8,746.1 412.9,745.2 415.2,744.2 417.6,743.3 420,742.3 422.5,741.4 425.1,740.6 427.7,739.7 430.3,738.8 433,738 435.8,737.1 438.4,736.3 441,735.6 443.5,734.9 446,734.3 448.6,733.7 451.2,733.1 453.9,732.6 455.4,732.3 455.4,732.3 458.2,731.9 460.8,731.9 463.2,732.1 465.5,732.7 467.5,733.5 469.4,734.6 471.2,736.1 472.7,737.8 474.1,739.8 475.3,742.1 476.4,744.7 476.4,744.7 476.8,746 477.8,748.8 478.8,751.7 479.8,754.6 480.8,757.5 481.8,760.4 482.9,763.3 483.9,766.2 485,769.1 486,772 487.1,774.9 488.2,777.8 489.3,780.7 490.4,783.6 491.5,786.5 492.6,789.4 493.8,792.3 495,795.2 496.1,798.1 497.3,801 498.6,803.9 499.9,806.9 501.2,809.8 502.5,812.8 503.8,815.7 505.2,818.7 506.7,821.6 508.2,824.6 509.7,827.5 511.2,830.5 512.9,833.4 514.5,836.3 516.1,839.1 517.8,842 519.5,844.7 521.1,847.4 522.8,850.1 524.5,852.8 526.2,855.4 527.9,858.1 529.7,860.8 531.5,863.5 533.3,866.1 535.1,868.7 537,871.4 538.9,873.9 540.7,876.5 542.6,879 544.5,881.5 546.4,884.1 548.3,886.6 550.2,889 552.1,891.5 554,893.9 556,896.4 558,898.9 560,901.4 562.1,903.9 564.1,906.3 566.2,908.8 568.3,911.1 570.3,913.5 572.4,915.8 574.4,918.1 576.4,920.4 578.4,922.6 580.4,924.8 582.4,927 584.3,929.3 586.3,931.4 588.2,933.6 590.1,935.8 592,938 593.8,940.2 595.7,942.4 597.6,944.6 599.5,946.9 601.5,949.2 603.4,951.5 605.4,953.8 607.3,956.2 609.3,958.5 611.3,960.9 613.4,963.2 615.4,965.6 617.5,968 619.7,970.4 621.9,972.8 624.1,975.2 626.4,977.6 628.6,979.9 631,982.3 633.3,984.6 635.6,986.8 638.1,989.1 640.5,991.4 642.8,993.5 645.3,995.7 647.7,997.8 650.1,999.9 652.5,1001.9 654.8,1003.9 657.2,1005.9 659.5,1007.8 661.8,1009.8 664.1,1011.7 666.5,1013.6 668.8,1015.6 671.2,1017.6 673.5,1019.5 675.9,1021.4 678.3,1023.4 680.7,1025.3 683,1027.2 685.4,1029.1 687.8,1031.1 690.2,1033 692.6,1034.9 695,1036.8 697.4,1038.7 699.9,1040.6 702.3,1042.5 704.7,1044.3 707.2,1046.2 709.6,1048.1 712.1,1049.9 714.5,1051.8 717,1053.6 719.4,1055.4 721.8,1057.2 724.2,1059 726.7,1060.8 729.1,1062.7 731.6,1064.5 734.1,1066.3 736.6,1068.1 739.1,1070 741.7,1071.8 744.3,1073.6 746.9,1075.4 749.5,1077.2 752.2,1079 754.9,1080.8 757.6,1082.6 760.4,1084.3 763.2,1086.1 766.1,1087.8 768.9,1089.4 771.8,1091.1 774.6,1092.7 777.5,1094.2 780.4,1095.8 783.3,1097.3 786.2,1098.7 789.1,1100.2 792,1101.6 794.9,1102.9 797.8,1104.3 800.7,1105.6 803.7,1106.9 806.6,1108.2 809.5,1109.4 812.4,1110.7 815.3,1111.9 818.3,1113.1 821.3,1114.2 824.3,1115.4 827.3,1116.6 830.4,1117.7 833.5,1118.8 836.5,1119.8 839.6,1120.9 842.6,1121.9 845.7,1122.8 848.7,1123.8 851.7,1124.7 854.7,1125.6 857.7,1126.5 860.7,1127.3 863.7,1128.2 866.6,1129 869.6,1129.8 872.5,1130.6 875.5,1131.4 878.5,1132.3 881.5,1133 884.4,1133.8 887.5,1134.6 890.5,1135.4 893.5,1136.2 896.6,1136.9 899.7,1137.6 902.8,1138.3 905.9,1139 909,1139.7 912.2,1140.4 915.3,1141 918.5,1141.6 921.7,1142.2 924.9,1142.7 928.1,1143.2 931.4,1143.7 934.6,1144.2 937.8,1144.6 941.1,1145 944.3,1145.3 947.5,1145.7 950.7,1146 953.8,1146.2 956.9,1146.5 960.1,1146.7 963.2,1147 966.2,1147.2 969.3,1147.4 972.3,1147.6 975.3,1147.8 978.4,1148 981.5,1148.1 984.6,1148.3 987.7,1148.5 990.8,1148.6 993.9,1148.7 997,1148.8 1000.1,1148.9 1003.1,1149.1 1006.2,1149.1 1009.2,1149.2 1012.2,1149.3 1015.2,1149.4 1018.3,1149.5 1021.3,1149.6 1024.3,1149.6 1027.2,1149.7 1030.2,1149.8 1033.2,1149.9 1036.1,1150 1039.1,1150.1 1042.1,1150.2 1045.1,1150.3 1048.1,1150.4 1051.1,1150.5 1054.1,1150.6 1057.1,1150.7 1060.1,1150.8 1063.1,1150.9 1066.1,1151 1069.1,1151 1072.1,1151.1 1075.1,1151.2 1078.1,1151.3 1081.1,1151.4 1084.1,1151.5 1087.1,1151.6 1090.1,1151.7 1093.1,1151.8 1096.1,1151.9 1099,1152 1102,1152.1 1105,1152.2 1108,1152.3 1111,1152.4 1114,1152.5 1117,1152.6 1120,1152.7 1123,1152.8 1126,1153 1129,1153.1 1132,1153.2 1135,1153.3 1137.9,1153.4 1140.9,1153.5 1143.9,1153.6 1146.9,1153.7 1149.9,1153.8 1152.9,1153.9 1155.9,1154 1158.9,1154.2 1161.9,1154.3 1164.9,1154.4 1167.9,1154.5 1170.9,1154.6 1173.9,1154.7 1176.9,1154.8 1179.9,1154.9 1182.9,1155 1185.9,1155.1 1188.9,1155.2 1191.9,1155.3 1194.9,1155.5 1197.9,1155.6 1200.9,1155.7 1203.9,1155.8 1206.9,1155.9 1209.9,1156 1212.9,1156.1 1215.9,1156.2 1218.9,1156.3 1221.9,1156.4 1224.9,1156.5 1227.9,1156.7 1230.9,1156.8 1233.9,1156.9 1236.9,1157 1239.9,1157.1 1242.9,1157.2 1245.9,1157.3 1248.9,1157.4 1251.9,1157.5 1254.9,1157.6 1257.9,1157.7 1260.9,1157.8 1263.9,1158 1266.9,1158.1 1269.9,1158.2 1272.9,1158.3 1275.9,1158.4 1278.9,1158.5 1281.9,1158.6 1284.9,1158.7 1287.9,1158.8 1290.8,1158.9 1293.8,1159 1296.8,1159.2 1299.8,1159.3 1302.8,1159.4 1305.8,1159.5 1308.8,1159.6 1311.8,1159.7 1314.8,1159.8 1317.8,1159.9 1320.8,1160 1323.8,1160.1 1326.8,1160.2 1329.8,1160.3 1332.8,1160.5 1335.8,1160.6 1338.8,1160.7 1341.8,1160.8 1344.8,1160.9 1347.8,1161 1350.8,1161.1 1353.8,1161.2 1356.8,1161.3 1359.8,1161.4 1362.8,1161.5 1365.8,1161.7 1368.8,1161.8 1371.8,1161.9 1374.8,1162 1377.8,1162.1 1380.8,1162.2 1383.8,1162.3 1386.8,1162.4 1389.8,1162.5 1392.8,1162.6 1395.8,1162.7 1398.8,1162.8 1401.8,1163 1404.8,1163.1 1407.8,1163.2 1410.8,1163.3 1413.8,1163.4 1416.8,1163.5 1419.8,1163.6 1422.8,1163.7 1425.8,1163.8 1428.8,1163.9 1431.8,1164 1434.8,1164.2 1437.8,1164.3 1440.7,1164.4 1443.7,1164.5 1446.7,1164.6 1449.7,1164.7 1452.7,1164.8 1455.7,1164.9 1458.7,1165 1461.7,1165.1 1464.7,1165.2 1467.7,1165.3 1470.7,1165.5 1473.7,1165.6 1476.7,1165.7 1479.7,1165.8 1482.7,1165.9 1485.7,1166 1488.7,1166.1 1491.7,1166.2 1494.7,1166.3 1497.7,1166.4 1500.7,1166.5 1503.7,1166.7 1506.7,1166.8 1509.7,1166.9 1512.7,1167 1515.7,1167.1 1518.7,1167.2 1521.7,1167.3 1524.7,1167.4 1527.7,1167.5 1530.7,1167.6 1533.7,1167.7 1536.7,1167.8 1539.7,1168 1542.7,1168.1 1545.7,1168.2 1548.7,1168.3 1551.7,1168.4 1554.7,1168.5 1557.7,1168.6 1560.7,1168.7 1563.7,1168.8 1566.7,1168.9 1569.7,1169 1572.7,1169.2 1575.7,1169.3 1578.7,1169.4 1581.7,1169.5 1584.7,1169.6 1587.7,1169.7 1590.7,1169.8 1593.6,1169.9 1596.6,1170 1599.6,1170.1 1602.6,1170.2 1605.6,1170.3 1608.6,1170.5 1611.6,1170.6 1614.6,1170.7 1617.6,1170.8 1620.6,1170.9 1623.6,1171 1626.6,1171.1 1629.6,1171.2 1632.6,1171.3 1635.6,1171.4 1638.6,1171.5 1641.6,1171.7 1644.6,1171.8 1647.6,1171.9 1650.6,1172 1653.6,1172.1 1656.6,1172.2 1659.6,1172.3 1662.6,1172.4 1665.6,1172.5 1668.6,1172.6 1671.6,1172.7 1674.6,1172.8 1677.6,1173 1680.6,1173.1 1683.6,1173.2 1683.2,1183 1680.2,1182.9 1677.2,1182.7 1674.2,1182.6 1671.2,1182.5 1668.2,1182.4 1665.2,1182.3 1662.2,1182.2 1659.3,1182.1 1656.3,1182 1653.3,1181.9 1650.3,1181.8 1647.3,1181.7 1644.3,1181.6 1641.3,1181.4 1638.3,1181.3 1635.3,1181.2 1632.3,1181.1 1629.3,1181 1626.3,1180.9 1623.3,1180.8 1620.3,1180.7 1617.3,1180.6 1614.3,1180.5 1611.3,1180.4 1608.3,1180.2 1605.3,1180.1 1602.3,1180 1599.3,1179.9 1596.3,1179.8 1593.3,1179.7 1590.3,1179.6 1587.3,1179.5 1584.3,1179.4 1581.3,1179.3 1578.3,1179.2 1575.3,1179.1 1572.3,1178.9 1569.3,1178.8 1566.3,1178.7 1563.3,1178.6 1560.3,1178.5 1557.3,1178.4 1554.3,1178.3 1551.3,1178.2 1548.3,1178.1 1545.3,1178 1542.3,1177.9 1539.3,1177.7 1536.3,1177.6 1533.3,1177.5 1530.3,1177.4 1527.3,1177.3 1524.3,1177.2 1521.3,1177.1 1518.3,1177 1515.3,1176.9 1512.3,1176.8 1509.3,1176.7 1506.4,1176.6 1503.4,1176.4 1500.4,1176.3 1497.4,1176.2 1494.4,1176.1 1491.4,1176 1488.4,1175.9 1485.4,1175.8 1482.4,1175.7 1479.4,1175.6 1476.4,1175.5 1473.4,1175.4 1470.4,1175.3 1467.4,1175.1 1464.4,1175 1461.4,1174.9 1458.4,1174.8 1455.4,1174.7 1452.4,1174.6 1449.4,1174.5 1446.4,1174.4 1443.4,1174.3 1440.4,1174.2 1437.4,1174.1 1434.4,1173.9 1431.4,1173.8 1428.4,1173.7 1425.4,1173.6 1422.4,1173.5 1419.4,1173.4 1416.4,1173.3 1413.4,1173.2 1410.4,1173.1 1407.4,1173 1404.4,1172.9 1401.4,1172.8 1398.4,1172.6 1395.4,1172.5 1392.4,1172.4 1389.4,1172.3 1386.4,1172.2 1383.4,1172.1 1380.4,1172 1377.4,1171.9 1374.4,1171.8 1371.4,1171.7 1368.4,1171.6 1365.4,1171.4 1362.4,1171.3 1359.4,1171.2 1356.4,1171.1 1353.5,1171 1350.5,1170.9 1347.5,1170.8 1344.5,1170.7 1341.5,1170.6 1338.5,1170.5 1335.5,1170.4 1332.5,1170.3 1329.5,1170.1 1326.5,1170 1323.5,1169.9 1320.5,1169.8 1317.5,1169.7 1314.5,1169.6 1311.5,1169.5 1308.5,1169.4 1305.5,1169.3 1302.5,1169.2 1299.5,1169.1 1296.5,1168.9 1293.5,1168.8 1290.5,1168.7 1287.5,1168.6 1284.5,1168.5 1281.5,1168.4 1278.5,1168.3 1275.5,1168.2 1272.5,1168.1 1269.5,1168 1266.5,1167.9 1263.5,1167.8 1260.5,1167.6 1257.5,1167.5 1254.5,1167.4 1251.5,1167.3 1248.5,1167.2 1245.5,1167.1 1242.5,1167 1239.5,1166.9 1236.5,1166.8 1233.5,1166.7 1230.5,1166.6 1227.5,1166.4 1224.5,1166.3 1221.5,1166.2 1218.5,1166.1 1215.5,1166 1212.5,1165.9 1209.5,1165.8 1206.5,1165.7 1203.6,1165.6 1200.6,1165.5 1197.6,1165.4 1194.6,1165.3 1191.6,1165.1 1188.6,1165 1185.6,1164.9 1182.6,1164.8 1179.6,1164.7 1176.6,1164.6 1173.6,1164.5 1170.6,1164.4 1167.6,1164.3 1164.6,1164.2 1161.6,1164.1 1158.6,1163.9 1155.6,1163.8 1152.6,1163.7 1149.6,1163.6 1146.6,1163.5 1143.6,1163.4 1140.6,1163.3 1137.6,1163.2 1134.6,1163.1 1131.6,1163 1128.6,1162.9 1125.6,1162.8 1122.6,1162.6 1119.6,1162.5 1116.6,1162.4 1113.6,1162.3 1110.6,1162.2 1107.6,1162.1 1104.6,1162 1101.6,1161.9 1098.7,1161.8 1095.8,1161.7 1092.8,1161.6 1089.8,1161.5 1086.8,1161.4 1083.8,1161.3 1080.8,1161.2 1077.8,1161.1 1074.8,1161 1071.8,1160.9 1068.8,1160.8 1065.8,1160.7 1062.8,1160.7 1059.8,1160.6 1056.8,1160.5 1053.8,1160.4 1050.8,1160.3 1047.8,1160.2 1044.8,1160.1 1041.8,1160 1038.8,1159.9 1035.8,1159.8 1032.9,1159.7 1029.9,1159.6 1027,1159.5 1024,1159.4 1021,1159.4 1018,1159.3 1015,1159.2 1012,1159.1 1008.9,1159 1005.9,1158.9 1002.8,1158.8 999.7,1158.7 996.6,1158.6 993.5,1158.5 990.4,1158.4 987.3,1158.2 984.1,1158.1 980.9,1157.9 977.8,1157.7 974.7,1157.5 971.7,1157.3 968.6,1157.1 965.6,1156.9 962.5,1156.7 959.3,1156.5 956.2,1156.3 953,1156 949.8,1155.7 946.5,1155.4 943.2,1155.1 940,1154.7 936.6,1154.3 933.4,1153.9 930,1153.4 926.6,1152.9 923.3,1152.4 920,1151.8 916.7,1151.2 913.4,1150.6 910.2,1150 907,1149.3 903.8,1148.6 900.6,1147.9 897.4,1147.2 894.3,1146.4 891.2,1145.7 888.1,1144.9 885,1144.1 882,1143.3 878.9,1142.5 875.9,1141.7 872.9,1140.9 869.9,1140.1 867,1139.3 864,1138.4 861,1137.6 858,1136.8 855,1135.9 851.9,1135 848.9,1134.1 845.8,1133.1 842.7,1132.2 839.6,1131.2 836.5,1130.2 833.4,1129.1 830.2,1128 827.1,1126.9 823.9,1125.8 820.8,1124.6 817.7,1123.4 814.6,1122.2 811.6,1120.9 808.7,1119.7 805.7,1118.5 802.7,1117.2 799.7,1115.9 796.7,1114.6 793.8,1113.2 790.8,1111.8 787.8,1110.4 784.8,1109 781.8,1107.5 778.8,1106 775.9,1104.4 772.9,1102.9 769.9,1101.2 767,1099.6 764,1097.9 761.1,1096.2 758.1,1094.4 755.2,1092.6 752.4,1090.8 749.5,1089 746.8,1087.2 744,1085.3 741.3,1083.5 738.7,1081.6 736,1079.8 733.4,1077.9 730.9,1076.1 728.3,1074.2 725.8,1072.4 723.3,1070.5 720.8,1068.7 718.4,1066.9 715.9,1065 713.5,1063.2 711.1,1061.4 708.7,1059.6 706.2,1057.8 703.7,1055.9 701.2,1054 698.8,1052.1 696.3,1050.2 693.8,1048.3 691.4,1046.4 689,1044.5 686.5,1042.6 684.1,1040.6 681.7,1038.7 679.3,1036.8 676.9,1034.9 674.5,1032.9 672.1,1031 669.7,1029 667.3,1027.1 664.9,1025.1 662.6,1023.2 660.2,1021.2 657.8,1019.2 655.5,1017.3 653.2,1015.3 650.9,1013.4 648.5,1011.4 646.1,1009.4 643.7,1007.3 641.3,1005.2 638.8,1003 636.3,1000.8 633.9,998.6 631.4,996.3 628.9,993.9 626.5,991.6 624.1,989.2 621.6,986.8 619.3,984.4 616.9,981.9 614.7,979.4 612.4,976.9 610.2,974.5 608.1,972.1 606,969.6 603.9,967.2 601.9,964.9 599.9,962.5 597.9,960.1 595.9,957.8 594,955.5 592,953.2 590.1,951 588.3,948.7 586.4,946.5 584.5,944.3 582.7,942.2 580.8,940.1 578.9,937.9 577,935.8 575.1,933.6 573.1,931.4 571.1,929.1 569.1,926.9 567.1,924.6 565,922.3 562.9,919.9 560.9,917.6 558.8,915.2 556.7,912.7 554.6,910.2 552.4,907.7 550.4,905.1 548.3,902.6 546.3,900 544.4,897.5 542.4,895 540.5,892.5 538.5,890 536.6,887.4 534.7,884.9 532.8,882.3 530.9,879.7 529,877 527.1,874.4 525.3,871.7 523.4,869 521.6,866.3 519.7,863.5 517.9,860.7 516.2,858 514.5,855.3 512.8,852.6 511.1,849.9 509.4,847 507.6,844.1 506,841.2 504.3,838.2 502.6,835.1 501,832.1 499.4,829.1 497.9,826 496.4,822.9 495,819.9 493.6,816.8 492.2,813.8 490.9,810.8 489.6,807.8 488.3,804.8 487.1,801.8 485.9,798.8 484.7,795.9 483.5,792.9 482.4,790 481.2,787.1 480.1,784.1 479,781.2 477.9,778.3 476.8,775.3 475.8,772.4 474.7,769.5 473.6,766.6 472.6,763.7 471.6,760.7 470.5,757.8 469.5,754.9 468.5,752 467.6,749.2 467.6,749.2 466.9,747.6 466.2,746.1 465.3,744.9 464.3,743.8 463.2,743 462,742.3 460.7,741.8 459.3,741.4 457.8,741.3 456.2,741.4 454.5,741.6 454.5,741.6 453.1,741.9 450.6,742.5 448.1,743 445.7,743.6 443.4,744.3 441,745 438.4,745.7 435.7,746.6 433.1,747.4 430.5,748.2 427.9,749.1 425.5,749.9 423.2,750.8 420.9,751.6 418.6,752.5 416.5,753.4 414.6,754.3 412.8,755.2 411,756.1 409.3,757.1 407.4,758.2 405.5,759.4 403.6,760.7 401.5,762.1 399.4,763.7 397.1,765.3 394.7,767 392.3,768.8 389.7,770.7 387.2,772.5 384.8,774.2 382.5,775.8 380.3,777.5 378,779.2 375.7,780.9 373.3,782.7 371,784.4 368.6,786.2 366.2,788.1 363.8,789.9 361.3,791.7 358.8,793.6 356.4,795.4 354,797.2 351.6,799 349.2,800.8 346.7,802.6 344.3,804.4 341.9,806.2 339.5,808 337.1,809.7 334.7,811.5 332.3,813.3 329.9,815.1 327.4,816.9 325,818.7 322.6,820.5 320.2,822.3 317.8,824.1 315.3,825.9 312.9,827.6 310.5,829.4 308.2,831.2 305.8,832.9 303.4,834.7 301.1,836.5Z" fill="url(#stip2)" stroke="none" stroke-width="1" />
<path d="M454.8,566 454.8,482.9 449.6,480.6 444.5,478 439.6,475 435,471.6 430.6,468 426.5,464 422.7,459.8 419.2,455.3 416,450.5 413.1,445.6 410.6,440.5 408.5,435.1 406.8,429.7 405.4,424.2 404.5,418.5 403.9,412.8 403.8,407.1 404.1,401.4 404.7,395.7 405.8,390.1 407.3,384.6 409.1,379.2 411.4,374 414,368.9 416.9,364 420.2,359.3 423.8,354.9 427.7,350.7 431.9,346.9 436.4,343.3 441.1,340.1 446,337.2 451.2,334.6 456.4,332.5 461.9,330.7 467.4,329.3 473,328.3 478.7,327.7 484.4,327.5 490.1,327.7 495.8,328.3 501.4,329.3 507,330.8 512.4,332.6 517.7,334.7 522.8,337.3 527.7,340.2 532.4,343.4 536.8,347 541,350.9 544.9,355.1 548.5,359.5 551.8,364.2 554.8,369.1 557.3,374.2 559.6,379.4 561.4,384.8 562.8,390.4 563.9,396 564.5,401.6 564.8,407.3 564.6,413.1 564.1,418.7 563.1,424.4 561.8,429.9 560,435.4 557.9,440.7 555.4,445.8 552.5,450.7 549.3,455.5 545.8,460 541.9,464.2 537.8,468.1 533.4,471.8 528.8,475.1 523.9,478.1 518.8,480.7 513.6,483 508.2,484.9 508.2,566 518,566 518,489.8 523.5,487.3 528.9,484.4 534,481.2 539,477.6 543.6,473.7 548,469.5 552.1,464.9 555.8,460.1 559.2,455.1 562.3,449.8 565,444.4 567.3,438.8 569.2,433 570.7,427.1 571.8,421.1 572.5,415.1 572.8,409 572.7,402.9 572.1,396.8 571.1,390.8 569.7,384.9 567.9,379.1 565.8,373.4 563.2,367.9 560.3,362.6 557,357.5 553.3,352.6 549.3,348 545.1,343.7 540.5,339.6 535.7,335.9 530.6,332.6 525.3,329.6 519.8,326.9 514.2,324.7 508.4,322.8 502.5,321.4 496.5,320.3 490.4,319.7 484.3,319.5 478.3,319.7 472.2,320.3 466.2,321.4 460.3,322.8 454.5,324.7 448.8,326.9 443.4,329.5 438.1,332.5 433,335.9 428.2,339.6 423.6,343.6 419.3,347.9 415.3,352.5 411.7,357.4 408.4,362.5 405.4,367.8 402.9,373.4 400.7,379 398.9,384.9 397.5,390.8 396.5,396.8 396,402.8 395.8,408.9 396.1,415 396.8,421 397.9,427 399.4,432.9 401.3,438.7 403.6,444.3 406.3,449.8 409.3,455.1 412.8,460.1 416.5,464.9 420.6,469.4 424.9,473.6 429.6,477.6 434.5,481.2 439.6,484.4 445,487.3 445,566Z" fill="url(#stip2)" stroke="none" stroke-width="1" />
<path d="M481.5,470 481.5,473 481.5,476 481.5,479 481.5,482 481.5,485 481.5,488 481.5,491 481.5,494 481.5,497 481.5,500 481.5,503 481.5,506 481.5,509 481.5,512 481.5,515 481.5,518 481.5,521 481.5,524 481.5,527 481.5,530 481.5,533 481.5,536 481.5,539 481.5,542 481.5,545 481.5,548 481.5,551 481.5,554 481.5,557 481.5,560 481.5,563 481.5,566 481.5,569 481.5,572 481.5,575 481.5,578 481.5,581 481.5,584 481.5,587 481.5,590 481.5,593 481.5,596 481.5,599 481.5,602 481.5,605 481.5,608 481.6,611 481.7,614 481.7,617 481.8,620 481.9,623 481.9,626 482,629 482,632 482,635 482.1,638 482.1,641 482.2,644 482.2,647 482.3,650 482.4,653 482.5,656 482.7,659 482.9,662 483.1,665 483.4,668 483.7,670.9 484.1,673.9 484.5,676.9 485,679.8 485.5,682.8 486.1,685.7 486.8,688.7 487.5,691.6 488.2,694.5 489,697.4 489.8,700.3 490.6,703.2 491.5,706 492.4,708.9 493.3,711.7 494.3,714.6 495.2,717.4 496.2,720.3 497.2,723.1 498.1,726 499.1,728.8 500.1,731.6 501.1,734.5 502.1,737.3 503,740.1 504,743 505,745.8 506,748.6 507,751.5 508,754.3 509,757.1 510,759.9 511.1,762.7 512.1,765.6 513.2,768.4 514.2,771.2 515.3,774 516.4,776.8 517.5,779.6 518.6,782.4 519.7,785.1 520.8,787.9 522,790.7 523.1,793.5 524.3,796.2 525.5,799 526.8,801.7 528,804.4 529.3,807.1 530.6,809.8 532,812.5 533.3,815.2 534.7,817.8 536.2,820.5 537.7,823.1 539.2,825.7 540.7,828.2 542.2,830.8 543.8,833.4 545.4,835.9 547,838.4 548.6,841 550.3,843.5 551.9,846 553.6,848.5 555.3,850.9 557,853.4 558.7,855.9 560.5,858.3 562.3,860.7 564,863.1 565.8,865.5 567.6,867.9 569.5,870.3 571.3,872.7 573.1,875.1 575,877.4 576.8,879.8 578.7,882.1 580.6,884.4 582.5,886.8 584.5,889 586.4,891.3 588.4,893.6 590.4,895.8 592.3,898.1 594.3,900.3 596.3,902.6 598.3,904.8 600.3,907.1 602.3,909.3 604.3,911.5 606.3,913.8 608.3,916 610.3,918.3 612.2,920.6 614.2,922.9 616.1,925.1 618,927.4 620,929.7 621.9,932 623.8,934.3 625.8,936.6 627.7,938.9 629.6,941.2 631.6,943.5 633.6,945.7 635.5,948 637.5,950.3 639.5,952.5 641.5,954.7 643.6,956.9 645.6,959.1 647.7,961.2 649.8,963.4 652,965.5 654.1,967.6 656.3,969.6 658.5,971.7 660.7,973.7 663,975.7 665.2,977.7 667.5,979.6 669.8,981.6 672.1,983.5 674.4,985.4 676.7,987.4 679,989.3 681.3,991.2 683.6,993.1 685.9,995.1 688.2,997 690.5,998.9 692.8,1000.8 695.1,1002.7 697.5,1004.6 699.8,1006.4 702.1,1008.3 704.5,1010.2 706.8,1012.1 709.2,1013.9 711.5,1015.8 713.9,1017.7 716.3,1019.5 718.6,1021.3 721,1023.2 723.4,1025 725.8,1026.8 728.2,1028.6 730.6,1030.4 733,1032.2 735.4,1034 737.8,1035.8 740.2,1037.6 742.6,1039.4 745,1041.2 747.4,1043 749.8,1044.7 752.3,1046.5 754.7,1048.3 757.1,1050 759.6,1051.7 762,1053.4 764.5,1055.1 767,1056.8 769.5,1058.5 772,1060.1 774.6,1061.7 777.1,1063.3 779.7,1064.8 782.3,1066.3 784.9,1067.8 787.5,1069.3 790.1,1070.7 792.8,1072.1 795.5,1073.5 798.1,1074.8 800.8,1076.2 803.5,1077.5 806.2,1078.8 809,1080 811.7,1081.3 814.4,1082.5 817.2,1083.7 819.9,1084.9 822.7,1086 825.5,1087.2 828.3,1088.3 831,1089.4 833.8,1090.5 836.6,1091.6 839.5,1092.6 842.3,1093.6 845.1,1094.6 848,1095.5 850.8,1096.5 853.7,1097.4 856.5,1098.3 859.4,1099.1 862.3,1100 865.2,1100.8 868.1,1101.7 870.9,1102.5 873.8,1103.3 876.7,1104.1 879.6,1104.9 882.5,1105.7 885.4,1106.5 888.3,1107.2 891.2,1108 894.1,1108.8 897,1109.5 899.9,1110.2 902.8,1110.9 905.8,1111.6 908.7,1112.3 911.6,1112.9 914.5,1113.6 917.5,1114.2 920.4,1114.8 923.4,1115.3 926.3,1115.9 929.3,1116.4 932.2,1116.8 935.2,1117.3 938.2,1117.7 941.1,1118.1 944.1,1118.5 947.1,1118.8 950.1,1119.1 953.1,1119.4 956.1,1119.6 959.1,1119.9 962.1,1120.1 965,1120.3 968,1120.5 971,1120.7 974,1120.9 977,1121.1 980,1121.3 983,1121.5 986,1121.6 989,1121.8 992,1121.9 995,1122 998,1122.2 1001,1122.3 1004,1122.4 1007,1122.5 1010,1122.5 1013,1122.6 1016,1122.7 1019,1122.8 1022,1122.9 1025,1123 1028,1123 1031,1123.1 1034,1123.2 1037,1123.3 1040,1123.4 1043,1123.5 1046,1123.6 1049,1123.7 1052,1123.8 1055,1123.9 1058,1124 1061,1124.1 1064,1124.2 1067,1124.3 1070,1124.4 1073,1124.5 1076,1124.5 1079,1124.6 1082,1124.7 1084.9,1124.8 1087.9,1124.9 1090.9,1125 1093.9,1125.1 1096.9,1125.2 1099.9,1125.3 1102.9,1125.4 1105.9,1125.5 1108.9,1125.6 1111.9,1125.7 1114.9,1125.8 1117.9,1125.9 1120.9,1126.1 1123.9,1126.2 1126.9,1126.3 1129.9,1126.4 1132.9,1126.5 1135.9,1126.6 1138.9,1126.7 1141.9,1126.8 1144.9,1126.9 1147.9,1127 1150.9,1127.1 1153.9,1127.3 1156.9,1127.4 1159.9,1127.5 1162.9,1127.6 1165.9,1127.7 1168.9,1127.8 1171.9,1127.9 1174.9,1128 1177.9,1128.1 1180.9,1128.2 1183.9,1128.3 1186.9,1128.4 1189.9,1128.6 1192.9,1128.7 1195.9,1128.8 1198.9,1128.9 1201.9,1129 1204.9,1129.1 1207.9,1129.2 1210.9,1129.3 1213.9,1129.4 1216.9,1129.5 1219.9,1129.6 1222.9,1129.8 1225.9,1129.9 1228.9,1130 1231.9,1130.1 1234.9,1130.2 1237.9,1130.3 1240.8,1130.4 1243.8,1130.5 1246.8,1130.6 1249.8,1130.7 1252.8,1130.8 1255.8,1130.9 1258.8,1131.1 1261.8,1131.2 1264.8,1131.3 1267.8,1131.4 1270.8,1131.5 1273.8,1131.6 1276.8,1131.7 1279.8,1131.8 1282.8,1131.9 1285.8,1132 1288.8,1132.1 1291.8,1132.3 1294.8,1132.4 1297.8,1132.5 1300.8,1132.6 1303.8,1132.7 1306.8,1132.8 1309.8,1132.9 1312.8,1133 1315.8,1133.1 1318.8,1133.2 1321.8,1133.3 1324.8,1133.4 1327.8,1133.6 1330.8,1133.7 1333.8,1133.8 1336.8,1133.9 1339.8,1134 1342.8,1134.1 1345.8,1134.2 1348.8,1134.3 1351.8,1134.4 1354.8,1134.5 1357.8,1134.6 1360.8,1134.8 1363.8,1134.9 1366.8,1135 1369.8,1135.1 1372.8,1135.2 1375.8,1135.3 1378.8,1135.4 1381.8,1135.5 1384.8,1135.6 1387.8,1135.7 1390.8,1135.8 1393.7,1135.9 1396.7,1136.1 1399.7,1136.2 1402.7,1136.3 1405.7,1136.4 1408.7,1136.5 1411.7,1136.6 1414.7,1136.7 1417.7,1136.8 1420.7,1136.9 1423.7,1137 1426.7,1137.1 1429.7,1137.3 1432.7,1137.4 1435.7,1137.5 1438.7,1137.6 1441.7,1137.7 1444.7,1137.8 1447.7,1137.9 1450.7,1138 1453.7,1138.1 1456.7,1138.2 1459.7,1138.3 1462.7,1138.4 1465.7,1138.6 1468.7,1138.7 1471.7,1138.8 1474.7,1138.9 1477.7,1139 1480.7,1139.1 1483.7,1139.2 1486.7,1139.3 1489.7,1139.4 1492.7,1139.5 1495.7,1139.6 1498.7,1139.8 1501.7,1139.9 1504.7,1140 1507.7,1140.1 1510.7,1140.2 1513.7,1140.3 1516.7,1140.4 1519.7,1140.5 1522.7,1140.6 1525.7,1140.7 1528.7,1140.8 1531.7,1140.9 1534.7,1141.1 1537.7,1141.2 1540.7,1141.3 1543.6,1141.4 1546.6,1141.5 1549.6,1141.6 1552.6,1141.7 1555.6,1141.8 1558.6,1141.9 1561.6,1142 1564.6,1142.1 1567.6,1142.3 1570.6,1142.4 1573.6,1142.5 1576.6,1142.6 1579.6,1142.7 1582.6,1142.8 1585.6,1142.9 1588.6,1143 1591.6,1143.1 1594.6,1143.2 1597.6,1143.3 1600.6,1143.4 1603.6,1143.6 1606.6,1143.7 1609.6,1143.8 1612.6,1143.9 1615.6,1144 1618.6,1144.1 1621.6,1144.2 1624.6,1144.3 1627.6,1144.4 1630.6,1144.5 1633.6,1144.6 1636.6,1144.8 1639.6,1144.9 1642.6,1145 1645.6,1145.1 1648.6,1145.2 1651.6,1145.3 1654.6,1145.4 1657.6,1145.5 1660.6,1145.6 1663.6,1145.7 1666.6,1145.8 1669.6,1145.9 1672.6,1146.1 1675.6,1146.2 1678.6,1146.3 1681.6,1146.4 1684.6,1146.5 1687.6,1146.6 1690.6,1146.7 1693.6,1146.8 1696.5,1146.9 1699.5,1147 1702.5,1147.1" fill="none" stroke="#838383" stroke-width="34" stroke-linejoin="round"/>
<path d="M255,830 257.4,828.2 259.8,826.4 262.2,824.5 264.5,822.7 266.9,820.9 269.3,819.1 271.7,817.3 274.1,815.5 276.5,813.6 278.9,811.8 281.3,810 283.7,808.2 286.1,806.5 288.5,804.7 290.9,802.9 293.3,801.1 295.7,799.3 298.1,797.5 300.6,795.7 303,794 305.4,792.2 307.8,790.4 310.2,788.6 312.6,786.8 315,785 317.4,783.2 319.8,781.5 322.3,779.7 324.7,777.9 327.1,776.1 329.5,774.3 331.9,772.5 334.3,770.7 336.7,768.9 339.1,767.1 341.5,765.4 343.9,763.5 346.3,761.7 348.7,759.9 351.1,758.1 353.5,756.3 355.9,754.5 358.3,752.7 360.7,750.9 363.1,749.1 365.5,747.4 368,745.6 370.4,743.9 372.8,742.1 375.3,740.4 377.7,738.6 380.1,736.8 382.6,735.1 385,733.4 387.5,731.7 390.1,730.1 392.6,728.6 395.2,727.1 397.9,725.7 400.6,724.4 403.3,723.2 406.1,722 408.9,720.9 411.7,719.8 414.5,718.8 417.3,717.8 420.2,716.9 423.1,716 425.9,715.1 428.8,714.2 431.7,713.3 434.5,712.5 437.4,711.7 440.3,711 443.3,710.3 446.2,709.6 449.1,709 452.1,708.5 455,707.9 458,707.4 460.9,706.8 463.9,706.4 466.9,705.9 469.8,705.6 472.8,705.2 475.8,704.9 478.8,704.6 481.8,704.3 484,704" fill="none" stroke="#838383" stroke-width="31" stroke-linejoin="round"/>
<path d="M464.5,525 464.5,509.7 464.3,506 463.8,502.2 462.9,498.5 461.7,495 460.1,491.5 458.2,488.2 456.1,485.2 453.6,482.3 450.9,479.7 447.9,477.3 444.8,475.2 444.8,475.2 441.8,473.4 439,471.5 436.2,469.4 433.5,467.2 431,464.9 428.5,462.5 426.1,460 423.9,457.3 421.8,454.6 419.8,451.8 417.9,448.9 416.1,445.9 414.5,442.8 413,439.7 411.7,436.5 410.5,433.3 409.5,430 408.6,426.7 407.8,423.3 407.2,419.9 406.8,416.5 406.5,413 406.3,409.6 406.3,406.1 406.5,402.6 406.8,399.2 407.3,395.8 407.9,392.4 408.6,389 409.6,385.7 410.6,382.4 411.8,379.1 413.2,376 414.7,372.8 416.3,369.8 418.1,366.8 420,363.9 422,361.1 424.1,358.4 426.4,355.8 428.7,353.3 431.2,350.9 433.8,348.6 436.5,346.4 439.3,344.3 442.1,342.4 445.1,340.6 448.1,338.9 451.2,337.4 454.4,336 457.6,334.7 460.9,333.6 464.2,332.6 467.5,331.8 470.9,331.2 474.3,330.6 477.8,330.3 481.2,330.1 484.7,330 488.1,330.1 491.6,330.3 495,330.7 498.4,331.3 501.8,332 505.2,332.8 508.5,333.8 511.7,335 515,336.3 518.1,337.7 521.2,339.3 524.2,341 527.1,342.8 530,344.8 532.7,346.9 535.4,349.1 537.9,351.4 540.4,353.8 542.7,356.4 545,359 547.1,361.7 549.1,364.6 550.9,367.5 552.7,370.5 554.3,373.5 555.7,376.7 557,379.9 558.2,383.1 559.3,386.4 560.1,389.8 560.9,393.1 561.5,396.5 561.9,400 562.2,403.4 562.3,406.9 562.3,410.3 562.1,413.8 561.8,417.2 561.3,420.6 560.6,424 559.8,427.4 558.9,430.7 557.8,434 556.6,437.2 555.2,440.4 553.7,443.5 552.1,446.6 550.3,449.5 548.4,452.4 546.4,455.2 544.2,457.9 542,460.5 539.6,463 537.1,465.4 534.5,467.7 531.8,469.9 529,471.9 526.1,473.8 523.2,475.6 520.1,477.3 516.7,479.3 513.5,481.6 510.5,484.3 507.8,487.2 505.4,490.3 503.3,493.7 501.6,497.3 500.3,501.1 499.3,504.9 498.7,508.8 498.5,512.8 498.5,525Z" fill="#838383" stroke="none" stroke-width="1" />
<path d="M467,674.2 469.7,690 453.8,692.4 453.8,692.4 456.6,691.8 459,691.1 461.1,690.1 462.9,688.9 464.4,687.4 465.6,685.8 466.5,683.9 467.1,681.8 467.3,679.5 467.3,677 467,674.2Z" fill="#838383" stroke="none" stroke-width="1" />
<path d="M486.7,744.8 478.2,720.2 452.5,724.2 452.5,724.2 457.1,723.7 461.3,723.7 465.3,724.1 468.9,725.1 472.3,726.5 475.4,728.4 478.3,730.7 480.8,733.5 483,736.8 485,740.6 486.7,744.8Z" fill="#838383" stroke="none" stroke-width="1" />
<path d="M224.4,788.6 246.5,817 275.2,795.2 275.2,795.2 270,798.8 265,801.5 260,803.4 255.2,804.4 250.5,804.7 245.8,804.1 241.3,802.6 236.9,800.4 232.6,797.3 228.5,793.3 224.4,788.6Z" fill="#7f7f7f" stroke="none" stroke-width="1" />
<path d="M285.2,866.7 265.5,841.5 291,822.1 291,822.1 286.8,825.7 283.3,829.3 280.5,833.1 278.5,837 277.2,840.9 276.7,845 276.9,849.1 277.8,853.4 279.6,857.7 282,862.2 285.2,866.7Z" fill="#7f7f7f" stroke="none" stroke-width="1" />
<path d="M498.5,518 498.5,521 498.5,524 498.5,527 498.5,530 498.5,533 498.5,536 498.5,539 498.5,542 498.5,545 498.5,548 498.5,551 498.5,554 498.5,557 498.5,560 498.5,563 498.5,566 498.5,569 498.5,572 498.5,575.1 498.5,578 498.5,581 498.5,584 498.5,587 498.4,590 498.5,593 498.5,595.9 498.5,598.9 498.5,601.9 498.5,604.8 498.5,607.8 498.6,610.7 498.6,613.6 498.7,616.6 498.8,619.6 498.9,622.6 498.9,625.7 499,628.8 499,631.8 499,634.8 499.1,637.8 499.1,640.8 499.2,643.7 499.2,646.6 499.3,649.5 499.4,652.4 499.5,655.2 499.7,658 499.8,660.8 500.1,663.5 500.3,666.3 500.6,669 500.9,671.6 501.3,674.3 501.7,676.9 502.2,679.5 502.8,682.2 503.4,684.8 504,687.5 504.7,690.2 505.4,692.9 506.2,695.6 506.9,698.3 507.8,701 508.6,703.8 509.5,706.5 510.4,709.3 511.3,712 512.3,714.8 513.2,717.6 514.2,720.4 515.2,723.2 516.2,726 517.2,728.9 518.1,731.7 519.1,734.6 520.1,737.4 521.1,740.2 522,743 523,745.8 524,748.5 525,751.3 526,754.1 527,756.9 528,759.6 529.1,762.4 530.1,765.1 531.2,767.9 532.2,770.6 533.3,773.3 534.4,776.1 535.5,778.8 536.6,781.5 537.7,784.1 538.8,786.8 539.9,789.4 541.1,792 542.2,794.6 543.4,797.2 544.6,799.8 545.9,802.3 547.1,804.8 548.4,807.3 549.7,809.8 551,812.2 552.4,814.6 553.8,817.1 555.3,819.5 556.7,821.9 558.3,824.4 559.8,826.9 561.4,829.3 562.9,831.8 564.5,834.2 566.1,836.5 567.7,838.9 569.3,841.3 570.9,843.6 572.6,846 574.3,848.3 576,850.7 577.7,853 579.4,855.4 581.2,857.7 582.9,860 584.7,862.3 586.5,864.6 588.3,866.9 590.1,869.2 591.9,871.4 593.7,873.6 595.6,875.8 597.4,878 599.3,880.2 601.2,882.4 603.1,884.6 605.1,886.8 607,889 609,891.3 611,893.5 613,895.7 615,898 617,900.3 619.1,902.5 621.1,904.8 623.1,907.2 625.1,909.5 627.1,911.8 629.1,914.2 631,916.5 633,918.8 634.9,921.1 636.8,923.4 638.8,925.6 640.7,927.9 642.6,930.2 644.5,932.4 646.4,934.6 648.3,936.8 650.2,939 652.1,941.1 654,943.2 656,945.3 657.9,947.3 659.9,949.3 661.8,951.3 663.8,953.3 665.9,955.3 667.9,957.2 670,959.1 672.1,961.1 674.2,962.9 676.4,964.8 678.6,966.7 680.8,968.6 683,970.5 685.3,972.4 687.6,974.3 689.9,976.3 692.2,978.2 694.4,980.1 696.7,982 699,983.9 701.3,985.7 703.6,987.6 705.9,989.5 708.2,991.4 710.5,993.2 712.8,995.1 715.1,996.9 717.4,998.8 719.7,1000.6 722,1002.4 724.4,1004.3 726.7,1006.1 729,1007.9 731.4,1009.7 733.7,1011.5 736,1013.3 738.4,1015 740.8,1016.8 743.1,1018.6 745.5,1020.4 747.9,1022.2 750.3,1024 752.7,1025.8 755.1,1027.5 757.5,1029.3 759.8,1031 762.2,1032.7 764.6,1034.4 767,1036.1 769.3,1037.8 771.7,1039.4 774.1,1041.1 776.4,1042.6 778.8,1044.2 781.2,1045.8 783.6,1047.3 786,1048.7 788.4,1050.2 790.8,1051.6 793.2,1053 795.7,1054.4 798.2,1055.7 800.7,1057 803.2,1058.4 805.7,1059.6 808.3,1060.9 810.9,1062.1 813.4,1063.4 816,1064.6 818.7,1065.8 821.3,1066.9 823.9,1068.1 826.6,1069.2 829.2,1070.3 831.9,1071.4 834.6,1072.5 837.3,1073.6 839.9,1074.6 842.6,1075.6 845.2,1076.6 847.9,1077.5 850.6,1078.5 853.3,1079.4 856,1080.3 858.8,1081.1 861.6,1082 864.3,1082.9 867.1,1083.7 869.9,1084.5 872.7,1085.3 875.6,1086.1 878.4,1086.9 881.3,1087.7 884.1,1088.5 887,1089.3 889.8,1090.1 892.7,1090.8 895.5,1091.6 898.3,1092.3 901.2,1093 904,1093.7 906.8,1094.4 909.6,1095.1 912.4,1095.7 915.3,1096.3 918.1,1097 920.9,1097.5 923.7,1098.1 926.4,1098.6 929.3,1099.1 932,1099.6 934.8,1100 937.6,1100.5 940.4,1100.9 943.3,1101.2 946.1,1101.6 948.9,1101.9 951.8,1102.2 954.6,1102.4 957.5,1102.7 960.4,1102.9 963.3,1103.2 966.2,1103.4 969.2,1103.6 972.1,1103.8 975.1,1104 978.1,1104.1 981,1104.3 984,1104.5 986.9,1104.7 989.8,1104.8 992.7,1104.9 995.7,1105.1 998.6,1105.2 1001.6,1105.3 1004.5,1105.4 1007.5,1105.5 1010.5,1105.6 1013.5,1105.6 1016.4,1105.7 1019.4,1105.8 1022.4,1105.9 1025.4,1106 1028.4,1106 1031.5,1106.1 1034.5,1106.2 1037.5,1106.3 1040.5,1106.4 1043.5,1106.5 1046.5,1106.6 1049.5,1106.7 1052.5,1106.8 1055.5,1106.9 1058.5,1107 1061.5,1107.1 1064.5,1107.2 1067.5,1107.3 1070.5,1107.4 1073.5,1107.5 1076.5,1107.6 1079.5,1107.6 1082.5,1107.7 1085.5,1107.8 1088.5,1107.9 1091.5,1108 1094.5,1108.1 1097.5,1108.2 1100.5,1108.3 1103.6,1108.4 1106.6,1108.5 1109.6,1108.6 1112.5,1108.7 1115.5,1108.9 1118.5,1109 1121.5,1109.1 1124.5,1109.2 1127.5,1109.3 1130.5,1109.4 1133.5,1109.5 1136.5,1109.6 1139.5,1109.7 1142.5,1109.8 1145.5,1109.9 1148.5,1110 1151.5,1110.2 1154.5,1110.3 1157.5,1110.4 1160.5,1110.5 1163.5,1110.6 1166.5,1110.7 1169.5,1110.8 1172.5,1110.9 1175.5,1111 1178.5,1111.1 1181.5,1111.2 1184.5,1111.4 1187.5,1111.5 1190.5,1111.6 1193.5,1111.7 1196.5,1111.8 1199.5,1111.9 1202.5,1112 1205.5,1112.1 1208.5,1112.2 1211.5,1112.3 1214.5,1112.4 1217.5,1112.5 1220.5,1112.7 1223.5,1112.8 1226.5,1112.9 1229.5,1113 1232.5,1113.1 1235.5,1113.2 1238.5,1113.3 1241.5,1113.4 1244.5,1113.5 1247.5,1113.6 1250.5,1113.7 1253.5,1113.9 1256.5,1114 1259.5,1114.1 1262.5,1114.2 1265.4,1114.3 1268.4,1114.4 1271.4,1114.5 1274.4,1114.6 1277.4,1114.7 1280.4,1114.8 1283.4,1114.9 1286.4,1115 1289.4,1115.2 1292.4,1115.3 1295.4,1115.4 1298.4,1115.5 1301.4,1115.6 1304.4,1115.7 1307.4,1115.8 1310.4,1115.9 1313.4,1116 1316.4,1116.1 1319.4,1116.2 1322.4,1116.4 1325.4,1116.5 1328.4,1116.6 1331.4,1116.7 1334.4,1116.8 1337.4,1116.9 1340.4,1117 1343.4,1117.1 1346.4,1117.2 1349.4,1117.3 1352.4,1117.4 1355.4,1117.5 1358.4,1117.7 1361.4,1117.8 1364.4,1117.9 1367.4,1118 1370.4,1118.1 1373.4,1118.2 1376.4,1118.3 1379.4,1118.4 1382.4,1118.5 1385.4,1118.6 1388.4,1118.7 1391.4,1118.9 1394.4,1119 1397.4,1119.1 1400.4,1119.2 1403.4,1119.3 1406.4,1119.4 1409.4,1119.5 1412.4,1119.6 1415.4,1119.7 1418.3,1119.8 1421.3,1119.9 1424.3,1120 1427.3,1120.2 1430.3,1120.3 1433.3,1120.4 1436.3,1120.5 1439.3,1120.6 1442.3,1120.7 1445.3,1120.8 1448.3,1120.9 1451.3,1121 1454.3,1121.1 1457.3,1121.2 1460.3,1121.4 1463.3,1121.5 1466.3,1121.6 1469.3,1121.7 1472.3,1121.8 1475.3,1121.9 1478.3,1122 1481.3,1122.1 1484.3,1122.2 1487.3,1122.3 1490.3,1122.4 1493.3,1122.5 1496.3,1122.7 1499.3,1122.8 1502.3,1122.9 1505.3,1123 1508.3,1123.1 1511.3,1123.2 1514.3,1123.3 1517.3,1123.4 1520.3,1123.5 1523.3,1123.6 1526.3,1123.7 1529.3,1123.9 1532.3,1124 1535.3,1124.1 1538.3,1124.2 1541.3,1124.3 1544.3,1124.4 1547.3,1124.5 1550.3,1124.6 1553.3,1124.7 1556.3,1124.8 1559.3,1124.9 1562.3,1125 1565.3,1125.2 1568.3,1125.3 1571.2,1125.4 1574.2,1125.5 1577.2,1125.6 1580.2,1125.7 1583.2,1125.8 1586.2,1125.9 1589.2,1126 1592.2,1126.1 1595.2,1126.2 1598.2,1126.3 1601.2,1126.5 1604.2,1126.6 1607.2,1126.7 1610.2,1126.8 1613.2,1126.9 1616.2,1127 1619.2,1127.1 1622.2,1127.2 1625.2,1127.3 1628.2,1127.4 1631.2,1127.5 1634.2,1127.7 1637.2,1127.8 1640.2,1127.9 1643.2,1128 1646.2,1128.1 1649.2,1128.2 1652.2,1128.3 1655.2,1128.4 1658.2,1128.5 1661.2,1128.6 1664.2,1128.7 1667.2,1128.8 1670.2,1129" fill="none" stroke="#111" stroke-width="1.4" />
<path d="M496.8,518 496.8,521 496.8,524 496.8,527 496.8,530 496.8,533 496.8,536 496.8,539 496.8,542 496.8,545 496.8,548 496.8,551 496.8,554 496.8,557 496.8,560 496.8,563 496.8,566 496.8,569 496.8,572 496.8,575 496.8,578 496.8,581 496.8,584 496.8,587 496.7,590 496.8,593 496.8,596 496.8,598.9 496.8,601.9 496.8,604.8 496.8,607.8 496.9,610.7 496.9,613.7 497,616.6 497.1,619.6 497.2,622.6 497.2,625.7 497.3,628.8 497.3,631.8 497.3,634.8 497.4,637.8 497.4,640.8 497.5,643.7 497.5,646.7 497.6,649.5 497.7,652.4 497.8,655.3 498,658.1 498.1,660.9 498.4,663.7 498.6,666.4 498.9,669.2 499.2,671.9 499.6,674.5 500,677.2 500.6,679.9 501.1,682.6 501.7,685.2 502.3,687.9 503,690.6 503.7,693.3 504.5,696 505.3,698.8 506.1,701.5 507,704.3 507.9,707 508.8,709.8 509.7,712.6 510.7,715.3 511.6,718.1 512.6,720.9 513.6,723.8 514.6,726.6 515.5,729.4 516.5,732.3 517.5,735.1 518.5,738 519.5,740.8 520.4,743.6 521.4,746.3 522.4,749.1 523.4,751.9 524.4,754.7 525.4,757.5 526.5,760.2 527.5,763 528.5,765.7 529.6,768.5 530.6,771.2 531.7,774 532.8,776.7 533.9,779.4 535,782.1 536.1,784.8 537.2,787.4 538.4,790.1 539.5,792.7 540.7,795.3 541.9,797.9 543.1,800.5 544.3,803.1 545.6,805.6 546.9,808.1 548.2,810.6 549.6,813 551,815.5 552.4,817.9 553.8,820.4 555.3,822.8 556.8,825.3 558.4,827.8 559.9,830.2 561.5,832.7 563.1,835.1 564.6,837.5 566.2,839.9 567.9,842.2 569.5,844.6 571.2,847 572.9,849.3 574.6,851.7 576.3,854 578.1,856.4 579.8,858.7 581.6,861 583.4,863.3 585.2,865.7 587,868 588.8,870.2 590.6,872.5 592.4,874.7 594.3,876.9 596.1,879.1 598,881.3 599.9,883.5 601.9,885.7 603.8,888 605.8,890.2 607.7,892.4 609.7,894.6 611.7,896.9 613.8,899.1 615.8,901.4 617.8,903.7 619.8,906 621.8,908.3 623.8,910.6 625.8,912.9 627.8,915.3 629.7,917.6 631.7,919.9 633.6,922.2 635.5,924.5 637.5,926.7 639.4,929 641.3,931.3 643.2,933.5 645.1,935.7 647,937.9 649,940.1 650.9,942.3 652.8,944.4 654.7,946.4 656.7,948.5 658.7,950.5 660.6,952.5 662.7,954.5 664.7,956.5 666.8,958.5 668.8,960.4 671,962.3 673.1,964.2 675.3,966.1 677.5,968 679.7,969.9 681.9,971.8 684.2,973.7 686.5,975.6 688.8,977.6 691.1,979.5 693.4,981.4 695.6,983.3 697.9,985.2 700.2,987.1 702.5,988.9 704.8,990.8 707.1,992.7 709.4,994.5 711.7,996.4 714,998.3 716.3,1000.1 718.7,1001.9 721,1003.8 723.3,1005.6 725.7,1007.4 728,1009.2 730.3,1011 732.7,1012.8 735,1014.6 737.4,1016.4 739.7,1018.2 742.1,1020 744.5,1021.8 746.9,1023.6 749.3,1025.3 751.7,1027.1 754.1,1028.9 756.5,1030.6 758.8,1032.4 761.2,1034.1 763.6,1035.8 766,1037.5 768.3,1039.2 770.7,1040.8 773.1,1042.5 775.5,1044.1 777.9,1045.6 780.3,1047.2 782.7,1048.7 785.1,1050.2 787.5,1051.7 789.9,1053.1 792.4,1054.5 794.9,1055.9 797.4,1057.2 799.9,1058.5 802.4,1059.9 805,1061.2 807.5,1062.4 810.1,1063.7 812.7,1064.9 815.3,1066.1 818,1067.3 820.6,1068.5 823.3,1069.6 825.9,1070.8 828.6,1071.9 831.3,1073 834,1074.1 836.7,1075.2 839.3,1076.2 842,1077.2 844.6,1078.2 847.4,1079.1 850.1,1080.1 852.8,1081 855.5,1081.9 858.3,1082.8 861.1,1083.6 863.8,1084.5 866.6,1085.3 869.4,1086.1 872.3,1086.9 875.1,1087.8 877.9,1088.6 880.8,1089.3 883.7,1090.1 886.5,1090.9 889.4,1091.7 892.2,1092.5 895.1,1093.2 897.9,1093.9 900.7,1094.7 903.6,1095.4 906.4,1096 909.2,1096.7 912.1,1097.4 914.9,1098 917.7,1098.6 920.5,1099.2 923.3,1099.8 926.1,1100.3 929,1100.8 931.8,1101.3 934.6,1101.7 937.4,1102.2 940.2,1102.5 943.1,1102.9 945.9,1103.3 948.7,1103.6 951.6,1103.9 954.5,1104.1 957.4,1104.4 960.3,1104.6 963.2,1104.8 966.1,1105.1 969.1,1105.3 972,1105.5 975,1105.7 978,1105.8 980.9,1106 983.9,1106.2 986.8,1106.4 989.7,1106.5 992.7,1106.6 995.6,1106.8 998.6,1106.9 1001.5,1107 1004.5,1107.1 1007.5,1107.2 1010.4,1107.3 1013.4,1107.3 1016.4,1107.4 1019.4,1107.5 1022.4,1107.6 1025.4,1107.7 1028.4,1107.7 1031.4,1107.8 1034.4,1107.9 1037.5,1108 1040.5,1108.1 1043.5,1108.2 1046.5,1108.3 1049.5,1108.4 1052.5,1108.5 1055.5,1108.6 1058.4,1108.7 1061.4,1108.8 1064.4,1108.9 1067.4,1109 1070.4,1109.1 1073.4,1109.2 1076.4,1109.3 1079.4,1109.3 1082.4,1109.4 1085.4,1109.5 1088.4,1109.6 1091.4,1109.7 1094.4,1109.8 1097.4,1109.9 1100.5,1110 1103.5,1110.1 1106.5,1110.2 1109.5,1110.3 1112.5,1110.4 1115.5,1110.6 1118.5,1110.7 1121.5,1110.8 1124.5,1110.9 1127.5,1111 1130.5,1111.1 1133.5,1111.2 1136.5,1111.3 1139.5,1111.4 1142.5,1111.5 1145.5,1111.6 1148.5,1111.7 1151.5,1111.9 1154.5,1112 1157.5,1112.1 1160.5,1112.2 1163.5,1112.3 1166.5,1112.4 1169.5,1112.5 1172.4,1112.6 1175.4,1112.7 1178.4,1112.8 1181.4,1112.9 1184.4,1113.1 1187.4,1113.2 1190.4,1113.3 1193.4,1113.4 1196.4,1113.5 1199.4,1113.6 1202.4,1113.7 1205.4,1113.8 1208.4,1113.9 1211.4,1114 1214.4,1114.1 1217.4,1114.2 1220.4,1114.4 1223.4,1114.5 1226.4,1114.6 1229.4,1114.7 1232.4,1114.8 1235.4,1114.9 1238.4,1115 1241.4,1115.1 1244.4,1115.2 1247.4,1115.3 1250.4,1115.4 1253.4,1115.6 1256.4,1115.7 1259.4,1115.8 1262.4,1115.9 1265.4,1116 1268.4,1116.1 1271.4,1116.2 1274.4,1116.3 1277.4,1116.4 1280.4,1116.5 1283.4,1116.6 1286.4,1116.7 1289.4,1116.9 1292.4,1117 1295.4,1117.1 1298.4,1117.2 1301.4,1117.3 1304.4,1117.4 1307.4,1117.5 1310.4,1117.6 1313.4,1117.7 1316.4,1117.8 1319.4,1117.9 1322.3,1118.1 1325.3,1118.2 1328.3,1118.3 1331.3,1118.4 1334.3,1118.5 1337.3,1118.6 1340.3,1118.7 1343.3,1118.8 1346.3,1118.9 1349.3,1119 1352.3,1119.1 1355.3,1119.2 1358.3,1119.4 1361.3,1119.5 1364.3,1119.6 1367.3,1119.7 1370.3,1119.8 1373.3,1119.9 1376.3,1120 1379.3,1120.1 1382.3,1120.2 1385.3,1120.3 1388.3,1120.4 1391.3,1120.5 1394.3,1120.7 1397.3,1120.8 1400.3,1120.9 1403.3,1121 1406.3,1121.1 1409.3,1121.2 1412.3,1121.3 1415.3,1121.4 1418.3,1121.5 1421.3,1121.6 1424.3,1121.7 1427.3,1121.9 1430.3,1122 1433.3,1122.1 1436.3,1122.2 1439.3,1122.3 1442.3,1122.4 1445.3,1122.5 1448.3,1122.6 1451.3,1122.7 1454.3,1122.8 1457.3,1122.9 1460.3,1123 1463.3,1123.2 1466.3,1123.3 1469.3,1123.4 1472.3,1123.5 1475.2,1123.6 1478.2,1123.7 1481.2,1123.8 1484.2,1123.9 1487.2,1124 1490.2,1124.1 1493.2,1124.2 1496.2,1124.4 1499.2,1124.5 1502.2,1124.6 1505.2,1124.7 1508.2,1124.8 1511.2,1124.9 1514.2,1125 1517.2,1125.1 1520.2,1125.2 1523.2,1125.3 1526.2,1125.4 1529.2,1125.5 1532.2,1125.7 1535.2,1125.8 1538.2,1125.9 1541.2,1126 1544.2,1126.1 1547.2,1126.2 1550.2,1126.3 1553.2,1126.4 1556.2,1126.5 1559.2,1126.6 1562.2,1126.7 1565.2,1126.9 1568.2,1127 1571.2,1127.1 1574.2,1127.2 1577.2,1127.3 1580.2,1127.4 1583.2,1127.5 1586.2,1127.6 1589.2,1127.7 1592.2,1127.8 1595.2,1127.9 1598.2,1128 1601.2,1128.2 1604.2,1128.3 1607.2,1128.4 1610.2,1128.5 1613.2,1128.6 1616.2,1128.7 1619.2,1128.8 1622.2,1128.9 1625.2,1129 1628.1,1129.1 1631.1,1129.2 1634.1,1129.4 1637.1,1129.5 1640.1,1129.6 1643.1,1129.7 1646.1,1129.8 1649.1,1129.9 1652.1,1130 1655.1,1130.1 1658.1,1130.2 1661.1,1130.3 1664.1,1130.4 1667.1,1130.5 1670.1,1130.7" fill="none" stroke="#222" stroke-width="0.6" />
<path d="M508.2,563 508.2,566 508.2,569 508.2,572.1 508.2,575.1 508.2,578.1 508.2,581.1 508.2,584.1 508.2,587 508.1,590 508.2,593 508.2,595.9 508.2,598.9 508.2,601.8 508.2,604.7 508.2,607.6 508.3,610.5 508.3,613.4 508.4,616.3 508.5,619.4 508.6,622.4 508.6,625.5 508.7,628.6 508.7,631.7 508.7,634.7 508.8,637.7 508.8,640.6 508.9,643.5 508.9,646.4 509,649.2 509.1,652 509.2,654.7 509.3,657.4 509.5,660.1 509.7,662.7 509.9,665.3 510.2,667.8 510.5,670.3 510.9,672.8 511.3,675.3 511.8,677.7 512.2,680.2 512.8,682.7 513.4,685.2 514.1,687.7 514.7,690.3 515.5,692.9 516.2,695.5 517,698.2 517.9,700.8 518.7,703.5 519.6,706.2 520.5,708.9 521.5,711.7 522.4,714.4 523.4,717.2 524.3,720 525.3,722.9 526.3,725.7 527.3,728.6 528.3,731.4 529.3,734.3 530.2,737 531.2,739.8 532.2,742.5 533.1,745.3 534.1,748 535.1,750.8 536.1,753.5 537.1,756.2 538.2,759 539.2,761.7 540.2,764.4 541.3,767.1 542.3,769.8 543.4,772.5 544.4,775.1 545.5,777.8 546.6,780.4 547.7,783 548.8,785.5 549.9,788.1 551.1,790.6 552.2,793.1 553.4,795.6 554.6,798 555.8,800.4 557,802.8 558.3,805.2 559.5,807.5 560.9,809.8 562.2,812.2 563.6,814.5 565,816.9 566.5,819.3 568,821.7 569.5,824.1 571.1,826.5 572.6,828.8 574.1,831.2 575.7,833.5 577.2,835.8 578.9,838.1 580.5,840.4 582.1,842.7 583.8,845 585.5,847.2 587.2,849.5 588.9,851.8 590.6,854.1 592.4,856.4 594.2,858.6 596,860.9 597.7,863.1 599.5,865.3 601.2,867.5 603,869.6 604.8,871.8 606.6,873.9 608.5,876 610.4,878.2 612.3,880.4 614.3,882.6 616.3,884.8 618.2,887 620.2,889.3 622.3,891.5 624.3,893.8 626.3,896.1 628.4,898.5 630.4,900.8 632.5,903.2 634.5,905.5 636.5,907.9 638.5,910.2 640.4,912.5 642.3,914.8 644.3,917.1 646.2,919.4 648.1,921.6 650,923.9 651.9,926.1 653.7,928.3 655.6,930.4 657.5,932.5 659.3,934.6 661.2,936.6 663,938.7 664.9,940.6 666.8,942.6 668.7,944.5 670.6,946.4 672.6,948.3 674.5,950.1 676.5,952 678.6,953.8 680.6,955.7 682.7,957.5 684.9,959.4 687.1,961.2 689.3,963.1 691.5,965 693.8,966.9 696.1,968.8 698.4,970.7 700.7,972.6 702.9,974.5 705.2,976.4 707.4,978.2 709.7,980.1 712,982 714.3,983.8 716.6,985.7 718.9,987.5 721.1,989.3 723.4,991.2 725.7,993 728,994.8 730.3,996.6 732.7,998.4 735,1000.2 737.3,1002 739.6,1003.8 741.9,1005.5 744.2,1007.3 746.6,1009.1 749,1010.8 751.4,1012.6 753.8,1014.4 756.1,1016.2 758.5,1018 760.9,1019.7 763.2,1021.4 765.6,1023.2 767.9,1024.9 770.2,1026.5 772.6,1028.2 774.9,1029.8 777.2,1031.4 779.5,1033 781.8,1034.6 784.1,1036.1 786.4,1037.6 788.7,1039 791,1040.5 793.3,1041.8 795.6,1043.2 798,1044.6 800.4,1045.9 802.8,1047.2 805.2,1048.4 807.6,1049.7 810.1,1051 812.6,1052.2 815,1053.4 817.6,1054.6 820.1,1055.7 822.6,1056.9 825.2,1058 827.8,1059.2 830.4,1060.3 833,1061.4 835.6,1062.5 838.2,1063.5 840.8,1064.6 843.4,1065.6 846,1066.5 848.5,1067.5 851.1,1068.4 853.7,1069.3 856.3,1070.2 859,1071 861.7,1071.9 864.4,1072.7 867.1,1073.6 869.9,1074.4 872.6,1075.2 875.4,1076 878.2,1076.8 881,1077.6 883.8,1078.4 886.7,1079.1 889.5,1079.9 892.3,1080.7 895.1,1081.4 898,1082.2 900.7,1082.9 903.5,1083.6 906.3,1084.3 909.1,1085 911.8,1085.6 914.6,1086.3 917.3,1086.9 920.1,1087.5 922.8,1088 925.5,1088.6 928.2,1089.1 931,1089.6 933.6,1090 936.3,1090.5 939,1090.9 941.7,1091.2 944.5,1091.6 947.2,1091.9 949.9,1092.2 952.7,1092.5 955.5,1092.8 958.3,1093 961.2,1093.3 964,1093.5 966.9,1093.7 969.8,1093.9 972.8,1094.1 975.7,1094.3 978.7,1094.5 981.6,1094.6 984.5,1094.8 987.4,1095 990.3,1095.1 993.2,1095.2 996.1,1095.4 999,1095.5 1001.9,1095.6 1004.8,1095.7 1007.8,1095.8 1010.8,1095.9 1013.7,1095.9 1016.7,1096 1019.7,1096.1 1022.7,1096.2 1025.7,1096.3 1028.7,1096.4 1031.7,1096.4 1034.8,1096.5 1037.8,1096.6 1040.8,1096.7 1043.9,1096.8 1046.8,1096.9 1049.8,1097 1052.8,1097.1 1055.8,1097.2 1058.8,1097.3 1061.8,1097.4 1064.8,1097.5 1067.8,1097.6 1070.8,1097.7 1073.8,1097.8 1076.8,1097.9 1079.8,1098 1082.8,1098 1085.8,1098.1 1088.8,1098.2 1091.8,1098.3 1094.8,1098.4 1097.8,1098.5 1100.8,1098.6 1103.9,1098.7 1106.9,1098.8 1109.9,1098.9 1112.9,1099.1 1115.9,1099.2 1118.9,1099.3 1121.9,1099.4 1124.9,1099.5 1127.9,1099.6 1130.9,1099.7 1133.9,1099.8 1136.9,1099.9 1139.9,1100 1142.9,1100.1 1145.9,1100.2 1148.9,1100.4 1151.9,1100.5 1154.9,1100.6 1157.9,1100.7 1160.9,1100.8 1163.9,1100.9 1166.9,1101 1169.9,1101.1 1172.9,1101.2 1175.9,1101.3 1178.9,1101.4 1181.9,1101.5 1184.9,1101.7 1187.9,1101.8 1190.8,1101.9 1193.8,1102 1196.8,1102.1 1199.8,1102.2 1202.8,1102.3 1205.8,1102.4 1208.8,1102.5 1211.8,1102.6 1214.8,1102.7 1217.8,1102.9 1220.8,1103 1223.8,1103.1 1226.8,1103.2 1229.8,1103.3 1232.8,1103.4 1235.8,1103.5 1238.8,1103.6 1241.8,1103.7 1244.8,1103.8 1247.8,1103.9 1250.8,1104 1253.8,1104.2 1256.8,1104.3 1259.8,1104.4 1262.8,1104.5 1265.8,1104.6 1268.8,1104.7 1271.8,1104.8 1274.8,1104.9 1277.8,1105 1280.8,1105.1 1283.8,1105.2 1286.8,1105.4 1289.8,1105.5 1292.8,1105.6 1295.8,1105.7 1298.8,1105.8 1301.8,1105.9 1304.8,1106 1307.8,1106.1 1310.8,1106.2 1313.8,1106.3 1316.8,1106.4 1319.8,1106.5 1322.8,1106.7 1325.8,1106.8 1328.8,1106.9 1331.8,1107 1334.8,1107.1 1337.8,1107.2 1340.8,1107.3 1343.7,1107.4 1346.7,1107.5 1349.7,1107.6 1352.7,1107.7 1355.7,1107.9 1358.7,1108 1361.7,1108.1 1364.7,1108.2 1367.7,1108.3 1370.7,1108.4 1373.7,1108.5 1376.7,1108.6 1379.7,1108.7 1382.7,1108.8 1385.7,1108.9 1388.7,1109 1391.7,1109.2 1394.7,1109.3 1397.7,1109.4 1400.7,1109.5 1403.7,1109.6 1406.7,1109.7 1409.7,1109.8 1412.7,1109.9 1415.7,1110 1418.7,1110.1 1421.7,1110.2 1424.7,1110.4 1427.7,1110.5 1430.7,1110.6 1433.7,1110.7 1436.7,1110.8 1439.7,1110.9 1442.7,1111 1445.7,1111.1 1448.7,1111.2 1451.7,1111.3 1454.7,1111.4 1457.7,1111.5 1460.7,1111.7 1463.7,1111.8 1466.7,1111.9 1469.7,1112 1472.7,1112.1 1475.7,1112.2 1478.7,1112.3 1481.7,1112.4 1484.7,1112.5 1487.7,1112.6 1490.7,1112.7 1493.7,1112.9 1496.6,1113 1499.6,1113.1 1502.6,1113.2 1505.6,1113.3 1508.6,1113.4 1511.6,1113.5 1514.6,1113.6 1517.6,1113.7 1520.6,1113.8 1523.6,1113.9 1526.6,1114 1529.6,1114.2 1532.6,1114.3 1535.6,1114.4 1538.6,1114.5 1541.6,1114.6 1544.6,1114.7 1547.6,1114.8 1550.6,1114.9 1553.6,1115 1556.6,1115.1 1559.6,1115.2 1562.6,1115.4 1565.6,1115.5 1568.6,1115.6 1571.6,1115.7 1574.6,1115.8 1577.6,1115.9 1580.6,1116 1583.6,1116.1 1586.6,1116.2 1589.6,1116.3 1592.6,1116.4 1595.6,1116.5 1598.6,1116.7 1601.6,1116.8 1604.6,1116.9 1607.6,1117 1610.6,1117.1 1613.6,1117.2 1616.6,1117.3 1619.6,1117.4 1622.6,1117.5 1625.6,1117.6 1628.6,1117.7 1631.6,1117.9 1634.6,1118 1637.6,1118.1 1640.6,1118.2 1643.6,1118.3 1646.6,1118.4 1649.5,1118.5 1652.5,1118.6 1655.5,1118.7 1658.5,1118.8 1661.5,1118.9 1664.5,1119 1667.5,1119.2 1670.5,1119.3 1673.5,1119.4 1676.5,1119.5 1679.5,1119.6 1682.5,1119.7" fill="none" stroke="#222" stroke-width="0.9" />
<path d="M518,563 518,566 518,569.1 518,572.1 518,575.1 518,578.1 518,581.1 518,584.1 518,587.1 517.9,590 518,593 518,595.9 518,598.8 518,601.7 518,604.6 518,607.5 518.1,610.4 518.1,613.2 518.2,616.1 518.3,619.1 518.4,622.2 518.4,625.3 518.5,628.5 518.5,631.6 518.5,634.6 518.6,637.6 518.6,640.5 518.7,643.3 518.7,646.2 518.8,648.9 518.9,651.6 519,654.3 519.1,656.9 519.3,659.4 519.5,661.9 519.7,664.3 520,666.7 520.2,669 520.6,671.3 520.9,673.6 521.4,675.8 521.8,678.1 522.4,680.4 522.9,682.9 523.5,685.3 524.2,687.7 524.9,690.2 525.6,692.7 526.4,695.3 527.2,697.9 528.1,700.5 528.9,703.1 529.8,705.8 530.7,708.5 531.7,711.2 532.6,714 533.6,716.8 534.6,719.6 535.6,722.5 536.6,725.4 537.5,728.2 538.5,731.1 539.5,733.8 540.4,736.5 541.4,739.3 542.4,742 543.3,744.7 544.3,747.4 545.3,750.1 546.3,752.8 547.3,755.5 548.3,758.2 549.4,760.9 550.4,763.5 551.4,766.2 552.5,768.8 553.5,771.4 554.6,774 555.6,776.6 556.7,779.1 557.8,781.6 558.9,784.1 560,786.6 561.1,788.9 562.2,791.3 563.4,793.7 564.5,796 565.7,798.3 566.9,800.5 568.1,802.7 569.4,805 570.7,807.2 572,809.5 573.4,811.8 574.8,814.1 576.3,816.5 577.8,818.8 579.3,821.2 580.8,823.5 582.3,825.7 583.8,828 585.3,830.2 586.9,832.5 588.5,834.7 590.1,836.9 591.7,839.2 593.4,841.4 595,843.7 596.7,845.9 598.4,848.1 600.2,850.4 601.9,852.6 603.7,854.9 605.4,857 607.1,859.1 608.8,861.2 610.5,863.3 612.3,865.4 614.1,867.5 615.9,869.6 617.8,871.8 619.7,873.9 621.6,876.1 623.6,878.3 625.6,880.5 627.6,882.8 629.6,885 631.6,887.3 633.7,889.7 635.8,892 637.8,894.4 639.9,896.8 641.9,899.2 644,901.6 645.9,903.9 647.9,906.2 649.8,908.5 651.8,910.8 653.7,913.1 655.6,915.3 657.4,917.5 659.3,919.7 661.2,921.9 663,924 664.8,926 666.6,928.1 668.4,930 670.2,931.9 672,933.8 673.8,935.7 675.6,937.5 677.5,939.4 679.4,941.2 681.2,943 683.2,944.7 685.2,946.6 687.1,948.3 689.1,950.1 691.3,951.9 693.4,953.8 695.6,955.6 697.8,957.5 700.1,959.4 702.4,961.3 704.7,963.2 706.9,965.1 709.2,967 711.4,968.8 713.7,970.7 715.9,972.5 718.2,974.4 720.5,976.2 722.7,978 725,979.9 727.3,981.7 729.5,983.5 731.8,985.3 734.1,987.1 736.4,988.9 738.7,990.7 741,992.5 743.2,994.2 745.5,996 747.8,997.7 750.1,999.5 752.5,1001.2 754.8,1003 757.2,1004.8 759.6,1006.6 762,1008.3 764.3,1010.1 766.7,1011.8 769,1013.5 771.3,1015.2 773.6,1016.9 775.9,1018.6 778.2,1020.2 780.5,1021.8 782.8,1023.4 785,1024.9 787.3,1026.4 789.5,1027.9 791.7,1029.3 793.9,1030.7 796.1,1032.1 798.3,1033.4 800.6,1034.7 802.8,1036 805.1,1037.3 807.4,1038.6 809.7,1039.8 812.1,1041 814.5,1042.2 816.9,1043.4 819.3,1044.5 821.7,1045.7 824.2,1046.8 826.7,1048 829.1,1049.1 831.7,1050.2 834.2,1051.3 836.7,1052.3 839.3,1053.4 841.9,1054.4 844.4,1055.4 846.9,1056.4 849.4,1057.3 851.8,1058.2 854.4,1059.1 856.9,1060 859.4,1060.9 862,1061.7 864.6,1062.5 867.3,1063.4 869.9,1064.2 872.6,1065 875.4,1065.8 878.1,1066.6 880.9,1067.4 883.6,1068.1 886.5,1068.9 889.3,1069.7 892.1,1070.5 894.9,1071.2 897.6,1072 900.4,1072.7 903.2,1073.4 905.9,1074.1 908.6,1074.8 911.3,1075.4 914.1,1076.1 916.7,1076.7 919.4,1077.3 922.1,1077.9 924.7,1078.4 927.4,1079 930,1079.4 932.7,1079.9 935.2,1080.4 937.8,1080.8 940.4,1081.2 943,1081.5 945.7,1081.9 948.3,1082.2 951,1082.5 953.7,1082.8 956.4,1083 959.2,1083.3 961.9,1083.5 964.8,1083.7 967.6,1083.9 970.5,1084.1 973.4,1084.3 976.4,1084.5 979.3,1084.7 982.2,1084.9 985.1,1085 987.9,1085.2 990.7,1085.3 993.6,1085.5 996.4,1085.6 999.3,1085.7 1002.2,1085.8 1005.2,1085.9 1008.1,1086 1011,1086.1 1014,1086.1 1017,1086.2 1020,1086.3 1023,1086.4 1026,1086.5 1029,1086.6 1032,1086.6 1035.1,1086.7 1038.1,1086.8 1041.1,1086.9 1044.2,1087 1047.2,1087.1 1050.2,1087.2 1053.1,1087.3 1056.1,1087.4 1059.1,1087.5 1062.1,1087.6 1065.1,1087.7 1068.1,1087.8 1071.1,1087.9 1074.1,1088 1077.1,1088.1 1080.1,1088.2 1083.1,1088.3 1086.1,1088.3 1089.1,1088.4 1092.1,1088.5 1095.1,1088.6 1098.1,1088.7 1101.2,1088.8 1104.3,1088.9 1107.3,1089 1110.3,1089.1 1113.3,1089.3 1116.3,1089.4 1119.3,1089.5 1122.2,1089.6 1125.2,1089.7 1128.2,1089.8 1131.2,1089.9 1134.2,1090 1137.2,1090.1 1140.2,1090.2 1143.2,1090.3 1146.2,1090.5 1149.2,1090.6 1152.2,1090.7 1155.2,1090.8 1158.2,1090.9 1161.2,1091 1164.2,1091.1 1167.2,1091.2 1170.2,1091.3 1173.2,1091.4 1176.2,1091.5 1179.2,1091.6 1182.2,1091.8 1185.2,1091.9 1188.2,1092 1191.2,1092.1 1194.2,1092.2 1197.2,1092.3 1200.2,1092.4 1203.2,1092.5 1206.2,1092.6 1209.2,1092.7 1212.2,1092.8 1215.2,1093 1218.2,1093.1 1221.2,1093.2 1224.2,1093.3 1227.2,1093.4 1230.2,1093.5 1233.2,1093.6 1236.2,1093.7 1239.2,1093.8 1242.2,1093.9 1245.2,1094 1248.2,1094.1 1251.2,1094.3 1254.2,1094.4 1257.2,1094.5 1260.2,1094.6 1263.2,1094.7 1266.2,1094.8 1269.2,1094.9 1272.2,1095 1275.1,1095.1 1278.1,1095.2 1281.1,1095.3 1284.1,1095.5 1287.1,1095.6 1290.1,1095.7 1293.1,1095.8 1296.1,1095.9 1299.1,1096 1302.1,1096.1 1305.1,1096.2 1308.1,1096.3 1311.1,1096.4 1314.1,1096.5 1317.1,1096.6 1320.1,1096.8 1323.1,1096.9 1326.1,1097 1329.1,1097.1 1332.1,1097.2 1335.1,1097.3 1338.1,1097.4 1341.1,1097.5 1344.1,1097.6 1347.1,1097.7 1350.1,1097.8 1353.1,1098 1356.1,1098.1 1359.1,1098.2 1362.1,1098.3 1365.1,1098.4 1368.1,1098.5 1371.1,1098.6 1374.1,1098.7 1377.1,1098.8 1380.1,1098.9 1383.1,1099 1386.1,1099.1 1389.1,1099.3 1392.1,1099.4 1395.1,1099.5 1398.1,1099.6 1401.1,1099.7 1404.1,1099.8 1407.1,1099.9 1410.1,1100 1413.1,1100.1 1416.1,1100.2 1419.1,1100.3 1422.1,1100.5 1425.1,1100.6 1428,1100.7 1431,1100.8 1434,1100.9 1437,1101 1440,1101.1 1443,1101.2 1446,1101.3 1449,1101.4 1452,1101.5 1455,1101.6 1458,1101.8 1461,1101.9 1464,1102 1467,1102.1 1470,1102.2 1473,1102.3 1476,1102.4 1479,1102.5 1482,1102.6 1485,1102.7 1488,1102.8 1491,1103 1494,1103.1 1497,1103.2 1500,1103.3 1503,1103.4 1506,1103.5 1509,1103.6 1512,1103.7 1515,1103.8 1518,1103.9 1521,1104 1524,1104.1 1527,1104.3 1530,1104.4 1533,1104.5 1536,1104.6 1539,1104.7 1542,1104.8 1545,1104.9 1548,1105 1551,1105.1 1554,1105.2 1557,1105.3 1560,1105.4 1563,1105.6 1566,1105.7 1569,1105.8 1572,1105.9 1575,1106 1578,1106.1 1580.9,1106.2 1583.9,1106.3 1586.9,1106.4 1589.9,1106.5 1592.9,1106.6 1595.9,1106.8 1598.9,1106.9 1601.9,1107 1604.9,1107.1 1607.9,1107.2 1610.9,1107.3 1613.9,1107.4 1616.9,1107.5 1619.9,1107.6 1622.9,1107.7 1625.9,1107.8 1628.9,1107.9 1631.9,1108.1 1634.9,1108.2 1637.9,1108.3 1640.9,1108.4 1643.9,1108.5 1646.9,1108.6 1649.9,1108.7 1652.9,1108.8 1655.9,1108.9 1658.9,1109 1661.9,1109.1 1664.9,1109.3 1667.9,1109.4 1670.9,1109.5 1673.9,1109.6 1676.9,1109.7 1679.9,1109.8 1682.9,1109.9 1685.9,1110 1688.9,1110.1 1691.9,1110.2" fill="none" stroke="#222" stroke-width="0.9" />
<path d="M533.5,563 533.5,566 533.5,569.1 533.5,572.1 533.5,575.2 533.5,578.2 533.5,581.2 533.5,584.1 533.5,587.1 533.4,590 533.5,592.9 533.5,595.8 533.5,598.7 533.5,601.6 533.5,604.5 533.5,607.3 533.6,610.1 533.6,612.9 533.7,615.7 533.8,618.8 533.9,621.8 533.9,625.1 534,628.3 534,631.4 534,634.4 534.1,637.4 534.1,640.3 534.2,643.1 534.2,645.8 534.3,648.5 534.4,651.1 534.5,653.5 534.6,656 534.7,658.3 534.9,660.6 535.1,662.8 535.4,664.9 535.6,666.9 535.9,668.9 536.2,670.9 536.6,672.8 537,674.9 537.5,677 538,679.2 538.5,681.3 539.1,683.6 539.8,685.9 540.5,688.3 541.2,690.7 542,693.2 542.8,695.7 543.6,698.3 544.5,700.9 545.4,703.5 546.3,706.2 547.3,708.9 548.2,711.7 549.2,714.5 550.2,717.4 551.2,720.3 552.2,723.2 553.2,726 554.1,728.7 555,731.4 556,734.1 557,736.7 557.9,739.4 558.9,742.1 559.9,744.8 560.8,747.4 561.8,750.1 562.8,752.7 563.8,755.3 564.8,757.9 565.9,760.5 566.9,763.1 567.9,765.6 568.9,768.1 569.9,770.6 571,773.1 572,775.5 573,777.8 574.1,780.1 575.1,782.4 576.2,784.6 577.3,786.8 578.3,788.9 579.4,791.1 580.5,793.2 581.6,795.2 582.8,797.3 584.1,799.4 585.3,801.5 586.6,803.7 588,806 589.4,808.2 590.9,810.5 592.4,812.8 593.7,815 595.2,817.1 596.6,819.2 598,821.3 599.6,823.6 601.1,825.7 602.6,827.8 604.2,830 605.8,832.2 607.5,834.4 609.1,836.5 610.7,838.7 612.4,840.9 614.1,843.1 615.8,845.3 617.5,847.4 619.1,849.4 620.7,851.4 622.4,853.3 624.1,855.4 625.8,857.4 627.6,859.4 629.4,861.5 631.3,863.6 633.2,865.8 635.1,868 637.1,870.2 639.1,872.4 641.2,874.7 643.2,877 645.3,879.4 647.4,881.8 649.5,884.2 651.7,886.7 653.7,889.1 655.8,891.5 657.8,893.9 659.8,896.2 661.7,898.6 663.6,900.8 665.5,903.1 667.4,905.3 669.2,907.5 671,909.6 672.9,911.7 674.6,913.7 676.4,915.7 678.1,917.7 679.8,919.5 681.5,921.3 683.1,923.1 684.9,924.8 686.6,926.6 688.3,928.3 690.1,930 691.8,931.7 693.6,933.3 695.5,935.1 697.4,936.7 699.3,938.4 701.4,940.2 703.5,941.9 705.6,943.8 707.8,945.6 710.1,947.5 712.3,949.4 714.6,951.3 716.8,953.2 719.1,955 721.3,956.9 723.5,958.7 725.7,960.5 728,962.3 730.2,964.2 732.4,966 734.7,967.8 736.9,969.6 739.2,971.4 741.4,973.2 743.7,974.9 745.9,976.7 748.2,978.5 750.5,980.2 752.7,981.9 754.9,983.7 757.2,985.4 759.5,987.1 761.8,988.8 764.1,990.6 766.5,992.4 768.9,994.2 771.2,995.9 773.6,997.7 775.9,999.4 778.2,1001.1 780.5,1002.7 782.7,1004.4 785,1006 787.2,1007.6 789.4,1009.1 791.6,1010.6 793.7,1012.1 795.9,1013.5 798,1014.9 800.1,1016.3 802.1,1017.6 804.2,1018.8 806.2,1020.1 808.3,1021.3 810.4,1022.5 812.6,1023.7 814.7,1024.9 816.9,1026 819.2,1027.2 821.4,1028.3 823.7,1029.5 825.9,1030.6 828.3,1031.7 830.6,1032.7 833,1033.8 835.4,1034.9 837.8,1035.9 840.2,1037 842.7,1038 845.2,1039.1 847.7,1040 850.1,1041 852.4,1041.9 854.8,1042.8 857.1,1043.7 859.5,1044.5 861.9,1045.3 864.3,1046.1 866.8,1047 869.3,1047.8 871.9,1048.6 874.4,1049.3 877,1050.1 879.7,1050.9 882.3,1051.7 885.1,1052.4 887.8,1053.2 890.6,1054 893.4,1054.7 896.2,1055.5 898.9,1056.3 901.6,1057 904.4,1057.7 907,1058.4 909.7,1059.1 912.3,1059.7 915,1060.4 917.6,1061 920.2,1061.6 922.8,1062.2 925.3,1062.7 927.8,1063.2 930.4,1063.7 932.8,1064.2 935.3,1064.7 937.7,1065.1 940.2,1065.5 942.7,1065.8 945,1066.2 947.6,1066.5 950.1,1066.8 952.6,1067.1 955.2,1067.3 957.8,1067.6 960.5,1067.8 963.2,1068 965.9,1068.2 968.7,1068.5 971.5,1068.6 974.4,1068.8 977.3,1069 980.3,1069.2 983.1,1069.4 985.9,1069.6 988.7,1069.7 991.4,1069.8 994.2,1070 997.1,1070.1 999.9,1070.2 1002.8,1070.3 1005.7,1070.4 1008.6,1070.5 1011.5,1070.6 1014.4,1070.7 1017.4,1070.7 1020.4,1070.8 1023.4,1070.9 1026.4,1071 1029.4,1071.1 1032.5,1071.1 1035.5,1071.2 1038.6,1071.3 1041.6,1071.4 1044.7,1071.5 1047.7,1071.6 1050.7,1071.7 1053.6,1071.8 1056.6,1071.9 1059.6,1072 1062.6,1072.1 1065.6,1072.2 1068.6,1072.3 1071.6,1072.4 1074.6,1072.5 1077.6,1072.6 1080.6,1072.7 1083.6,1072.8 1086.6,1072.9 1089.6,1072.9 1092.6,1073 1095.6,1073.1 1098.6,1073.2 1101.7,1073.3 1104.8,1073.4 1107.8,1073.5 1110.8,1073.7 1113.8,1073.8 1116.8,1073.9 1119.8,1074 1122.8,1074.1 1125.8,1074.2 1128.8,1074.3 1131.8,1074.4 1134.8,1074.5 1137.8,1074.6 1140.8,1074.7 1143.8,1074.9 1146.8,1075 1149.8,1075.1 1152.8,1075.2 1155.8,1075.3 1158.8,1075.4 1161.8,1075.5 1164.8,1075.6 1167.8,1075.7 1170.8,1075.8 1173.8,1075.9 1176.8,1076 1179.8,1076.2 1182.8,1076.3 1185.8,1076.4 1188.8,1076.5 1191.8,1076.6 1194.8,1076.7 1197.8,1076.8 1200.8,1076.9 1203.8,1077 1206.8,1077.1 1209.8,1077.2 1212.8,1077.4 1215.8,1077.5 1218.7,1077.6 1221.7,1077.7 1224.7,1077.8 1227.7,1077.9 1230.7,1078 1233.7,1078.1 1236.7,1078.2 1239.7,1078.3 1242.7,1078.4 1245.7,1078.5 1248.7,1078.7 1251.7,1078.8 1254.7,1078.9 1257.7,1079 1260.7,1079.1 1263.7,1079.2 1266.7,1079.3 1269.7,1079.4 1272.7,1079.5 1275.7,1079.6 1278.7,1079.7 1281.7,1079.9 1284.7,1080 1287.7,1080.1 1290.7,1080.2 1293.7,1080.3 1296.7,1080.4 1299.7,1080.5 1302.7,1080.6 1305.7,1080.7 1308.7,1080.8 1311.7,1080.9 1314.7,1081 1317.7,1081.2 1320.7,1081.3 1323.7,1081.4 1326.7,1081.5 1329.7,1081.6 1332.7,1081.7 1335.7,1081.8 1338.7,1081.9 1341.7,1082 1344.7,1082.1 1347.7,1082.2 1350.7,1082.4 1353.7,1082.5 1356.7,1082.6 1359.7,1082.7 1362.7,1082.8 1365.7,1082.9 1368.6,1083 1371.6,1083.1 1374.6,1083.2 1377.6,1083.3 1380.6,1083.4 1383.6,1083.5 1386.6,1083.7 1389.6,1083.8 1392.6,1083.9 1395.6,1084 1398.6,1084.1 1401.6,1084.2 1404.6,1084.3 1407.6,1084.4 1410.6,1084.5 1413.6,1084.6 1416.6,1084.7 1419.6,1084.9 1422.6,1085 1425.6,1085.1 1428.6,1085.2 1431.6,1085.3 1434.6,1085.4 1437.6,1085.5 1440.6,1085.6 1443.6,1085.7 1446.6,1085.8 1449.6,1085.9 1452.6,1086 1455.6,1086.2 1458.6,1086.3 1461.6,1086.4 1464.6,1086.5 1467.6,1086.6 1470.6,1086.7 1473.6,1086.8 1476.6,1086.9 1479.6,1087 1482.6,1087.1 1485.6,1087.2 1488.6,1087.4 1491.6,1087.5 1494.6,1087.6 1497.6,1087.7 1500.6,1087.8 1503.6,1087.9 1506.6,1088 1509.6,1088.1 1512.6,1088.2 1515.6,1088.3 1518.6,1088.4 1521.5,1088.5 1524.5,1088.7 1527.5,1088.8 1530.5,1088.9 1533.5,1089 1536.5,1089.1 1539.5,1089.2 1542.5,1089.3 1545.5,1089.4 1548.5,1089.5 1551.5,1089.6 1554.5,1089.7 1557.5,1089.9 1560.5,1090 1563.5,1090.1 1566.5,1090.2 1569.5,1090.3 1572.5,1090.4 1575.5,1090.5 1578.5,1090.6 1581.5,1090.7 1584.5,1090.8 1587.5,1090.9 1590.5,1091 1593.5,1091.2 1596.5,1091.3 1599.5,1091.4 1602.5,1091.5 1605.5,1091.6 1608.5,1091.7 1611.5,1091.8 1614.5,1091.9 1617.5,1092 1620.5,1092.1 1623.5,1092.2 1626.5,1092.4 1629.5,1092.5 1632.5,1092.6 1635.5,1092.7 1638.5,1092.8 1641.5,1092.9 1644.5,1093 1647.5,1093.1 1650.5,1093.2 1653.5,1093.3 1656.5,1093.4 1659.5,1093.5 1662.5,1093.7 1665.5,1093.8" fill="none" stroke="#333" stroke-width="0.8" stroke-dasharray="16 8" />
<path d="M491.1,518 491.1,521 491.1,524 491.1,527 491.1,530 491.1,533 491.1,536 491.1,539 491.1,542 491.1,545 491.1,548 491.1,551 491.1,554 491.1,557 491.1,560 491.1,563 491.1,566 491.1,569 491.1,572 491.1,575 491.1,578 491.1,581 491.1,584 491.1,587 491,590 491.1,593 491.1,596 491.1,599 491.1,601.9 491.1,604.9 491.1,607.9 491.2,610.8 491.2,613.8 491.3,616.8 491.4,619.8 491.5,622.8 491.5,625.8 491.6,628.9 491.6,631.9 491.6,634.9 491.7,637.9 491.7,640.9 491.8,643.8 491.8,646.8 491.9,649.7 492,652.6 492.1,655.5 492.3,658.4 492.4,661.3 492.7,664.2 492.9,667 493.2,669.8 493.6,672.6 494,675.4 494.4,678.2 495,681 495.5,683.7 496.2,686.5 496.8,689.3 497.5,692.1 498.3,694.8 499,697.6 499.9,700.4 500.7,703.2 501.6,706 502.5,708.8 503.4,711.6 504.3,714.4 505.3,717.2 506.2,720 507.2,722.8 508.2,725.6 509.2,728.5 510.2,731.3 511.1,734.2 512.1,737 513.1,739.8 514.1,742.6 515.1,745.4 516,748.2 517,751 518,753.8 519.1,756.6 520.1,759.4 521.1,762.2 522.2,765 523.2,767.8 524.3,770.5 525.3,773.3 526.4,776 527.5,778.8 528.6,781.5 529.7,784.3 530.8,787 532,789.7 533.1,792.4 534.3,795 535.5,797.7 536.7,800.3 538,803 539.2,805.6 540.5,808.2 541.9,810.7 543.2,813.3 544.6,815.8 546,818.3 547.4,820.8 548.9,823.3 550.4,825.8 552,828.3 553.5,830.8 555.1,833.3 556.7,835.8 558.3,838.2 559.9,840.7 561.5,843.1 563.2,845.5 564.9,847.9 566.6,850.3 568.3,852.7 570,855.1 571.7,857.4 573.5,859.8 575.3,862.1 577.1,864.5 578.9,866.8 580.7,869.2 582.5,871.5 584.3,873.8 586.2,876.1 588,878.3 589.9,880.6 591.8,882.8 593.7,885.1 595.6,887.3 597.6,889.5 599.5,891.7 601.5,894 603.5,896.2 605.5,898.4 607.5,900.7 609.5,902.9 611.5,905.2 613.5,907.4 615.5,909.7 617.5,912 619.5,914.3 621.5,916.6 623.4,918.9 625.4,921.2 627.3,923.5 629.3,925.8 631.2,928.1 633.1,930.4 635,932.7 637,935 638.9,937.2 640.8,939.5 642.7,941.7 644.7,943.9 646.6,946.1 648.6,948.2 650.6,950.3 652.6,952.4 654.6,954.5 656.6,956.6 658.7,958.6 660.8,960.6 662.9,962.6 665,964.6 667.2,966.6 669.3,968.5 671.5,970.4 673.7,972.3 676,974.3 678.3,976.2 680.5,978.1 682.8,980 685.1,981.9 687.4,983.8 689.7,985.8 692,987.7 694.3,989.6 696.6,991.5 698.9,993.3 701.2,995.2 703.5,997.1 705.8,999 708.1,1000.8 710.5,1002.7 712.8,1004.6 715.1,1006.4 717.5,1008.3 719.8,1010.1 722.2,1011.9 724.5,1013.7 726.9,1015.6 729.2,1017.4 731.6,1019.2 733.9,1020.9 736.3,1022.7 738.7,1024.5 741.1,1026.3 743.5,1028.1 745.9,1029.9 748.3,1031.7 750.7,1033.5 753.1,1035.2 755.5,1037 757.9,1038.7 760.3,1040.4 762.7,1042.2 765.1,1043.9 767.5,1045.5 769.9,1047.2 772.3,1048.8 774.8,1050.4 777.2,1052 779.7,1053.5 782.1,1055.1 784.6,1056.6 787.1,1058 789.6,1059.5 792.1,1060.9 794.7,1062.2 797.3,1063.6 799.8,1064.9 802.4,1066.3 805,1067.6 807.7,1068.8 810.3,1070.1 813,1071.3 815.6,1072.5 818.3,1073.7 821,1074.9 823.7,1076 826.4,1077.2 829.1,1078.3 831.8,1079.4 834.6,1080.5 837.3,1081.5 840,1082.6 842.7,1083.6 845.5,1084.5 848.2,1085.5 851,1086.4 853.8,1087.3 856.6,1088.2 859.4,1089.1 862.2,1089.9 865,1090.8 867.8,1091.6 870.7,1092.4 873.5,1093.2 876.4,1094 879.3,1094.8 882.2,1095.6 885,1096.4 887.9,1097.2 890.8,1098 893.6,1098.7 896.5,1099.5 899.4,1100.2 902.2,1100.9 905.1,1101.6 907.9,1102.3 910.8,1102.9 913.7,1103.6 916.5,1104.2 919.4,1104.8 922.3,1105.4 925.1,1105.9 928,1106.4 930.8,1106.9 933.7,1107.4 936.6,1107.8 939.4,1108.2 942.3,1108.6 945.2,1108.9 948.1,1109.2 951,1109.5 953.9,1109.8 956.9,1110.1 959.8,1110.3 962.8,1110.5 965.7,1110.7 968.7,1111 971.7,1111.1 974.6,1111.3 977.6,1111.5 980.6,1111.7 983.5,1111.9 986.5,1112.1 989.4,1112.2 992.4,1112.3 995.4,1112.5 998.3,1112.6 1001.3,1112.7 1004.3,1112.8 1007.3,1112.9 1010.3,1113 1013.3,1113 1016.2,1113.1 1019.2,1113.2 1022.2,1113.3 1025.2,1113.4 1028.2,1113.4 1031.2,1113.5 1034.3,1113.6 1037.3,1113.7 1040.3,1113.8 1043.3,1113.9 1046.3,1114 1049.3,1114.1 1052.3,1114.2 1055.3,1114.3 1058.3,1114.4 1061.3,1114.5 1064.3,1114.6 1067.3,1114.7 1070.3,1114.8 1073.3,1114.9 1076.3,1115 1079.3,1115 1082.2,1115.1 1085.2,1115.2 1088.2,1115.3 1091.2,1115.4 1094.2,1115.5 1097.2,1115.6 1100.3,1115.7 1103.3,1115.8 1106.3,1115.9 1109.3,1116 1112.3,1116.1 1115.3,1116.2 1118.3,1116.4 1121.3,1116.5 1124.3,1116.6 1127.3,1116.7 1130.3,1116.8 1133.3,1116.9 1136.3,1117 1139.3,1117.1 1142.3,1117.2 1145.3,1117.3 1148.3,1117.4 1151.3,1117.6 1154.3,1117.7 1157.3,1117.8 1160.2,1117.9 1163.2,1118 1166.2,1118.1 1169.2,1118.2 1172.2,1118.3 1175.2,1118.4 1178.2,1118.5 1181.2,1118.6 1184.2,1118.7 1187.2,1118.9 1190.2,1119 1193.2,1119.1 1196.2,1119.2 1199.2,1119.3 1202.2,1119.4 1205.2,1119.5 1208.2,1119.6 1211.2,1119.7 1214.2,1119.8 1217.2,1119.9 1220.2,1120.1 1223.2,1120.2 1226.2,1120.3 1229.2,1120.4 1232.2,1120.5 1235.2,1120.6 1238.2,1120.7 1241.2,1120.8 1244.2,1120.9 1247.2,1121 1250.2,1121.1 1253.2,1121.2 1256.2,1121.4 1259.2,1121.5 1262.2,1121.6 1265.2,1121.7 1268.2,1121.8 1271.2,1121.9 1274.2,1122 1277.2,1122.1 1280.2,1122.2 1283.2,1122.3 1286.2,1122.4 1289.2,1122.6 1292.2,1122.7 1295.2,1122.8 1298.2,1122.9 1301.2,1123 1304.2,1123.1 1307.2,1123.2 1310.2,1123.3 1313.1,1123.4 1316.1,1123.5 1319.1,1123.6 1322.1,1123.7 1325.1,1123.9 1328.1,1124 1331.1,1124.1 1334.1,1124.2 1337.1,1124.3 1340.1,1124.4 1343.1,1124.5 1346.1,1124.6 1349.1,1124.7 1352.1,1124.8 1355.1,1124.9 1358.1,1125.1 1361.1,1125.2 1364.1,1125.3 1367.1,1125.4 1370.1,1125.5 1373.1,1125.6 1376.1,1125.7 1379.1,1125.8 1382.1,1125.9 1385.1,1126 1388.1,1126.1 1391.1,1126.2 1394.1,1126.4 1397.1,1126.5 1400.1,1126.6 1403.1,1126.7 1406.1,1126.8 1409.1,1126.9 1412.1,1127 1415.1,1127.1 1418.1,1127.2 1421.1,1127.3 1424.1,1127.4 1427.1,1127.6 1430.1,1127.7 1433.1,1127.8 1436.1,1127.9 1439.1,1128 1442.1,1128.1 1445.1,1128.2 1448.1,1128.3 1451.1,1128.4 1454.1,1128.5 1457.1,1128.6 1460.1,1128.7 1463.1,1128.9 1466,1129 1469,1129.1 1472,1129.2 1475,1129.3 1478,1129.4 1481,1129.5 1484,1129.6 1487,1129.7 1490,1129.8 1493,1129.9 1496,1130 1499,1130.2 1502,1130.3 1505,1130.4 1508,1130.5 1511,1130.6 1514,1130.7 1517,1130.8 1520,1130.9 1523,1131 1526,1131.1 1529,1131.2 1532,1131.4 1535,1131.5 1538,1131.6 1541,1131.7 1544,1131.8 1547,1131.9 1550,1132 1553,1132.1 1556,1132.2 1559,1132.3 1562,1132.4 1565,1132.5 1568,1132.7 1571,1132.8 1574,1132.9 1577,1133 1580,1133.1 1583,1133.2 1586,1133.3 1589,1133.4 1592,1133.5 1595,1133.6 1598,1133.7 1601,1133.9 1604,1134 1607,1134.1 1610,1134.2 1613,1134.3 1616,1134.4 1618.9,1134.5 1621.9,1134.6 1624.9,1134.7 1627.9,1134.8 1630.9,1134.9 1633.9,1135 1636.9,1135.2 1639.9,1135.3 1642.9,1135.4 1645.9,1135.5 1648.9,1135.6 1651.9,1135.7 1654.9,1135.8 1657.9,1135.9 1660.9,1136 1663.9,1136.1 1666.9,1136.2 1669.9,1136.4 1672.9,1136.5 1675.9,1136.6 1678.9,1136.7 1681.9,1136.8 1684.9,1136.9 1687.9,1137 1690.9,1137.1 1693.9,1137.2 1696.9,1137.3 1699.9,1137.4" fill="none" stroke="#111" stroke-width="1.8" />
<path d="M481.5,518 481.5,521 481.5,524 481.5,527 481.5,530 481.5,533 481.5,536 481.5,539 481.5,542 481.5,545 481.5,548 481.5,551 481.5,554 481.5,557 481.5,560 481.5,563 481.5,566 481.5,569 481.5,572 481.5,575 481.5,578 481.5,581 481.5,584 481.5,587 481.5,590 481.5,593 481.5,596 481.5,599 481.5,602 481.5,605 481.5,608 481.6,611 481.7,614 481.7,617 481.8,620 481.9,623 481.9,626 482,629 482,632 482,635 482.1,638 482.1,641 482.2,644 482.2,647 482.3,650 482.4,653 482.5,656 482.7,659 482.9,662 483.1,665 483.4,668 483.7,670.9 484.1,673.9 484.5,676.9 485,679.8 485.5,682.8 486.1,685.7 486.8,688.7 487.5,691.6 488.2,694.5 489,697.4 489.8,700.3 490.6,703.2 491.5,706 492.4,708.9 493.3,711.7 494.3,714.6 495.2,717.4 496.2,720.3 497.2,723.1 498.1,726 499.1,728.8 500.1,731.6 501.1,734.5 502.1,737.3 503,740.1 504,743 505,745.8 506,748.6 507,751.5 508,754.3 509,757.1 510,759.9 511.1,762.7 512.1,765.6 513.2,768.4 514.2,771.2 515.3,774 516.4,776.8 517.5,779.6 518.6,782.4 519.7,785.1 520.8,787.9 522,790.7 523.1,793.5 524.3,796.2 525.5,799 526.8,801.7 528,804.4 529.3,807.1 530.6,809.8 532,812.5 533.3,815.2 534.7,817.8 536.2,820.5 537.7,823.1 539.2,825.7 540.7,828.2 542.2,830.8 543.8,833.4 545.4,835.9 547,838.4 548.6,841 550.3,843.5 551.9,846 553.6,848.5 555.3,850.9 557,853.4 558.7,855.9 560.5,858.3 562.3,860.7 564,863.1 565.8,865.5 567.6,867.9 569.5,870.3 571.3,872.7 573.1,875.1 575,877.4 576.8,879.8 578.7,882.1 580.6,884.4 582.5,886.8 584.5,889 586.4,891.3 588.4,893.6 590.4,895.8 592.3,898.1 594.3,900.3 596.3,902.6 598.3,904.8 600.3,907.1 602.3,909.3 604.3,911.5 606.3,913.8 608.3,916 610.3,918.3 612.2,920.6 614.2,922.9 616.1,925.1 618,927.4 620,929.7 621.9,932 623.8,934.3 625.8,936.6 627.7,938.9 629.6,941.2 631.6,943.5 633.6,945.7 635.5,948 637.5,950.3 639.5,952.5 641.5,954.7 643.6,956.9 645.6,959.1 647.7,961.2 649.8,963.4 652,965.5 654.1,967.6 656.3,969.6 658.5,971.7 660.7,973.7 663,975.7 665.2,977.7 667.5,979.6 669.8,981.6 672.1,983.5 674.4,985.4 676.7,987.4 679,989.3 681.3,991.2 683.6,993.1 685.9,995.1 688.2,997 690.5,998.9 692.8,1000.8 695.1,1002.7 697.5,1004.6 699.8,1006.4 702.1,1008.3 704.5,1010.2 706.8,1012.1 709.2,1013.9 711.5,1015.8 713.9,1017.7 716.3,1019.5 718.6,1021.3 721,1023.2 723.4,1025 725.8,1026.8 728.2,1028.6 730.6,1030.4 733,1032.2 735.4,1034 737.8,1035.8 740.2,1037.6 742.6,1039.4 745,1041.2 747.4,1043 749.8,1044.7 752.3,1046.5 754.7,1048.3 757.1,1050 759.6,1051.7 762,1053.4 764.5,1055.1 767,1056.8 769.5,1058.5 772,1060.1 774.6,1061.7 777.1,1063.3 779.7,1064.8 782.3,1066.3 784.9,1067.8 787.5,1069.3 790.1,1070.7 792.8,1072.1 795.5,1073.5 798.1,1074.8 800.8,1076.2 803.5,1077.5 806.2,1078.8 809,1080 811.7,1081.3 814.4,1082.5 817.2,1083.7 819.9,1084.9 822.7,1086 825.5,1087.2 828.3,1088.3 831,1089.4 833.8,1090.5 836.6,1091.6 839.5,1092.6 842.3,1093.6 845.1,1094.6 848,1095.5 850.8,1096.5 853.7,1097.4 856.5,1098.3 859.4,1099.1 862.3,1100 865.2,1100.8 868.1,1101.7 870.9,1102.5 873.8,1103.3 876.7,1104.1 879.6,1104.9 882.5,1105.7 885.4,1106.5 888.3,1107.2 891.2,1108 894.1,1108.8 897,1109.5 899.9,1110.2 902.8,1110.9 905.8,1111.6 908.7,1112.3 911.6,1112.9 914.5,1113.6 917.5,1114.2 920.4,1114.8 923.4,1115.3 926.3,1115.9 929.3,1116.4 932.2,1116.8 935.2,1117.3 938.2,1117.7 941.1,1118.1 944.1,1118.5 947.1,1118.8 950.1,1119.1 953.1,1119.4 956.1,1119.6 959.1,1119.9 962.1,1120.1 965,1120.3 968,1120.5 971,1120.7 974,1120.9 977,1121.1 980,1121.3 983,1121.5 986,1121.6 989,1121.8 992,1121.9 995,1122 998,1122.2 1001,1122.3 1004,1122.4 1007,1122.5 1010,1122.5 1013,1122.6 1016,1122.7 1019,1122.8 1022,1122.9 1025,1123 1028,1123 1031,1123.1 1034,1123.2 1037,1123.3 1040,1123.4 1043,1123.5 1046,1123.6 1049,1123.7 1052,1123.8 1055,1123.9 1058,1124 1061,1124.1 1064,1124.2 1067,1124.3 1070,1124.4 1073,1124.5 1076,1124.5 1079,1124.6 1082,1124.7 1084.9,1124.8 1087.9,1124.9 1090.9,1125 1093.9,1125.1 1096.9,1125.2 1099.9,1125.3 1102.9,1125.4 1105.9,1125.5 1108.9,1125.6 1111.9,1125.7 1114.9,1125.8 1117.9,1125.9 1120.9,1126.1 1123.9,1126.2 1126.9,1126.3 1129.9,1126.4 1132.9,1126.5 1135.9,1126.6 1138.9,1126.7 1141.9,1126.8 1144.9,1126.9 1147.9,1127 1150.9,1127.1 1153.9,1127.3 1156.9,1127.4 1159.9,1127.5 1162.9,1127.6 1165.9,1127.7 1168.9,1127.8 1171.9,1127.9 1174.9,1128 1177.9,1128.1 1180.9,1128.2 1183.9,1128.3 1186.9,1128.4 1189.9,1128.6 1192.9,1128.7 1195.9,1128.8 1198.9,1128.9 1201.9,1129 1204.9,1129.1 1207.9,1129.2 1210.9,1129.3 1213.9,1129.4 1216.9,1129.5 1219.9,1129.6 1222.9,1129.8 1225.9,1129.9 1228.9,1130 1231.9,1130.1 1234.9,1130.2 1237.9,1130.3 1240.8,1130.4 1243.8,1130.5 1246.8,1130.6 1249.8,1130.7 1252.8,1130.8 1255.8,1130.9 1258.8,1131.1 1261.8,1131.2 1264.8,1131.3 1267.8,1131.4 1270.8,1131.5 1273.8,1131.6 1276.8,1131.7 1279.8,1131.8 1282.8,1131.9 1285.8,1132 1288.8,1132.1 1291.8,1132.3 1294.8,1132.4 1297.8,1132.5 1300.8,1132.6 1303.8,1132.7 1306.8,1132.8 1309.8,1132.9 1312.8,1133 1315.8,1133.1 1318.8,1133.2 1321.8,1133.3 1324.8,1133.4 1327.8,1133.6 1330.8,1133.7 1333.8,1133.8 1336.8,1133.9 1339.8,1134 1342.8,1134.1 1345.8,1134.2 1348.8,1134.3 1351.8,1134.4 1354.8,1134.5 1357.8,1134.6 1360.8,1134.8 1363.8,1134.9 1366.8,1135 1369.8,1135.1 1372.8,1135.2 1375.8,1135.3 1378.8,1135.4 1381.8,1135.5 1384.8,1135.6 1387.8,1135.7 1390.8,1135.8 1393.7,1135.9 1396.7,1136.1 1399.7,1136.2 1402.7,1136.3 1405.7,1136.4 1408.7,1136.5 1411.7,1136.6 1414.7,1136.7 1417.7,1136.8 1420.7,1136.9 1423.7,1137 1426.7,1137.1 1429.7,1137.3 1432.7,1137.4 1435.7,1137.5 1438.7,1137.6 1441.7,1137.7 1444.7,1137.8 1447.7,1137.9 1450.7,1138 1453.7,1138.1 1456.7,1138.2 1459.7,1138.3 1462.7,1138.4 1465.7,1138.6 1468.7,1138.7 1471.7,1138.8 1474.7,1138.9 1477.7,1139 1480.7,1139.1 1483.7,1139.2 1486.7,1139.3 1489.7,1139.4 1492.7,1139.5 1495.7,1139.6 1498.7,1139.8 1501.7,1139.9 1504.7,1140 1507.7,1140.1 1510.7,1140.2 1513.7,1140.3 1516.7,1140.4 1519.7,1140.5 1522.7,1140.6 1525.7,1140.7 1528.7,1140.8 1531.7,1140.9 1534.7,1141.1 1537.7,1141.2 1540.7,1141.3 1543.6,1141.4 1546.6,1141.5 1549.6,1141.6 1552.6,1141.7 1555.6,1141.8 1558.6,1141.9 1561.6,1142 1564.6,1142.1 1567.6,1142.3 1570.6,1142.4 1573.6,1142.5 1576.6,1142.6 1579.6,1142.7 1582.6,1142.8 1585.6,1142.9 1588.6,1143 1591.6,1143.1 1594.6,1143.2 1597.6,1143.3 1600.6,1143.4 1603.6,1143.6 1606.6,1143.7 1609.6,1143.8 1612.6,1143.9 1615.6,1144 1618.6,1144.1 1621.6,1144.2 1624.6,1144.3 1627.6,1144.4 1630.6,1144.5 1633.6,1144.6 1636.6,1144.8 1639.6,1144.9 1642.6,1145 1645.6,1145.1 1648.6,1145.2 1651.6,1145.3 1654.6,1145.4 1657.6,1145.5 1660.6,1145.6 1663.6,1145.7 1666.6,1145.8 1669.6,1145.9 1672.6,1146.1 1675.6,1146.2 1678.6,1146.3 1681.6,1146.4 1684.6,1146.5 1687.6,1146.6 1690.6,1146.7 1693.6,1146.8 1696.5,1146.9 1699.5,1147" fill="none" stroke="#1a1a1a" stroke-width="1.0" />
<path d="M473.9,518 473.9,521 473.9,524 473.9,527 473.9,530 473.9,533 473.9,536 473.9,539 473.9,542 473.9,545 473.9,548 473.9,551 473.9,554 473.9,557 473.9,560 473.9,563 473.9,566 473.9,569 473.9,572 473.9,575 473.9,578 473.9,581 473.9,584 473.9,587 473.9,590 473.9,593 473.9,596 473.9,599 473.9,602.1 473.9,605.1 474,608.1 474,611.1 474.1,614.2 474.1,617.2 474.2,620.2 474.3,623.2 474.3,626.1 474.4,629.1 474.4,632.1 474.4,635.1 474.5,638.1 474.5,641.1 474.6,644.1 474.6,647.2 474.7,650.2 474.8,653.3 474.9,656.3 475.1,659.4 475.3,662.5 475.5,665.6 475.8,668.7 476.2,671.8 476.5,674.9 477,678 477.5,681.2 478.1,684.2 478.7,687.3 479.4,690.4 480.1,693.4 480.9,696.4 481.7,699.4 482.5,702.4 483.4,705.3 484.3,708.3 485.2,711.2 486.1,714.1 487.1,717 488,719.9 489,722.7 490,725.6 491,728.4 491.9,731.3 492.9,734.1 493.9,736.9 494.9,739.8 495.9,742.6 496.8,745.4 497.8,748.3 498.8,751.2 499.8,754 500.8,756.8 501.9,759.7 502.9,762.5 503.9,765.4 505,768.2 506.1,771 507.1,773.9 508.2,776.7 509.3,779.5 510.4,782.4 511.5,785.2 512.7,788 513.8,790.8 515,793.6 516.2,796.4 517.4,799.2 518.6,802 519.9,804.8 521.1,807.6 522.5,810.4 523.8,813.2 525.2,816 526.6,818.7 528.1,821.4 529.5,824.1 531.1,826.8 532.6,829.5 534.2,832.2 535.8,834.8 537.4,837.4 539,840 540.6,842.5 542.2,845.1 543.9,847.7 545.6,850.2 547.3,852.7 549,855.3 550.8,857.8 552.6,860.3 554.3,862.7 556.1,865.2 557.9,867.7 559.7,870.1 561.6,872.5 563.4,874.9 565.3,877.4 567.1,879.8 569,882.1 570.9,884.5 572.8,886.9 574.7,889.3 576.7,891.6 578.7,894 580.7,896.3 582.7,898.6 584.6,900.9 586.7,903.1 588.7,905.4 590.7,907.6 592.7,909.9 594.7,912.1 596.6,914.3 598.6,916.6 600.6,918.8 602.6,921 604.5,923.3 606.4,925.5 608.4,927.8 610.3,930.1 612.2,932.3 614.2,934.6 616.1,936.9 618,939.2 620,941.5 621.9,943.8 623.9,946.1 625.8,948.4 627.8,950.7 629.8,953 631.8,955.3 633.9,957.6 635.9,959.9 638,962.1 640.2,964.4 642.3,966.6 644.5,968.8 646.7,970.9 648.9,973 651.1,975.2 653.4,977.3 655.6,979.3 657.9,981.4 660.2,983.4 662.5,985.4 664.8,987.4 667.2,989.3 669.5,991.3 671.8,993.2 674.1,995.1 676.4,997 678.7,999 681,1000.9 683.3,1002.8 685.7,1004.7 688,1006.7 690.3,1008.6 692.7,1010.5 695,1012.4 697.4,1014.3 699.7,1016.1 702.1,1018 704.5,1019.9 706.8,1021.8 709.2,1023.6 711.6,1025.5 714,1027.3 716.4,1029.2 718.8,1031 721.2,1032.9 723.6,1034.7 726,1036.5 728.4,1038.3 730.8,1040.1 733.2,1041.9 735.6,1043.7 738,1045.5 740.5,1047.3 742.9,1049.1 745.3,1050.9 747.8,1052.7 750.3,1054.4 752.7,1056.2 755.2,1058 757.7,1059.7 760.3,1061.4 762.8,1063.1 765.4,1064.8 767.9,1066.5 770.5,1068.1 773.2,1069.7 775.8,1071.3 778.5,1072.9 781.2,1074.4 783.8,1075.9 786.5,1077.4 789.3,1078.8 792,1080.3 794.7,1081.6 797.5,1083 800.2,1084.3 803,1085.6 805.8,1086.9 808.6,1088.2 811.4,1089.4 814.2,1090.7 817,1091.9 819.8,1093 822.6,1094.2 825.4,1095.3 828.3,1096.5 831.1,1097.6 834,1098.7 836.9,1099.7 839.8,1100.8 842.7,1101.8 845.6,1102.7 848.5,1103.7 851.4,1104.6 854.3,1105.5 857.2,1106.4 860.1,1107.3 863,1108.1 866,1109 868.9,1109.8 871.8,1110.6 874.7,1111.4 877.6,1112.2 880.5,1113 883.4,1113.8 886.3,1114.6 889.3,1115.4 892.2,1116.1 895.2,1116.9 898.1,1117.6 901.1,1118.3 904,1119 907,1119.7 910,1120.4 913,1121 916,1121.6 919,1122.2 922,1122.8 925,1123.4 928,1123.9 931.1,1124.4 934.1,1124.8 937.2,1125.2 940.2,1125.6 943.3,1126 946.3,1126.3 949.3,1126.6 952.4,1126.9 955.4,1127.2 958.5,1127.5 961.5,1127.7 964.5,1127.9 967.5,1128.1 970.5,1128.3 973.5,1128.5 976.5,1128.7 979.6,1128.9 982.6,1129.1 985.6,1129.2 988.6,1129.4 991.7,1129.5 994.7,1129.6 997.7,1129.8 1000.7,1129.9 1003.7,1130 1006.8,1130.1 1009.8,1130.1 1012.8,1130.2 1015.8,1130.3 1018.8,1130.4 1021.8,1130.5 1024.8,1130.6 1027.8,1130.6 1030.8,1130.7 1033.7,1130.8 1036.7,1130.9 1039.7,1131 1042.7,1131.1 1045.7,1131.2 1048.7,1131.3 1051.7,1131.4 1054.7,1131.5 1057.7,1131.6 1060.7,1131.7 1063.7,1131.8 1066.7,1131.9 1069.7,1132 1072.7,1132.1 1075.7,1132.1 1078.7,1132.2 1081.7,1132.3 1084.7,1132.4 1087.7,1132.5 1090.7,1132.6 1093.7,1132.7 1096.7,1132.8 1099.7,1132.9 1102.7,1133 1105.7,1133.1 1108.7,1133.2 1111.7,1133.3 1114.7,1133.4 1117.7,1133.5 1120.7,1133.7 1123.7,1133.8 1126.6,1133.9 1129.6,1134 1132.6,1134.1 1135.6,1134.2 1138.6,1134.3 1141.6,1134.4 1144.6,1134.5 1147.6,1134.6 1150.6,1134.7 1153.6,1134.8 1156.6,1135 1159.6,1135.1 1162.6,1135.2 1165.6,1135.3 1168.6,1135.4 1171.6,1135.5 1174.6,1135.6 1177.6,1135.7 1180.6,1135.8 1183.6,1135.9 1186.6,1136 1189.6,1136.2 1192.6,1136.3 1195.6,1136.4 1198.6,1136.5 1201.6,1136.6 1204.6,1136.7 1207.6,1136.8 1210.6,1136.9 1213.6,1137 1216.6,1137.1 1219.6,1137.2 1222.6,1137.3 1225.6,1137.5 1228.6,1137.6 1231.6,1137.7 1234.6,1137.8 1237.6,1137.9 1240.6,1138 1243.6,1138.1 1246.6,1138.2 1249.6,1138.3 1252.6,1138.4 1255.6,1138.5 1258.6,1138.7 1261.6,1138.8 1264.6,1138.9 1267.6,1139 1270.6,1139.1 1273.6,1139.2 1276.5,1139.3 1279.5,1139.4 1282.5,1139.5 1285.5,1139.6 1288.5,1139.7 1291.5,1139.8 1294.5,1140 1297.5,1140.1 1300.5,1140.2 1303.5,1140.3 1306.5,1140.4 1309.5,1140.5 1312.5,1140.6 1315.5,1140.7 1318.5,1140.8 1321.5,1140.9 1324.5,1141 1327.5,1141.2 1330.5,1141.3 1333.5,1141.4 1336.5,1141.5 1339.5,1141.6 1342.5,1141.7 1345.5,1141.8 1348.5,1141.9 1351.5,1142 1354.5,1142.1 1357.5,1142.2 1360.5,1142.3 1363.5,1142.5 1366.5,1142.6 1369.5,1142.7 1372.5,1142.8 1375.5,1142.9 1378.5,1143 1381.5,1143.1 1384.5,1143.2 1387.5,1143.3 1390.5,1143.4 1393.5,1143.5 1396.5,1143.7 1399.5,1143.8 1402.5,1143.9 1405.5,1144 1408.5,1144.1 1411.5,1144.2 1414.5,1144.3 1417.5,1144.4 1420.5,1144.5 1423.5,1144.6 1426.5,1144.7 1429.4,1144.8 1432.4,1145 1435.4,1145.1 1438.4,1145.2 1441.4,1145.3 1444.4,1145.4 1447.4,1145.5 1450.4,1145.6 1453.4,1145.7 1456.4,1145.8 1459.4,1145.9 1462.4,1146 1465.4,1146.2 1468.4,1146.3 1471.4,1146.4 1474.4,1146.5 1477.4,1146.6 1480.4,1146.7 1483.4,1146.8 1486.4,1146.9 1489.4,1147 1492.4,1147.1 1495.4,1147.2 1498.4,1147.3 1501.4,1147.5 1504.4,1147.6 1507.4,1147.7 1510.4,1147.8 1513.4,1147.9 1516.4,1148 1519.4,1148.1 1522.4,1148.2 1525.4,1148.3 1528.4,1148.4 1531.4,1148.5 1534.4,1148.7 1537.4,1148.8 1540.4,1148.9 1543.4,1149 1546.4,1149.1 1549.4,1149.2 1552.4,1149.3 1555.4,1149.4 1558.4,1149.5 1561.4,1149.6 1564.4,1149.7 1567.4,1149.8 1570.4,1150 1573.4,1150.1 1576.4,1150.2 1579.4,1150.3 1582.3,1150.4 1585.3,1150.5 1588.3,1150.6 1591.3,1150.7 1594.3,1150.8 1597.3,1150.9 1600.3,1151 1603.3,1151.2 1606.3,1151.3 1609.3,1151.4 1612.3,1151.5 1615.3,1151.6 1618.3,1151.7 1621.3,1151.8 1624.3,1151.9 1627.3,1152 1630.3,1152.1 1633.3,1152.2 1636.3,1152.3 1639.3,1152.5 1642.3,1152.6 1645.3,1152.7 1648.3,1152.8 1651.3,1152.9 1654.3,1153 1657.3,1153.1 1660.3,1153.2 1663.3,1153.3 1666.3,1153.4 1669.3,1153.5 1672.3,1153.7 1675.3,1153.8 1678.3,1153.9 1681.3,1154 1684.3,1154.1 1687.3,1154.2 1690.3,1154.3 1693.3,1154.4 1696.3,1154.5 1699.3,1154.6" fill="none" stroke="#111" stroke-width="1.8" />
<path d="M464.5,518 464.5,521 464.5,524 464.5,527 464.5,530 464.5,533 464.5,536 464.5,539 464.5,542 464.5,545 464.5,548 464.5,551 464.5,554 464.5,557 464.5,560 464.5,563 464.5,566 464.5,569 464.5,572 464.5,574.9 464.5,578 464.5,581 464.5,584 464.5,587 464.5,590 464.5,593 464.5,596.1 464.5,599.1 464.5,602.1 464.5,605.2 464.6,608.2 464.6,611.3 464.7,614.4 464.7,617.4 464.8,620.4 464.9,623.4 464.9,626.3 465,629.2 465,632.2 465.1,635.2 465.1,638.2 465.1,641.2 465.2,644.3 465.2,647.4 465.3,650.5 465.4,653.6 465.5,656.8 465.7,660 465.9,663.2 466.2,666.4 466.4,669.7 466.8,672.9 467,674.2 467,674.2 467.3,677 467.3,679.5 467.1,681.8 466.5,683.9 465.6,685.8 464.4,687.4 462.9,688.9 461.1,690.1 459,691.1 456.6,691.8 453.8,692.4 453.8,692.4 452.2,692.7 449.2,693.2 446.1,693.8 443,694.5 439.8,695.2 436.7,695.9 433.5,696.7 430.4,697.5 427.3,698.4 424.3,699.4 421.3,700.3 418.3,701.2 415.4,702.2 412.4,703.1 409.3,704.2 406.3,705.3 403.3,706.4 400.2,707.7 397.2,709 394,710.4 390.9,711.9 387.8,713.5 384.8,715.2 381.9,716.9 379.1,718.7 376.3,720.6 373.7,722.4 371.1,724.2 368.6,726.1 366.1,727.8 363.7,729.6 361.4,731.3 359,733 356.5,734.8 354,736.6 351.5,738.4 349,740.3 346.6,742.1 344.1,743.9 341.7,745.8 339.3,747.6 337,749.4 334.6,751.2 332.2,753 329.8,754.7 327.5,756.5 325,758.3 322.6,760.1 320.2,761.9 317.8,763.6 315.4,765.4 313,767.2 310.6,769 308.2,770.8 305.8,772.6 303.4,774.4 301,776.2 298.6,777.9 296.2,779.7 293.8,781.5 291.3,783.3 288.9,785.1 286.5,786.8 284.1,788.6 281.7,790.4 279.3,792.2 276.8,794 274.4,795.8" fill="none" stroke="#111" stroke-width="1.4" />
<path d="M300.1,815.3 302.5,813.6 304.9,811.8 307.4,810 309.8,808.2 312.2,806.4 314.6,804.6 317,802.8 319.4,801.1 321.8,799.3 324.3,797.5 326.7,795.7 329.1,793.9 331.5,792.1 333.9,790.3 336.3,788.5 338.7,786.7 341.1,785 343.5,783.2 346,781.4 348.4,779.6 350.8,777.7 353.2,775.9 355.6,774.1 358,772.3 360.4,770.5 362.8,768.7 365.2,766.9 367.5,765.1 369.9,763.4 372.2,761.7 374.6,760 377,758.2 379.5,756.5 382,754.7 384.4,752.9 386.8,751.1 389.2,749.4 391.5,747.8 393.7,746.2 396,744.7 398.2,743.3 400.4,742 402.7,740.7 404.9,739.5 407.2,738.4 409.5,737.4 412,736.3 414.5,735.3 417.1,734.4 419.7,733.4 422.3,732.5 425,731.6 427.8,730.7 430.5,729.9 433.3,729 436,728.2 438.7,727.4 441.3,726.7 444,726 446.7,725.4 449.4,724.8 452.2,724.2 452.5,724.2 452.5,724.2 457.1,723.7 461.3,723.7 465.3,724.1 468.9,725.1 472.3,726.5 475.4,728.4 478.3,730.7 480.8,733.5 483,736.8 485,740.6 486.7,744.8 486.7,744.8 487,745.7 488,748.5 488.9,751.4 490,754.3 491,757.1 492,760 493,762.9 494.1,765.8 495.1,768.6 496.2,771.5 497.3,774.3 498.3,777.2 499.4,780.1 500.5,782.9 501.7,785.8 502.8,788.7 503.9,791.5 505.1,794.4 506.3,797.3 507.5,800.1 508.7,803 510,805.9 511.3,808.7 512.6,811.6 514,814.5 515.4,817.3 516.8,820.2 518.3,823 519.8,825.9 521.3,828.7 522.9,831.5 524.5,834.2 526.1,837 527.7,839.7 529.4,842.3 531,845 532.7,847.6 534.3,850.2 536,852.8 537.8,855.4 539.5,858 541.3,860.6 543.1,863.2 544.9,865.7 546.7,868.3 548.5,870.8 550.4,873.3 552.2,875.7 554.1,878.2 556,880.7 557.8,883.1 559.7,885.5 561.6,887.9 563.5,890.4 565.5,892.8 567.5,895.3 569.5,897.7 571.5,900.1 573.5,902.4 575.6,904.8 577.6,907.1 579.6,909.4 581.6,911.6 583.6,913.9 585.7,916.1 587.6,918.4 589.6,920.6 591.6,922.8 593.6,925 595.5,927.2 597.4,929.4 599.3,931.6 601.2,933.9 603.1,936.1 605,938.4 607,940.7 608.9,943 610.8,945.3 612.8,947.6 614.7,949.9 616.7,952.2 618.7,954.5 620.7,956.9 622.7,959.2 624.8,961.5 626.9,963.9 629,966.2 631.2,968.5 633.4,970.9 635.6,973.1 637.8,975.4 640.1,977.6 642.4,979.8 644.7,982 647,984.2 649.3,986.3 651.7,988.4 654.1,990.5 656.4,992.5 658.8,994.5 661.1,996.5 663.4,998.4 665.7,1000.4 668,1002.3 670.4,1004.3 672.7,1006.2 675,1008.1 677.4,1010.1 679.7,1012 682.1,1013.9 684.4,1015.9 686.8,1017.8 689.1,1019.7 691.5,1021.6 693.9,1023.5 696.2,1025.4 698.6,1027.3 701,1029.2 703.4,1031 705.8,1032.9 708.2,1034.8 710.6,1036.6 713.1,1038.5 715.5,1040.4 717.9,1042.2 720.4,1044 722.8,1045.8 725.2,1047.6 727.6,1049.4 730,1051.2 732.4,1053 734.9,1054.9 737.3,1056.7 739.8,1058.5 742.3,1060.3 744.8,1062.1 747.3,1063.9 749.8,1065.7 752.4,1067.4 755,1069.2 757.6,1070.9 760.2,1072.7 762.9,1074.4 765.6,1076.1 768.3,1077.8 771,1079.4 773.8,1081 776.5,1082.6 779.3,1084.2 782.1,1085.7 784.9,1087.2 787.7,1088.6 790.5,1090 793.3,1091.4 796.2,1092.8 799,1094.2 801.9,1095.5 804.7,1096.8 807.6,1098 810.4,1099.3 813.3,1100.5 816.2,1101.7 819,1102.9 821.9,1104.1 824.8,1105.2 827.8,1106.4 830.7,1107.5 833.7,1108.6 836.7,1109.6 839.6,1110.7 842.6,1111.7 845.6,1112.6 848.6,1113.6 851.5,1114.5 854.5,1115.4 857.5,1116.3 860.4,1117.2 863.4,1118 866.3,1118.8 869.3,1119.7 872.2,1120.5 875.1,1121.3 878,1122.1 881,1122.9 883.9,1123.7 886.9,1124.5 889.9,1125.2 892.9,1126 895.9,1126.7 898.9,1127.5 901.9,1128.2 904.9,1128.9 908,1129.6 911,1130.2 914.1,1130.8 917.2,1131.5 920.3,1132.1 923.4,1132.6 926.5,1133.1 929.6,1133.6 932.8,1134.1 935.9,1134.6 939,1135 942.2,1135.3 945.3,1135.7 948.4,1136 951.5,1136.3 954.6,1136.6 957.7,1136.8 960.8,1137.1 963.8,1137.3 966.9,1137.5 969.9,1137.7 972.9,1137.9 975.9,1138.1 979,1138.3 982,1138.4 985.1,1138.6 988.2,1138.8 991.3,1138.9 994.3,1139 997.4,1139.1 1000.4,1139.3 1003.4,1139.4 1006.5,1139.4 1009.5,1139.5 1012.5,1139.6 1015.5,1139.7 1018.5,1139.8 1021.5,1139.9 1024.5,1140 1027.5,1140 1030.5,1140.1 1033.5,1140.2 1036.4,1140.3 1039.4,1140.4 1042.4,1140.5 1045.4,1140.6 1048.4,1140.7 1051.4,1140.8 1054.4,1140.9 1057.4,1141 1060.4,1141.1 1063.4,1141.2 1066.4,1141.3 1069.4,1141.4 1072.4,1141.4 1075.4,1141.5 1078.4,1141.6 1081.4,1141.7 1084.4,1141.8 1087.4,1141.9 1090.4,1142 1093.4,1142.1 1096.4,1142.2 1099.4,1142.3 1102.3,1142.4 1105.3,1142.5 1108.3,1142.6 1111.3,1142.7 1114.3,1142.8 1117.3,1142.9 1120.3,1143 1123.3,1143.2 1126.3,1143.3 1129.3,1143.4 1132.3,1143.5 1135.3,1143.6 1138.3,1143.7 1141.3,1143.8 1144.3,1143.9 1147.3,1144 1150.3,1144.1 1153.3,1144.2 1156.3,1144.4 1159.3,1144.5 1162.3,1144.6 1165.3,1144.7 1168.3,1144.8 1171.3,1144.9 1174.3,1145 1177.3,1145.1 1180.3,1145.2 1183.3,1145.3 1186.3,1145.4 1189.3,1145.5 1192.3,1145.7 1195.3,1145.8 1198.3,1145.9 1201.3,1146 1204.3,1146.1 1207.3,1146.2 1210.3,1146.3 1213.3,1146.4 1216.2,1146.5 1219.2,1146.6 1222.2,1146.7 1225.2,1146.9 1228.2,1147 1231.2,1147.1 1234.2,1147.2 1237.2,1147.3 1240.2,1147.4 1243.2,1147.5 1246.2,1147.6 1249.2,1147.7 1252.2,1147.8 1255.2,1147.9 1258.2,1148 1261.2,1148.2 1264.2,1148.3 1267.2,1148.4 1270.2,1148.5 1273.2,1148.6 1276.2,1148.7 1279.2,1148.8 1282.2,1148.9 1285.2,1149 1288.2,1149.1 1291.2,1149.2 1294.2,1149.4 1297.2,1149.5 1300.2,1149.6 1303.2,1149.7 1306.2,1149.8 1309.2,1149.9 1312.2,1150 1315.2,1150.1 1318.2,1150.2 1321.2,1150.3 1324.2,1150.4 1327.2,1150.5 1330.2,1150.7 1333.2,1150.8 1336.2,1150.9 1339.2,1151 1342.2,1151.1 1345.2,1151.2 1348.2,1151.3 1351.2,1151.4 1354.2,1151.5 1357.2,1151.6 1360.2,1151.7 1363.2,1151.9 1366.2,1152 1369.1,1152.1 1372.1,1152.2 1375.1,1152.3 1378.1,1152.4 1381.1,1152.5 1384.1,1152.6 1387.1,1152.7 1390.1,1152.8 1393.1,1152.9 1396.1,1153 1399.1,1153.2 1402.1,1153.3 1405.1,1153.4 1408.1,1153.5 1411.1,1153.6 1414.1,1153.7 1417.1,1153.8 1420.1,1153.9 1423.1,1154 1426.1,1154.1 1429.1,1154.2 1432.1,1154.4 1435.1,1154.5 1438.1,1154.6 1441.1,1154.7 1444.1,1154.8 1447.1,1154.9 1450.1,1155 1453.1,1155.1 1456.1,1155.2 1459.1,1155.3 1462.1,1155.4 1465.1,1155.5 1468.1,1155.7 1471.1,1155.8 1474.1,1155.9 1477.1,1156 1480.1,1156.1 1483.1,1156.2 1486.1,1156.3 1489.1,1156.4 1492.1,1156.5 1495.1,1156.6 1498.1,1156.7 1501.1,1156.8 1504.1,1157 1507.1,1157.1 1510.1,1157.2 1513.1,1157.3 1516.1,1157.4 1519,1157.5 1522,1157.6 1525,1157.7 1528,1157.8 1531,1157.9 1534,1158 1537,1158.2 1540,1158.3 1543,1158.4 1546,1158.5 1549,1158.6 1552,1158.7 1555,1158.8 1558,1158.9 1561,1159 1564,1159.1 1567,1159.2 1570,1159.3 1573,1159.5 1576,1159.6 1579,1159.7 1582,1159.8 1585,1159.9 1588,1160 1591,1160.1 1594,1160.2 1597,1160.3 1600,1160.4 1603,1160.5 1606,1160.7 1609,1160.8 1612,1160.9 1615,1161 1618,1161.1 1621,1161.2 1624,1161.3 1627,1161.4 1630,1161.5 1633,1161.6 1636,1161.7 1639,1161.8 1642,1162 1645,1162.1 1648,1162.2 1651,1162.3 1654,1162.4 1657,1162.5 1660,1162.6 1663,1162.7 1666,1162.8 1669,1162.9 1671.9,1163" fill="none" stroke="#111" stroke-width="1.4" />
<path d="M454.8,560 454.8,563 454.8,566 454.8,569 454.8,571.9 454.8,574.9 454.8,577.9 454.8,580.9 454.8,583.9 454.8,587 454.8,590 454.8,593 454.8,596.1 454.8,599.1 454.8,602.2 454.8,605.3 454.9,608.4 454.9,611.5 455,614.6 455,617.7 455.1,620.6 455.2,623.6 455.2,626.5 455.3,629.4 455.3,632.3 455.4,635.3 455.4,638.3 455.4,641.4 455.5,644.5 455.5,647.6 455.6,650.8 455.7,654 455.8,657.2 456,660.5 456.2,663.9 456.5,667.2 456.7,669.1 456.7,669.1 456.9,671.5 456.8,673.7 456.5,675.8 455.9,677.6 455.1,679.3 454,680.8 452.6,682.1 451,683.2 449.2,684.2 447,684.9 444.7,685.5 444.7,685.5 444.4,685.5 441.2,686.2 437.9,686.9 434.7,687.6 431.4,688.5 428.1,689.4 424.9,690.3 421.8,691.2 418.8,692.1 415.8,693.1 412.7,694.1 409.6,695.1 406.5,696.2 403.3,697.3 400.2,698.5 397,699.8 393.8,701.2 390.4,702.6 387.1,704.3 383.8,706 380.5,707.8 377.4,709.7 374.4,711.6 371.6,713.5 368.8,715.5 366.1,717.3 363.6,719.2 361.1,721 358.7,722.7 356.4,724.4 354,726.1 351.5,727.9 349,729.8 346.4,731.6 344,733.5 341.5,735.3 339,737.1 336.6,739 334.2,740.8 331.8,742.6 329.5,744.4 327.1,746.2 324.8,747.9 322.4,749.7 320,751.5 317.6,753.3 315.2,755 312.8,756.8 310.4,758.6 307.9,760.4 305.5,762.2 303.1,764 300.7,765.8 298.3,767.5 295.9,769.3 293.5,771.1 291.1,772.9 288.7,774.7 286.3,776.4 283.9,778.2 281.5,780 279,781.8 276.6,783.6 274.2,785.4" fill="none" stroke="#222" stroke-width="0.9" />
<path d="M300.4,825.7 302.8,823.9 305.2,822.2 307.6,820.4 310,818.6 312.4,816.8 314.8,815 317.2,813.3 319.7,811.5 322.1,809.7 324.5,807.9 326.9,806.1 329.3,804.3 331.7,802.5 334.1,800.7 336.6,798.9 339,797.2 341.4,795.4 343.8,793.6 346.2,791.8 348.6,790 351,788.2 353.5,786.4 355.9,784.5 358.4,782.7 360.8,780.9 363.2,779.1 365.6,777.3 367.9,775.5 370.3,773.7 372.6,772 374.9,770.2 377.2,768.5 379.6,766.9 381.9,765.2 384.5,763.4 387,761.5 389.4,759.7 391.8,758 394.1,756.3 396.4,754.7 398.5,753.3 400.6,751.9 402.7,750.5 404.7,749.3 406.7,748.2 408.7,747.1 410.8,746.1 412.9,745.2 415.2,744.2 417.6,743.3 420,742.3 422.5,741.4 425.1,740.6 427.7,739.7 430.3,738.8 433,738 435.8,737.1 438.4,736.3 441,735.6 443.5,734.9 446,734.3 448.6,733.7 451.2,733.1 453.9,732.6 455.4,732.3 455.4,732.3 458.2,731.9 460.8,731.9 463.2,732.1 465.5,732.7 467.5,733.5 469.4,734.6 471.2,736.1 472.7,737.8 474.1,739.8 475.3,742.1 476.4,744.7 476.4,744.7 476.8,746 477.8,748.8 478.8,751.7 479.8,754.6 480.8,757.5 481.8,760.4 482.9,763.3 483.9,766.2 485,769.1 486,772 487.1,774.9 488.2,777.8 489.3,780.7 490.4,783.6 491.5,786.5 492.6,789.4 493.8,792.3 495,795.2 496.1,798.1 497.3,801 498.6,803.9 499.9,806.9 501.2,809.8 502.5,812.8 503.8,815.7 505.2,818.7 506.7,821.6 508.2,824.6 509.7,827.5 511.2,830.5 512.9,833.4 514.5,836.3 516.1,839.1 517.8,842 519.5,844.7 521.1,847.4 522.8,850.1 524.5,852.8 526.2,855.4 527.9,858.1 529.7,860.8 531.5,863.5 533.3,866.1 535.1,868.7 537,871.4 538.9,873.9 540.7,876.5 542.6,879 544.5,881.5 546.4,884.1 548.3,886.6 550.2,889 552.1,891.5 554,893.9 556,896.4 558,898.9 560,901.4 562.1,903.9 564.1,906.3 566.2,908.8 568.3,911.1 570.3,913.5 572.4,915.8 574.4,918.1 576.4,920.4 578.4,922.6 580.4,924.8 582.4,927 584.3,929.3 586.3,931.4 588.2,933.6 590.1,935.8 592,938 593.8,940.2 595.7,942.4 597.6,944.6 599.5,946.9 601.5,949.2 603.4,951.5 605.4,953.8 607.3,956.2 609.3,958.5 611.3,960.9 613.4,963.2 615.4,965.6 617.5,968 619.7,970.4 621.9,972.8 624.1,975.2 626.4,977.6 628.6,979.9 631,982.3 633.3,984.6 635.6,986.8 638.1,989.1 640.5,991.4 642.8,993.5 645.3,995.7 647.7,997.8 650.1,999.9 652.5,1001.9 654.8,1003.9 657.2,1005.9 659.5,1007.8 661.8,1009.8 664.1,1011.7 666.5,1013.6 668.8,1015.6 671.2,1017.6 673.5,1019.5 675.9,1021.4 678.3,1023.4 680.7,1025.3 683,1027.2 685.4,1029.1 687.8,1031.1 690.2,1033 692.6,1034.9 695,1036.8 697.4,1038.7 699.9,1040.6 702.3,1042.5 704.7,1044.3 707.2,1046.2 709.6,1048.1 712.1,1049.9 714.5,1051.8 717,1053.6 719.4,1055.4 721.8,1057.2 724.2,1059 726.7,1060.8 729.1,1062.7 731.6,1064.5 734.1,1066.3 736.6,1068.1 739.1,1070 741.7,1071.8 744.3,1073.6 746.9,1075.4 749.5,1077.2 752.2,1079 754.9,1080.8 757.6,1082.6 760.4,1084.3 763.2,1086.1 766.1,1087.8 768.9,1089.4 771.8,1091.1 774.6,1092.7 777.5,1094.2 780.4,1095.8 783.3,1097.3 786.2,1098.7 789.1,1100.2 792,1101.6 794.9,1102.9 797.8,1104.3 800.7,1105.6 803.7,1106.9 806.6,1108.2 809.5,1109.4 812.4,1110.7 815.3,1111.9 818.3,1113.1 821.3,1114.2 824.3,1115.4 827.3,1116.6 830.4,1117.7 833.5,1118.8 836.5,1119.8 839.6,1120.9 842.6,1121.9 845.7,1122.8 848.7,1123.8 851.7,1124.7 854.7,1125.6 857.7,1126.5 860.7,1127.3 863.7,1128.2 866.6,1129 869.6,1129.8 872.5,1130.6 875.5,1131.4 878.5,1132.3 881.5,1133 884.4,1133.8 887.5,1134.6 890.5,1135.4 893.5,1136.2 896.6,1136.9 899.7,1137.6 902.8,1138.3 905.9,1139 909,1139.7 912.2,1140.4 915.3,1141 918.5,1141.6 921.7,1142.2 924.9,1142.7 928.1,1143.2 931.4,1143.7 934.6,1144.2 937.8,1144.6 941.1,1145 944.3,1145.3 947.5,1145.7 950.7,1146 953.8,1146.2 956.9,1146.5 960.1,1146.7 963.2,1147 966.2,1147.2 969.3,1147.4 972.3,1147.6 975.3,1147.8 978.4,1148 981.5,1148.1 984.6,1148.3 987.7,1148.5 990.8,1148.6 993.9,1148.7 997,1148.8 1000.1,1148.9 1003.1,1149.1 1006.2,1149.1 1009.2,1149.2 1012.2,1149.3 1015.2,1149.4 1018.3,1149.5 1021.3,1149.6 1024.3,1149.6 1027.2,1149.7 1030.2,1149.8 1033.2,1149.9 1036.1,1150 1039.1,1150.1 1042.1,1150.2 1045.1,1150.3 1048.1,1150.4 1051.1,1150.5 1054.1,1150.6 1057.1,1150.7 1060.1,1150.8 1063.1,1150.9 1066.1,1151 1069.1,1151 1072.1,1151.1 1075.1,1151.2 1078.1,1151.3 1081.1,1151.4 1084.1,1151.5 1087.1,1151.6 1090.1,1151.7 1093.1,1151.8 1096.1,1151.9 1099,1152 1102,1152.1 1105,1152.2 1108,1152.3 1111,1152.4 1114,1152.5 1117,1152.6 1120,1152.7 1123,1152.8 1126,1153 1129,1153.1 1132,1153.2 1135,1153.3 1137.9,1153.4 1140.9,1153.5 1143.9,1153.6 1146.9,1153.7 1149.9,1153.8 1152.9,1153.9 1155.9,1154 1158.9,1154.2 1161.9,1154.3 1164.9,1154.4 1167.9,1154.5 1170.9,1154.6 1173.9,1154.7 1176.9,1154.8 1179.9,1154.9 1182.9,1155 1185.9,1155.1 1188.9,1155.2 1191.9,1155.3 1194.9,1155.5 1197.9,1155.6 1200.9,1155.7 1203.9,1155.8 1206.9,1155.9 1209.9,1156 1212.9,1156.1 1215.9,1156.2 1218.9,1156.3 1221.9,1156.4 1224.9,1156.5 1227.9,1156.7 1230.9,1156.8 1233.9,1156.9 1236.9,1157 1239.9,1157.1 1242.9,1157.2 1245.9,1157.3 1248.9,1157.4 1251.9,1157.5 1254.9,1157.6 1257.9,1157.7 1260.9,1157.8 1263.9,1158 1266.9,1158.1 1269.9,1158.2 1272.9,1158.3 1275.9,1158.4 1278.9,1158.5 1281.9,1158.6 1284.9,1158.7 1287.9,1158.8 1290.8,1158.9 1293.8,1159 1296.8,1159.2 1299.8,1159.3 1302.8,1159.4 1305.8,1159.5 1308.8,1159.6 1311.8,1159.7 1314.8,1159.8 1317.8,1159.9 1320.8,1160 1323.8,1160.1 1326.8,1160.2 1329.8,1160.3 1332.8,1160.5 1335.8,1160.6 1338.8,1160.7 1341.8,1160.8 1344.8,1160.9 1347.8,1161 1350.8,1161.1 1353.8,1161.2 1356.8,1161.3 1359.8,1161.4 1362.8,1161.5 1365.8,1161.7 1368.8,1161.8 1371.8,1161.9 1374.8,1162 1377.8,1162.1 1380.8,1162.2 1383.8,1162.3 1386.8,1162.4 1389.8,1162.5 1392.8,1162.6 1395.8,1162.7 1398.8,1162.8 1401.8,1163 1404.8,1163.1 1407.8,1163.2 1410.8,1163.3 1413.8,1163.4 1416.8,1163.5 1419.8,1163.6 1422.8,1163.7 1425.8,1163.8 1428.8,1163.9 1431.8,1164 1434.8,1164.2 1437.8,1164.3 1440.7,1164.4 1443.7,1164.5 1446.7,1164.6 1449.7,1164.7 1452.7,1164.8 1455.7,1164.9 1458.7,1165 1461.7,1165.1 1464.7,1165.2 1467.7,1165.3 1470.7,1165.5 1473.7,1165.6 1476.7,1165.7 1479.7,1165.8 1482.7,1165.9 1485.7,1166 1488.7,1166.1 1491.7,1166.2 1494.7,1166.3 1497.7,1166.4 1500.7,1166.5 1503.7,1166.7 1506.7,1166.8 1509.7,1166.9 1512.7,1167 1515.7,1167.1 1518.7,1167.2 1521.7,1167.3 1524.7,1167.4 1527.7,1167.5 1530.7,1167.6 1533.7,1167.7 1536.7,1167.8 1539.7,1168 1542.7,1168.1 1545.7,1168.2 1548.7,1168.3 1551.7,1168.4 1554.7,1168.5 1557.7,1168.6 1560.7,1168.7 1563.7,1168.8 1566.7,1168.9 1569.7,1169 1572.7,1169.2 1575.7,1169.3 1578.7,1169.4 1581.7,1169.5 1584.7,1169.6 1587.7,1169.7 1590.7,1169.8 1593.6,1169.9 1596.6,1170 1599.6,1170.1 1602.6,1170.2 1605.6,1170.3 1608.6,1170.5 1611.6,1170.6 1614.6,1170.7 1617.6,1170.8 1620.6,1170.9 1623.6,1171 1626.6,1171.1 1629.6,1171.2 1632.6,1171.3 1635.6,1171.4 1638.6,1171.5 1641.6,1171.7 1644.6,1171.8 1647.6,1171.9 1650.6,1172 1653.6,1172.1 1656.6,1172.2 1659.6,1172.3 1662.6,1172.4 1665.6,1172.5 1668.6,1172.6 1671.6,1172.7 1674.6,1172.8 1677.6,1173 1680.6,1173.1 1683.6,1173.2" fill="none" stroke="#222" stroke-width="0.9" />
<path d="M445,560.1 445,563 445,566 445,568.9 445,571.9 445,574.9 445,577.9 445,580.9 445,583.9 445,586.9 445,590 445,593 445,596.1 445,599.2 445,602.3 445,605.4 445.1,608.5 445.1,611.6 445.2,614.8 445.2,617.9 445.3,620.9 445.4,623.8 445.4,626.7 445.5,629.5 445.5,632.4 445.6,635.4 445.6,638.4 445.6,641.5 445.7,644.6 445.7,647.8 445.8,651.1 445.9,654.3 446.1,657.7 446.2,661.1 446.4,663.8 446.4,663.8 446.5,665.9 446.4,667.8 446.1,669.6 445.5,671.2 444.8,672.7 443.8,674 442.6,675.1 441.2,676.1 439.6,677 437.8,677.6 435.8,678.1 435.8,678.1 432.6,678.9 429.1,679.8 425.7,680.7 422.3,681.7 419.2,682.6 416.1,683.6 413,684.5 409.9,685.5 406.8,686.6 403.5,687.7 400.2,688.9 396.9,690.1 393.6,691.5 390.2,692.9 386.6,694.5 383,696.3 379.5,698.1 376,700.1 372.7,702.1 369.5,704.1 366.5,706.1 363.6,708.1 360.9,710 358.3,711.9 355.8,713.7 353.4,715.5 351.1,717.1 348.8,718.8 346.3,720.6 343.7,722.5 341.1,724.4 338.6,726.2 336.1,728.1 333.6,730 331.2,731.8 328.8,733.6 326.4,735.4 324,737.2 321.7,739 319.4,740.7 317,742.5 314.6,744.2 312.2,746 309.8,747.8 307.4,749.6 305,751.4 302.6,753.2 300.2,755 297.8,756.7 295.4,758.5 293,760.3 290.5,762.1 288.1,763.9 285.7,765.7 283.4,767.4 280.9,769.2 278.5,771 276.1,772.8 273.7,774.6" fill="none" stroke="#222" stroke-width="0.9" />
<path d="M301.1,836.5 303.4,834.7 305.8,832.9 308.2,831.2 310.5,829.4 312.9,827.6 315.3,825.9 317.8,824.1 320.2,822.3 322.6,820.5 325,818.7 327.4,816.9 329.9,815.1 332.3,813.3 334.7,811.5 337.1,809.7 339.5,808 341.9,806.2 344.3,804.4 346.7,802.6 349.2,800.8 351.6,799 354,797.2 356.4,795.4 358.8,793.6 361.3,791.7 363.8,789.9 366.2,788.1 368.6,786.2 371,784.4 373.3,782.7 375.7,780.9 378,779.2 380.3,777.5 382.5,775.8 384.8,774.2 387.2,772.5 389.7,770.7 392.3,768.8 394.7,767 397.1,765.3 399.4,763.7 401.5,762.1 403.6,760.7 405.5,759.4 407.4,758.2 409.3,757.1 411,756.1 412.8,755.2 414.6,754.3 416.5,753.4 418.6,752.5 420.9,751.6 423.2,750.8 425.5,749.9 427.9,749.1 430.5,748.2 433.1,747.4 435.7,746.6 438.4,745.7 441,745 443.4,744.3 445.7,743.6 448.1,743 450.6,742.5 453.1,741.9 454.5,741.6 454.5,741.6 456.2,741.4 457.8,741.3 459.3,741.4 460.7,741.8 462,742.3 463.2,743 464.3,743.8 465.3,744.9 466.2,746.1 466.9,747.6 467.6,749.2 467.6,749.2 468.5,752 469.5,754.9 470.5,757.8 471.6,760.7 472.6,763.7 473.6,766.6 474.7,769.5 475.8,772.4 476.8,775.3 477.9,778.3 479,781.2 480.1,784.1 481.2,787.1 482.4,790 483.5,792.9 484.7,795.9 485.9,798.8 487.1,801.8 488.3,804.8 489.6,807.8 490.9,810.8 492.2,813.8 493.6,816.8 495,819.9 496.4,822.9 497.9,826 499.4,829.1 501,832.1 502.6,835.1 504.3,838.2 506,841.2 507.6,844.1 509.4,847 511.1,849.9 512.8,852.6 514.5,855.3 516.2,858 517.9,860.7 519.7,863.5 521.6,866.3 523.4,869 525.3,871.7 527.1,874.4 529,877 530.9,879.7 532.8,882.3 534.7,884.9 536.6,887.4 538.5,890 540.5,892.5 542.4,895 544.4,897.5 546.3,900 548.3,902.6 550.4,905.1 552.4,907.7 554.6,910.2 556.7,912.7 558.8,915.2 560.9,917.6 562.9,919.9 565,922.3 567.1,924.6 569.1,926.9 571.1,929.1 573.1,931.4 575.1,933.6 577,935.8 578.9,937.9 580.8,940.1 582.7,942.2 584.5,944.3 586.4,946.5 588.3,948.7 590.1,951 592,953.2 594,955.5 595.9,957.8 597.9,960.1 599.9,962.5 601.9,964.9 603.9,967.2 606,969.6 608.1,972.1 610.2,974.5 612.4,976.9 614.7,979.4 616.9,981.9 619.3,984.4 621.6,986.8 624.1,989.2 626.5,991.6 628.9,993.9 631.4,996.3 633.9,998.6 636.3,1000.8 638.8,1003 641.3,1005.2 643.7,1007.3 646.1,1009.4 648.5,1011.4 650.9,1013.4 653.2,1015.3 655.5,1017.3 657.8,1019.2 660.2,1021.2 662.6,1023.2 664.9,1025.1 667.3,1027.1 669.7,1029 672.1,1031 674.5,1032.9 676.9,1034.9 679.3,1036.8 681.7,1038.7 684.1,1040.6 686.5,1042.6 689,1044.5 691.4,1046.4 693.8,1048.3 696.3,1050.2 698.8,1052.1 701.2,1054 703.7,1055.9 706.2,1057.8 708.7,1059.6 711.1,1061.4 713.5,1063.2 715.9,1065 718.4,1066.9 720.8,1068.7 723.3,1070.5 725.8,1072.4 728.3,1074.2 730.9,1076.1 733.4,1077.9 736,1079.8 738.7,1081.6 741.3,1083.5 744,1085.3 746.8,1087.2 749.5,1089 752.4,1090.8 755.2,1092.6 758.1,1094.4 761.1,1096.2 764,1097.9 767,1099.6 769.9,1101.2 772.9,1102.9 775.9,1104.4 778.8,1106 781.8,1107.5 784.8,1109 787.8,1110.4 790.8,1111.8 793.8,1113.2 796.7,1114.6 799.7,1115.9 802.7,1117.2 805.7,1118.5 808.7,1119.7 811.6,1120.9 814.6,1122.2 817.7,1123.4 820.8,1124.6 823.9,1125.8 827.1,1126.9 830.2,1128 833.4,1129.1 836.5,1130.2 839.6,1131.2 842.7,1132.2 845.8,1133.1 848.9,1134.1 851.9,1135 855,1135.9 858,1136.8 861,1137.6 864,1138.4 867,1139.3 869.9,1140.1 872.9,1140.9 875.9,1141.7 878.9,1142.5 882,1143.3 885,1144.1 888.1,1144.9 891.2,1145.7 894.3,1146.4 897.4,1147.2 900.6,1147.9 903.8,1148.6 907,1149.3 910.2,1150 913.4,1150.6 916.7,1151.2 920,1151.8 923.3,1152.4 926.6,1152.9 930,1153.4 933.4,1153.9 936.6,1154.3 940,1154.7 943.2,1155.1 946.5,1155.4 949.8,1155.7 953,1156 956.2,1156.3 959.3,1156.5 962.5,1156.7 965.6,1156.9 968.6,1157.1 971.7,1157.3 974.7,1157.5 977.8,1157.7 980.9,1157.9 984.1,1158.1 987.3,1158.2 990.4,1158.4 993.5,1158.5 996.6,1158.6 999.7,1158.7 1002.8,1158.8 1005.9,1158.9 1008.9,1159 1012,1159.1 1015,1159.2 1018,1159.3 1021,1159.4 1024,1159.4 1027,1159.5 1029.9,1159.6 1032.9,1159.7 1035.8,1159.8 1038.8,1159.9 1041.8,1160 1044.8,1160.1 1047.8,1160.2 1050.8,1160.3 1053.8,1160.4 1056.8,1160.5 1059.8,1160.6 1062.8,1160.7 1065.8,1160.7 1068.8,1160.8 1071.8,1160.9 1074.8,1161 1077.8,1161.1 1080.8,1161.2 1083.8,1161.3 1086.8,1161.4 1089.8,1161.5 1092.8,1161.6 1095.8,1161.7 1098.7,1161.8 1101.6,1161.9 1104.6,1162 1107.6,1162.1 1110.6,1162.2 1113.6,1162.3 1116.6,1162.4 1119.6,1162.5 1122.6,1162.6 1125.6,1162.8 1128.6,1162.9 1131.6,1163 1134.6,1163.1 1137.6,1163.2 1140.6,1163.3 1143.6,1163.4 1146.6,1163.5 1149.6,1163.6 1152.6,1163.7 1155.6,1163.8 1158.6,1163.9 1161.6,1164.1 1164.6,1164.2 1167.6,1164.3 1170.6,1164.4 1173.6,1164.5 1176.6,1164.6 1179.6,1164.7 1182.6,1164.8 1185.6,1164.9 1188.6,1165 1191.6,1165.1 1194.6,1165.3 1197.6,1165.4 1200.6,1165.5 1203.6,1165.6 1206.5,1165.7 1209.5,1165.8 1212.5,1165.9 1215.5,1166 1218.5,1166.1 1221.5,1166.2 1224.5,1166.3 1227.5,1166.4 1230.5,1166.6 1233.5,1166.7 1236.5,1166.8 1239.5,1166.9 1242.5,1167 1245.5,1167.1 1248.5,1167.2 1251.5,1167.3 1254.5,1167.4 1257.5,1167.5 1260.5,1167.6 1263.5,1167.8 1266.5,1167.9 1269.5,1168 1272.5,1168.1 1275.5,1168.2 1278.5,1168.3 1281.5,1168.4 1284.5,1168.5 1287.5,1168.6 1290.5,1168.7 1293.5,1168.8 1296.5,1168.9 1299.5,1169.1 1302.5,1169.2 1305.5,1169.3 1308.5,1169.4 1311.5,1169.5 1314.5,1169.6 1317.5,1169.7 1320.5,1169.8 1323.5,1169.9 1326.5,1170 1329.5,1170.1 1332.5,1170.3 1335.5,1170.4 1338.5,1170.5 1341.5,1170.6 1344.5,1170.7 1347.5,1170.8 1350.5,1170.9 1353.5,1171 1356.4,1171.1 1359.4,1171.2 1362.4,1171.3 1365.4,1171.4 1368.4,1171.6 1371.4,1171.7 1374.4,1171.8 1377.4,1171.9 1380.4,1172 1383.4,1172.1 1386.4,1172.2 1389.4,1172.3 1392.4,1172.4 1395.4,1172.5 1398.4,1172.6 1401.4,1172.8 1404.4,1172.9 1407.4,1173 1410.4,1173.1 1413.4,1173.2 1416.4,1173.3 1419.4,1173.4 1422.4,1173.5 1425.4,1173.6 1428.4,1173.7 1431.4,1173.8 1434.4,1173.9 1437.4,1174.1 1440.4,1174.2 1443.4,1174.3 1446.4,1174.4 1449.4,1174.5 1452.4,1174.6 1455.4,1174.7 1458.4,1174.8 1461.4,1174.9 1464.4,1175 1467.4,1175.1 1470.4,1175.3 1473.4,1175.4 1476.4,1175.5 1479.4,1175.6 1482.4,1175.7 1485.4,1175.8 1488.4,1175.9 1491.4,1176 1494.4,1176.1 1497.4,1176.2 1500.4,1176.3 1503.4,1176.4 1506.4,1176.6 1509.3,1176.7 1512.3,1176.8 1515.3,1176.9 1518.3,1177 1521.3,1177.1 1524.3,1177.2 1527.3,1177.3 1530.3,1177.4 1533.3,1177.5 1536.3,1177.6 1539.3,1177.7 1542.3,1177.9 1545.3,1178 1548.3,1178.1 1551.3,1178.2 1554.3,1178.3 1557.3,1178.4 1560.3,1178.5 1563.3,1178.6 1566.3,1178.7 1569.3,1178.8 1572.3,1178.9 1575.3,1179.1 1578.3,1179.2 1581.3,1179.3 1584.3,1179.4 1587.3,1179.5 1590.3,1179.6 1593.3,1179.7 1596.3,1179.8 1599.3,1179.9 1602.3,1180 1605.3,1180.1 1608.3,1180.2 1611.3,1180.4 1614.3,1180.5 1617.3,1180.6 1620.3,1180.7 1623.3,1180.8 1626.3,1180.9 1629.3,1181 1632.3,1181.1 1635.3,1181.2 1638.3,1181.3 1641.3,1181.4 1644.3,1181.6 1647.3,1181.7 1650.3,1181.8 1653.3,1181.9 1656.3,1182 1659.3,1182.1 1662.2,1182.2 1665.2,1182.3 1668.2,1182.4 1671.2,1182.5 1674.2,1182.6 1677.2,1182.7 1680.2,1182.9 1683.2,1183 1686.2,1183.1 1689.2,1183.2" fill="none" stroke="#222" stroke-width="0.9" />
<path d="M429.5,518 429.5,521 429.5,524 429.5,527 429.5,530 429.5,533 429.5,536 429.5,539 429.5,542 429.5,545 429.5,548 429.5,551.1 429.5,554.1 429.5,557.1 429.5,560.1 429.5,563 429.5,566 429.5,568.9 429.5,571.9 429.5,574.8 429.5,577.8 429.5,580.8 429.5,583.9 429.5,586.9 429.5,590 429.5,593.1 429.5,596.2 429.5,599.3 429.5,602.4 429.5,605.5 429.6,608.7 429.6,611.9 429.7,615.1 429.7,618.3 429.8,621.2 429.9,624.2 429.9,626.9 430,629.7 430,632.6 430.1,635.5 430.1,638.6 430.1,641.7 430.2,644.9 430.2,648.1 430.3,651.5 430.4,654.9 430.5,655.9 430.5,655.9 430.5,657.3 430.4,658.6 430.1,659.8 429.7,660.9 429.2,661.9 428.5,662.8 427.7,663.6 426.8,664.3 425.7,664.9 424.5,665.4 423.1,665.8 423.1,665.8 421.6,666.2 418.1,667.3 414.8,668.3 411.6,669.2 408.5,670.2 405.3,671.3 401.9,672.4 398.5,673.6 395,674.8 391.5,676.2 387.9,677.6 384.2,679.1 380.3,680.9 376.2,682.9 372.3,684.9 368.5,687.1 364.8,689.3 361.4,691.5 358.1,693.7 355,695.8 352.1,697.8 349.5,699.8 347,701.6 344.6,703.3 342.3,705 340,706.6 337.5,708.4 334.8,710.4 332.2,712.3" fill="none" stroke="#333" stroke-width="0.8" stroke-dasharray="16 8" />
<path d="M341.2,825.4 343.6,823.6 346,821.8 348.4,820 350.9,818.2 353.3,816.4 355.7,814.6 358.1,812.8 360.5,811 362.9,809.3 365.3,807.5 367.8,805.6 370.3,803.7 372.8,801.9 375.3,800 377.7,798.2 380,796.4 382.4,794.6 384.7,792.9 386.9,791.2 389.2,789.6 391.4,787.9 393.6,786.3 395.9,784.7 398.5,782.8 401.1,780.9 403.6,779.1 405.9,777.4 408.1,775.8 410.1,774.4 412,773.1 413.7,772 415.3,770.9 416.8,770 418.2,769.3 419.6,768.5 420.9,767.9 422.5,767.2 424.3,766.4 426.3,765.6 428.4,764.8 430.5,764.1 432.8,763.3 435.1,762.5 437.6,761.7 440.2,760.9 442.8,760.1 445.2,759.3 447.4,758.7 449.5,758.2 450,758 450,758 450.7,757.9 451.3,757.8 451.9,757.9 452.5,758 453,758.2 453.5,758.4 453.9,758.7 454.3,759.2 454.6,759.7 454.9,760.2 455.2,760.9 455.2,760.9 455.9,762.9 456.9,765.9 458,768.8 459,771.8 460.1,774.8 461.2,777.8 462.3,780.7 463.4,783.7 464.5,786.6 465.6,789.6 466.8,792.6 467.9,795.6 469.1,798.6 470.3,801.6 471.5,804.7 472.7,807.7 474,810.8 475.3,813.9 476.7,817 478,820.1 479.5,823.2 480.9,826.4 482.4,829.6 484,832.8 485.6,836.1 487.3,839.2 489,842.5 490.7,845.7 492.5,848.8 494.3,851.9 496.1,855 497.9,857.9 499.6,860.8 501.4,863.6 503.1,866.4 504.9,869.1 506.8,872 508.7,874.9 510.6,877.7 512.5,880.6 514.4,883.3 516.4,886 518.4,888.8 520.3,891.4 522.3,894.1 524.2,896.7 526.2,899.4 528.2,902 530.1,904.5 532.1,907.1 534.1,909.6 536.2,912.2 538.3,914.9 540.5,917.5 542.7,920.2 544.8,922.7 547,925.3 549.2,927.8 551.3,930.2 553.4,932.6 555.5,934.9 557.5,937.2 559.5,939.5 561.5,941.7 563.5,943.9 565.4,946 567.3,948.2 569.1,950.3 571,952.4 572.8,954.4 574.6,956.6 576.4,958.7 578.3,961 580.2,963.2 582.1,965.5 584.1,967.8 586,970.1 588,972.5 590.1,974.9 592.1,977.3 594.2,979.8 596.4,982.3 598.6,984.8 600.9,987.3 603.2,989.9 605.6,992.5 608.1,995.1 610.6,997.6 613.1,1000.2 615.7,1002.7 618.1,1005.1 620.8,1007.6 623.4,1010 625.9,1012.3 628.5,1014.7 631.1,1016.9 633.6,1019.1 636.1,1021.2 638.5,1023.2 640.9,1025.2 643.2,1027.2 645.6,1029.2 647.9,1031.1 650.3,1033.1 652.7,1035.1 655.1,1037.1 657.5,1039.1 659.9,1041 662.3,1043 664.7,1045 667.2,1046.9 669.6,1048.9 672,1050.8 674.5,1052.8 676.9,1054.7 679.4,1056.7 681.8,1058.6 684.3,1060.5 686.8,1062.5 689.3,1064.4 691.8,1066.3 694.4,1068.3 696.9,1070.2 699.3,1072 701.8,1073.9 704.2,1075.7 706.6,1077.5 709.1,1079.3 711.6,1081.1 714.1,1083 716.6,1084.9 719.2,1086.8 721.8,1088.6 724.4,1090.5 727.1,1092.4 729.8,1094.3 732.5,1096.2 735.3,1098.2 738.2,1100.1 741.1,1102 744,1103.9 747,1105.8 750.1,1107.7 753.2,1109.5 756.3,1111.3 759.3,1113.1 762.5,1114.8 765.5,1116.5 768.7,1118.2 771.7,1119.8 774.9,1121.4 778,1122.9 781.1,1124.4 784.2,1125.8 787.3,1127.3 790.4,1128.7 793.5,1130.1 796.5,1131.4 799.6,1132.7 802.7,1134 805.7,1135.3 808.9,1136.5 812,1137.8 815.3,1139.1 818.5,1140.3 821.8,1141.5 825.1,1142.7 828.4,1143.8 831.7,1144.9 834.8,1145.9 838.1,1147 841.2,1147.9 844.4,1148.9 847.5,1149.8 850.7,1150.8 853.8,1151.7 856.8,1152.5 859.8,1153.4 862.8,1154.2 865.8,1155 868.8,1155.9 871.9,1156.7 875,1157.5 878,1158.3 881.2,1159.1 884.3,1159.9 887.5,1160.7 890.7,1161.5 893.9,1162.3 897.2,1163 900.4,1163.7 903.8,1164.5 907.1,1165.1 910.5,1165.8 913.9,1166.5 917.3,1167.1 920.8,1167.7 924.2,1168.2 927.8,1168.8 931.3,1169.2 934.7,1169.7 938.2,1170.1 941.6,1170.5 945,1170.8 948.4,1171.2 951.6,1171.4 954.9,1171.7 958.2,1172 961.4,1172.2 964.5,1172.4 967.6,1172.6 970.7,1172.8 973.7,1173 976.9,1173.2 980.1,1173.4 983.3,1173.6 986.6,1173.7 989.7,1173.9 992.9,1174 996.1,1174.1 999.2,1174.2 1002.3,1174.3 1005.4,1174.4 1008.5,1174.5 1011.5,1174.6 1014.6,1174.7 1017.6,1174.8 1020.6,1174.9 1023.6,1174.9 1026.5,1175 1029.5,1175.1 1032.4,1175.2 1035.3,1175.3 1038.3,1175.4 1041.3,1175.5 1044.3,1175.6 1047.3,1175.7 1050.3,1175.8 1053.3,1175.9 1056.3,1176 1059.3,1176.1 1062.3,1176.1 1065.3,1176.2 1068.3,1176.3 1071.3,1176.4 1074.3,1176.5 1077.3,1176.6 1080.3,1176.7 1083.3,1176.8 1086.3,1176.9 1089.3,1177 1092.3,1177.1 1095.3,1177.2 1098.2,1177.3 1101.1,1177.4 1104.1,1177.5 1107.1,1177.6 1110,1177.7 1113,1177.8 1116,1177.9 1119,1178 1122,1178.1 1125,1178.2 1128,1178.4 1131,1178.5 1134,1178.6 1137,1178.7 1140,1178.8 1143,1178.9 1146,1179 1149,1179.1 1152,1179.2 1155,1179.3 1158,1179.4 1161,1179.5 1164,1179.7 1167,1179.8 1170,1179.9 1173,1180 1176,1180.1 1179,1180.2 1182,1180.3 1185,1180.4 1188,1180.5 1191,1180.6 1194,1180.7 1197,1180.9 1200,1181 1203,1181.1 1206,1181.2 1209,1181.3 1212,1181.4 1215,1181.5 1218,1181.6 1221,1181.7 1224,1181.8 1227,1181.9 1230,1182 1233,1182.2 1236,1182.3 1239,1182.4 1242,1182.5 1245,1182.6 1248,1182.7 1251,1182.8 1254,1182.9 1257,1183 1260,1183.1 1262.9,1183.2 1265.9,1183.3 1268.9,1183.5 1271.9,1183.6 1274.9,1183.7 1277.9,1183.8 1280.9,1183.9 1283.9,1184 1286.9,1184.1 1289.9,1184.2 1292.9,1184.3 1295.9,1184.4 1298.9,1184.5 1301.9,1184.7 1304.9,1184.8 1307.9,1184.9 1310.9,1185 1313.9,1185.1 1316.9,1185.2 1319.9,1185.3 1322.9,1185.4 1325.9,1185.5 1328.9,1185.6 1331.9,1185.7 1334.9,1185.8 1337.9,1186 1340.9,1186.1 1343.9,1186.2 1346.9,1186.3 1349.9,1186.4 1352.9,1186.5 1355.9,1186.6 1358.9,1186.7 1361.9,1186.8 1364.9,1186.9 1367.9,1187 1370.9,1187.2 1373.9,1187.3 1376.9,1187.4 1379.9,1187.5 1382.9,1187.6 1385.9,1187.7 1388.9,1187.8 1391.9,1187.9 1394.9,1188 1397.9,1188.1 1400.9,1188.2 1403.9,1188.3 1406.9,1188.5 1409.9,1188.6 1412.9,1188.7 1415.8,1188.8 1418.8,1188.9 1421.8,1189 1424.8,1189.1 1427.8,1189.2 1430.8,1189.3 1433.8,1189.4 1436.8,1189.5 1439.8,1189.7 1442.8,1189.8 1445.8,1189.9 1448.8,1190 1451.8,1190.1 1454.8,1190.2 1457.8,1190.3 1460.8,1190.4 1463.8,1190.5 1466.8,1190.6 1469.8,1190.7 1472.8,1190.8 1475.8,1191 1478.8,1191.1 1481.8,1191.2 1484.8,1191.3 1487.8,1191.4 1490.8,1191.5 1493.8,1191.6 1496.8,1191.7 1499.8,1191.8 1502.8,1191.9 1505.8,1192 1508.8,1192.2 1511.8,1192.3 1514.8,1192.4 1517.8,1192.5 1520.8,1192.6 1523.8,1192.7 1526.8,1192.8 1529.8,1192.9 1532.8,1193 1535.8,1193.1 1538.8,1193.2 1541.8,1193.3 1544.8,1193.5 1547.8,1193.6 1550.8,1193.7 1553.8,1193.8 1556.8,1193.9 1559.8,1194 1562.8,1194.1 1565.8,1194.2 1568.7,1194.3 1571.7,1194.4 1574.7,1194.5 1577.7,1194.7 1580.7,1194.8 1583.7,1194.9 1586.7,1195 1589.7,1195.1 1592.7,1195.2 1595.7,1195.3 1598.7,1195.4 1601.7,1195.5 1604.7,1195.6 1607.7,1195.7 1610.7,1195.8 1613.7,1196 1616.7,1196.1 1619.7,1196.2 1622.7,1196.3 1625.7,1196.4 1628.7,1196.5 1631.7,1196.6 1634.7,1196.7 1637.7,1196.8 1640.7,1196.9 1643.7,1197 1646.7,1197.2 1649.7,1197.3 1652.7,1197.4 1655.7,1197.5 1658.7,1197.6 1661.7,1197.7 1664.7,1197.8 1667.7,1197.9" fill="none" stroke="#333" stroke-width="0.8" stroke-dasharray="16 8" />
<path d="M466.2,518 466.2,521 466.2,524 466.2,527 466.2,530 466.2,533 466.2,536 466.2,539 466.2,542 466.2,545 466.2,548 466.2,551 466.2,554 466.2,557 466.2,560 466.2,563 466.2,566 466.2,569 466.2,572 466.2,575 466.2,578 466.2,581 466.2,584 466.2,587 466.2,590 466.2,593 466.2,596 466.2,599.1 466.2,602.1 466.2,605.2 466.3,608.2 466.3,611.3 466.4,614.3 466.4,617.4 466.5,620.4 466.6,623.3 466.6,626.3 466.7,629.2 466.7,632.2 466.7,635.2 466.8,638.2 466.8,641.2 466.9,644.3 466.9,647.3 467,650.4 467.1,653.6 467.2,656.7 467.4,659.9" fill="none" stroke="#222" stroke-width="0.6" />
<path d="M490.6,750.8 491.6,753.7 492.6,756.6 493.6,759.4 494.6,762.3 495.7,765.2 496.7,768 497.8,770.9 498.8,773.7 499.9,776.6 501,779.5 502.1,782.3 503.2,785.2 504.4,788 505.5,790.9 506.7,793.7 507.9,796.6 509.1,799.5 510.3,802.3 511.6,805.2 512.9,808 514.2,810.9 515.5,813.7 516.9,816.6 518.3,819.4 519.8,822.3 521.3,825.1 522.8,827.9 524.4,830.6 526,833.4 527.6,836.1 529.2,838.8 530.8,841.4 532.5,844.1 534.1,846.7 535.8,849.3 537.5,851.9 539.2,854.5 540.9,857.1 542.7,859.7 544.5,862.2 546.3,864.7 548.1,867.3 549.9,869.8 551.7,872.3 553.6,874.7 555.4,877.2 557.3,879.6 559.2,882.1 561.1,884.5 562.9,886.9 564.9,889.3 566.8,891.8 568.8,894.2 570.8,896.6 572.8,899 574.8,901.3 576.9,903.6 578.9,905.9 580.9,908.2 582.9,910.5 584.9,912.8 586.9,915 588.9,917.2 590.9,919.5 592.9,921.7 594.8,923.9 596.8,926.1 598.7,928.3 600.6,930.5 602.5,932.8 604.4,935 606.3,937.3 608.3,939.6 610.2,941.9 612.1,944.2 614.1,946.5 616,948.8 618,951.1 620,953.4 622,955.8 624,958.1 626.1,960.4 628.1,962.7 630.3,965.1 632.4,967.4 634.6,969.7 636.8,971.9 639,974.2 641.3,976.4 643.5,978.6 645.8,980.8 648.2,982.9 650.5,985 652.8,987.1 655.2,989.2 657.5,991.2 659.9,993.2 662.2,995.2 664.5,997.1 666.8,999.1 669.1,1001 671.4,1003 673.8,1004.9 676.1,1006.8 678.4,1008.8 680.8,1010.7 683.1,1012.6 685.5,1014.5 687.8,1016.4 690.2,1018.4 692.6,1020.3 694.9,1022.2 697.3,1024.1 699.7,1025.9 702.1,1027.8 704.5,1029.7 706.9,1031.6 709.3,1033.4 711.7,1035.3 714.1,1037.2 716.5,1039 719,1040.8 721.4,1042.7 723.8,1044.5 726.2,1046.3 728.6,1048.1 731,1049.9 733.5,1051.7 735.9,1053.5 738.3,1055.3 740.8,1057.1 743.3,1058.9 745.8,1060.7 748.3,1062.5 750.8,1064.3 753.4,1066 755.9,1067.8 758.5,1069.5 761.1,1071.3 763.8,1073 766.5,1074.7 769.2,1076.3 771.9,1078 774.6,1079.6 777.4,1081.1 780.1,1082.7 782.9,1084.2 785.7,1085.7 788.5,1087.1 791.3,1088.5 794.1,1089.9 796.9,1091.3 799.7,1092.6 802.6,1093.9 805.4,1095.2 808.3,1096.5 811.1,1097.7 814,1098.9 816.8,1100.1 819.7,1101.3 822.5,1102.5 825.4,1103.6 828.4,1104.8 831.3,1105.9 834.3,1107 837.2,1108 840.2,1109.1 843.2,1110 846.1,1111 849.1,1112 852,1112.9 855,1113.8 858,1114.7 860.9,1115.5 863.8,1116.4 866.8,1117.2 869.7,1118 872.6,1118.8 875.6,1119.6 878.5,1120.4 881.4,1121.2 884.4,1122 887.3,1122.8 890.3,1123.6 893.3,1124.3 896.3,1125.1 899.3,1125.8 902.3,1126.5 905.3,1127.2 908.3,1127.9 911.4,1128.6 914.4,1129.2 917.5,1129.8 920.6,1130.4 923.7,1130.9 926.8,1131.5 929.9,1132 933,1132.4 936.2,1132.9 939.2,1133.3 942.4,1133.7 945.5,1134 948.6,1134.3 951.7,1134.6 954.8,1134.9 957.8,1135.1 960.9,1135.4 964,1135.6 967,1135.8 970,1136 973,1136.2 976.1,1136.4 979.1,1136.6 982.1,1136.7 985.2,1136.9 988.3,1137.1 991.3,1137.2 994.4,1137.3 997.4,1137.4 1000.5,1137.6 1003.5,1137.7 1006.5,1137.8 1009.5,1137.8 1012.6,1137.9 1015.6,1138 1018.6,1138.1 1021.6,1138.2 1024.6,1138.3 1027.6,1138.3 1030.5,1138.4 1033.5,1138.5 1036.5,1138.6 1039.5,1138.7 1042.5,1138.8 1045.5,1138.9 1048.5,1139 1051.5,1139.1 1054.5,1139.2 1057.5,1139.3 1060.5,1139.4 1063.5,1139.5 1066.5,1139.6 1069.5,1139.7 1072.5,1139.7 1075.5,1139.8 1078.5,1139.9 1081.5,1140 1084.5,1140.1 1087.5,1140.2 1090.5,1140.3 1093.5,1140.4 1096.5,1140.5 1099.4,1140.6 1102.4,1140.7 1105.4,1140.8 1108.4,1140.9 1111.4,1141 1114.4,1141.1 1117.4,1141.2 1120.4,1141.3 1123.4,1141.5 1126.4,1141.6 1129.4,1141.7 1132.4,1141.8 1135.4,1141.9 1138.4,1142 1141.4,1142.1 1144.4,1142.2 1147.4,1142.3 1150.4,1142.4 1153.4,1142.5 1156.3,1142.7 1159.3,1142.8 1162.3,1142.9 1165.3,1143 1168.3,1143.1 1171.3,1143.2 1174.3,1143.3 1177.3,1143.4 1180.3,1143.5 1183.3,1143.6 1186.3,1143.7 1189.3,1143.8 1192.3,1144 1195.3,1144.1 1198.3,1144.2 1201.3,1144.3 1204.3,1144.4 1207.3,1144.5 1210.3,1144.6 1213.3,1144.7 1216.3,1144.8 1219.3,1144.9 1222.3,1145 1225.3,1145.2 1228.3,1145.3 1231.3,1145.4 1234.3,1145.5 1237.3,1145.6 1240.3,1145.7 1243.3,1145.8 1246.3,1145.9 1249.3,1146 1252.3,1146.1 1255.3,1146.2 1258.3,1146.3 1261.3,1146.5 1264.3,1146.6 1267.3,1146.7 1270.3,1146.8 1273.3,1146.9 1276.3,1147 1279.3,1147.1 1282.3,1147.2 1285.3,1147.3 1288.3,1147.4 1291.3,1147.5 1294.3,1147.7 1297.3,1147.8 1300.3,1147.9 1303.3,1148 1306.3,1148.1 1309.2,1148.2 1312.2,1148.3 1315.2,1148.4 1318.2,1148.5 1321.2,1148.6 1324.2,1148.7 1327.2,1148.8 1330.2,1149 1333.2,1149.1 1336.2,1149.2 1339.2,1149.3 1342.2,1149.4 1345.2,1149.5 1348.2,1149.6 1351.2,1149.7 1354.2,1149.8 1357.2,1149.9 1360.2,1150 1363.2,1150.2 1366.2,1150.3 1369.2,1150.4 1372.2,1150.5 1375.2,1150.6 1378.2,1150.7 1381.2,1150.8 1384.2,1150.9 1387.2,1151 1390.2,1151.1 1393.2,1151.2 1396.2,1151.3 1399.2,1151.5 1402.2,1151.6 1405.2,1151.7 1408.2,1151.8 1411.2,1151.9 1414.2,1152 1417.2,1152.1 1420.2,1152.2 1423.2,1152.3 1426.2,1152.4 1429.2,1152.5 1432.2,1152.7 1435.2,1152.8 1438.2,1152.9 1441.2,1153 1444.2,1153.1 1447.2,1153.2 1450.2,1153.3 1453.2,1153.4 1456.2,1153.5 1459.2,1153.6 1462.1,1153.7 1465.1,1153.8 1468.1,1154 1471.1,1154.1 1474.1,1154.2 1477.1,1154.3 1480.1,1154.4 1483.1,1154.5 1486.1,1154.6 1489.1,1154.7 1492.1,1154.8 1495.1,1154.9 1498.1,1155 1501.1,1155.2 1504.1,1155.3 1507.1,1155.4 1510.1,1155.5 1513.1,1155.6 1516.1,1155.7 1519.1,1155.8 1522.1,1155.9 1525.1,1156 1528.1,1156.1 1531.1,1156.2 1534.1,1156.3 1537.1,1156.5 1540.1,1156.6 1543.1,1156.7 1546.1,1156.8 1549.1,1156.9 1552.1,1157 1555.1,1157.1 1558.1,1157.2 1561.1,1157.3 1564.1,1157.4 1567.1,1157.5 1570.1,1157.7 1573.1,1157.8 1576.1,1157.9 1579.1,1158 1582.1,1158.1 1585.1,1158.2 1588.1,1158.3 1591.1,1158.4 1594.1,1158.5 1597.1,1158.6 1600.1,1158.7 1603.1,1158.8 1606.1,1159 1609.1,1159.1 1612.1,1159.2 1615,1159.3 1618,1159.4 1621,1159.5 1624,1159.6 1627,1159.7 1630,1159.8 1633,1159.9 1636,1160 1639,1160.1 1642,1160.3 1645,1160.4 1648,1160.5 1651,1160.6 1654,1160.7 1657,1160.8 1660,1160.9 1663,1161 1666,1161.1 1669,1161.2 1672,1161.3" fill="none" stroke="#222" stroke-width="0.6" />
<path d="M464.5,515 464.5,509.7 464.3,506 463.8,502.2 462.9,498.5 461.7,495 460.1,491.5 458.2,488.2 456.1,485.2 453.6,482.3 450.9,479.7 447.9,477.3 444.8,475.2 444.8,475.2 441.8,473.4 439,471.5 436.2,469.4 433.5,467.2 431,464.9 428.5,462.5 426.1,460 423.9,457.3 421.8,454.6 419.8,451.8 417.9,448.9 416.1,445.9 414.5,442.8 413,439.7 411.7,436.5 410.5,433.3 409.5,430 408.6,426.7 407.8,423.3 407.2,419.9 406.8,416.5 406.5,413 406.3,409.6 406.3,406.1 406.5,402.6 406.8,399.2 407.3,395.8 407.9,392.4 408.6,389 409.6,385.7 410.6,382.4 411.8,379.1 413.2,376 414.7,372.8 416.3,369.8 418.1,366.8 420,363.9 422,361.1 424.1,358.4 426.4,355.8 428.7,353.3 431.2,350.9 433.8,348.6 436.5,346.4 439.3,344.3 442.1,342.4 445.1,340.6 448.1,338.9 451.2,337.4 454.4,336 457.6,334.7 460.9,333.6 464.2,332.6 467.5,331.8 470.9,331.2 474.3,330.6 477.8,330.3 481.2,330.1 484.7,330 488.1,330.1 491.6,330.3 495,330.7 498.4,331.3 501.8,332 505.2,332.8 508.5,333.8 511.7,335 515,336.3 518.1,337.7 521.2,339.3 524.2,341 527.1,342.8 530,344.8 532.7,346.9 535.4,349.1 537.9,351.4 540.4,353.8 542.7,356.4 545,359 547.1,361.7 549.1,364.6 550.9,367.5 552.7,370.5 554.3,373.5 555.7,376.7 557,379.9 558.2,383.1 559.3,386.4 560.1,389.8 560.9,393.1 561.5,396.5 561.9,400 562.2,403.4 562.3,406.9 562.3,410.3 562.1,413.8 561.8,417.2 561.3,420.6 560.6,424 559.8,427.4 558.9,430.7 557.8,434 556.6,437.2 555.2,440.4 553.7,443.5 552.1,446.6 550.3,449.5 548.4,452.4 546.4,455.2 544.2,457.9 542,460.5 539.6,463 537.1,465.4 534.5,467.7 531.8,469.9 529,471.9 526.1,473.8 523.2,475.6 520.1,477.3 516.7,479.3 513.5,481.6 510.5,484.3 507.8,487.2 505.4,490.3 503.3,493.7 501.6,497.3 500.3,501.1 499.3,504.9 498.7,508.8 498.5,512.8 498.5,515" fill="none" stroke="#111" stroke-width="1.4" />
<path d="M462.7,505 462.7,509.7 462.5,506.1 462,502.5 461.2,499 460,495.6 458.5,492.3 456.7,489.2 454.6,486.3 452.3,483.5 449.7,481 446.9,478.8 443.9,476.8 443.9,476.8 440.9,474.9 437.9,472.9 435.1,470.8 432.4,468.6 429.7,466.2 427.2,463.7 424.8,461.2 422.5,458.5 420.3,455.7 418.3,452.8 416.3,449.8 414.6,446.8 412.9,443.7 411.4,440.5 410,437.2 408.8,433.9 407.7,430.5 406.8,427.1 406,423.6 405.4,420.2 405,416.6 404.7,413.1 404.5,409.6 404.5,406.1 404.7,402.5 405,399 405.5,395.5 406.1,392 406.9,388.6 407.8,385.2 408.9,381.8 410.2,378.5 411.5,375.2 413.1,372 414.7,368.9 416.5,365.9 418.5,362.9 420.5,360 422.7,357.2 425,354.6 427.5,352 430,349.5 432.6,347.2 435.4,345 438.2,342.8 441.2,340.9 444.2,339 447.3,337.3 450.4,335.7 453.7,334.3 457,333 460.3,331.9 463.7,330.9 467.1,330.1 470.6,329.4 474.1,328.9 477.6,328.5 481.2,328.3 484.7,328.2 488.2,328.3 491.8,328.5 495.3,329 498.8,329.5 502.2,330.2 505.7,331.1 509,332.1 512.4,333.3 515.7,334.6 518.9,336.1 522,337.7 525.1,339.4 528.1,341.3 531,343.3 533.8,345.4 536.6,347.7 539.2,350.1 541.7,352.6 544.1,355.2 546.4,357.9 548.5,360.7 550.6,363.6 552.5,366.5 554.3,369.6 555.9,372.7 557.4,375.9 558.7,379.2 559.9,382.5 561,385.9 561.9,389.3 562.6,392.8 563.2,396.3 563.7,399.8 564,403.3 564.1,406.8 564.1,410.4 563.9,413.9 563.5,417.4 563,420.9 562.4,424.4 561.6,427.9 560.6,431.3 559.5,434.6 558.3,437.9 556.9,441.2 555.3,444.4 553.7,447.5 551.8,450.5 549.9,453.5 547.8,456.3 545.6,459.1 543.3,461.7 540.8,464.3 538.3,466.8 535.6,469.1 532.9,471.3 530,473.4 527.1,475.4 524.1,477.2 521,478.9 517.7,480.8 514.6,483 511.8,485.5 509.2,488.3 506.9,491.4 504.9,494.6 503.3,498 502,501.6 501.1,505.3 500.5,509 500.3,512.8 500.3,505" fill="none" stroke="#222" stroke-width="0.6" />
<path d="M454.8,566 454.8,482.9 449.6,480.6 444.5,478 439.6,475 435,471.6 430.6,468 426.5,464 422.7,459.8 419.2,455.3 416,450.5 413.1,445.6 410.6,440.5 408.5,435.1 406.8,429.7 405.4,424.2 404.5,418.5 403.9,412.8 403.8,407.1 404.1,401.4 404.7,395.7 405.8,390.1 407.3,384.6 409.1,379.2 411.4,374 414,368.9 416.9,364 420.2,359.3 423.8,354.9 427.7,350.7 431.9,346.9 436.4,343.3 441.1,340.1 446,337.2 451.2,334.6 456.4,332.5 461.9,330.7 467.4,329.3 473,328.3 478.7,327.7 484.4,327.5 490.1,327.7 495.8,328.3 501.4,329.3 507,330.8 512.4,332.6 517.7,334.7 522.8,337.3 527.7,340.2 532.4,343.4 536.8,347 541,350.9 544.9,355.1 548.5,359.5 551.8,364.2 554.8,369.1 557.3,374.2 559.6,379.4 561.4,384.8 562.8,390.4 563.9,396 564.5,401.6 564.8,407.3 564.6,413.1 564.1,418.7 563.1,424.4 561.8,429.9 560,435.4 557.9,440.7 555.4,445.8 552.5,450.7 549.3,455.5 545.8,460 541.9,464.2 537.8,468.1 533.4,471.8 528.8,475.1 523.9,478.1 518.8,480.7 513.6,483 508.2,484.9 508.2,566" fill="none" stroke="#222" stroke-width="0.8" />
<path d="M445,566 445,487.3 439.6,484.4 434.5,481.2 429.6,477.6 424.9,473.6 420.6,469.4 416.5,464.9 412.8,460.1 409.3,455.1 406.3,449.8 403.6,444.3 401.3,438.7 399.4,432.9 397.9,427 396.8,421 396.1,415 395.8,408.9 396,402.8 396.5,396.8 397.5,390.8 398.9,384.9 400.7,379 402.9,373.4 405.4,367.8 408.4,362.5 411.7,357.4 415.3,352.5 419.3,347.9 423.6,343.6 428.2,339.6 433,335.9 438.1,332.5 443.4,329.5 448.8,326.9 454.5,324.7 460.3,322.8 466.2,321.4 472.2,320.3 478.3,319.7 484.3,319.5 490.4,319.7 496.5,320.3 502.5,321.4 508.4,322.8 514.2,324.7 519.8,326.9 525.3,329.6 530.6,332.6 535.7,335.9 540.5,339.6 545.1,343.7 549.3,348 553.3,352.6 557,357.5 560.3,362.6 563.2,367.9 565.8,373.4 567.9,379.1 569.7,384.9 571.1,390.8 572.1,396.8 572.7,402.9 572.8,409 572.5,415.1 571.8,421.1 570.7,427.1 569.2,433 567.3,438.8 565,444.4 562.3,449.8 559.2,455.1 555.8,460.1 552.1,464.9 548,469.5 543.6,473.7 539,477.6 534,481.2 528.9,484.4 523.5,487.3 518,489.8 518,566" fill="none" stroke="#222" stroke-width="0.9" />
<path d="M439.8,320.7 435,323.3 430.3,326.2 425.8,329.3 421.5,332.7 417.4,336.4 413.5,340.2 409.9,344.3 406.4,348.5 403.2,353 400.3,357.6 397.6,362.4 395.2,367.3 393,372.3 391.2,377.5 389.6,382.8 388.3,388.1 387.4,393.5 386.7,398.9 386.4,404.4 386.3,409.9 386.6,415.4 387.1,420.8 388,426.2 389.2,431.6 390.6,436.9 392.4,442.1 394.5,447.1 396.8,452.1 399.4,456.9 402.3,461.6 405.4,466.1 408.8,470.4 412.4,474.5 416.2,478.5 420.2,482.2 424.5,485.6 428.9,488.9 433.5,491.8 438.3,494.5" fill="none" stroke="#333" stroke-width="0.8" stroke-dasharray="14 6" />
<path d="M528.8,320.7 533.6,323.3 538.3,326.2 542.8,329.3 547.1,332.7 551.2,336.4 555.1,340.2 558.7,344.3 562.2,348.5 565.4,353 568.3,357.6 571,362.4 573.4,367.3 575.6,372.3 577.4,377.5 579,382.8 580.3,388.1 581.2,393.5 581.9,398.9 582.2,404.4 582.3,409.9 582,415.4 581.5,420.8 580.6,426.2 579.4,431.6 578,436.9 576.2,442.1 574.1,447.1 571.8,452.1 569.2,456.9 566.3,461.6 563.2,466.1 559.8,470.4 556.2,474.5 552.4,478.5 548.4,482.2 544.1,485.6 539.7,488.9 535.1,491.8 530.3,494.5" fill="none" stroke="#333" stroke-width="0.8" stroke-dasharray="14 6" />
<path d="M465.5,505.6 499.6,505.6" fill="none" stroke="#111" stroke-width="1.6" />
<rect x="464" y="502.5" width="5" height="6" fill="#111"/><rect x="496" y="502.5" width="5" height="6" fill="#111"/>
<path d="M299.1,814 301.5,812.2 303.9,810.4 306.3,808.6 308.8,806.8 311.2,805.1 313.6,803.3 316,801.5 318.4,799.7 320.8,797.9 323.2,796.1 325.7,794.3 328.1,792.5 330.5,790.8 332.9,789 335.3,787.2 337.7,785.4 340.1,783.6 342.5,781.8 344.9,780 347.4,778.2 349.8,776.4 352.2,774.6 354.6,772.7 357,770.9 359.4,769.1 361.8,767.3 364.2,765.5 366.5,763.8 368.9,762 371.2,760.3 373.6,758.6 376,756.9 378.5,755.1 381,753.3 383.4,751.5 385.8,749.8 388.2,748.1 390.5,746.4 392.8,744.8 395.1,743.3 397.3,741.9 399.6,740.5 401.8,739.2 404.1,738 406.4,736.9 408.8,735.8 411.3,734.8 413.9,733.8 416.5,732.8 419.1,731.8 421.8,730.9 424.5,730 427.2,729.1 430,728.2 432.8,727.4 435.6,726.5 438.2,725.8 440.9,725.1 443.6,724.4 446.3,723.7 449.1,723.1 451.9,722.6 454.7,722 457.5,721.5 460.4,720.9 463.2,720.4 466,720 468.7,719.6 471.6,719.3" fill="none" stroke="#222" stroke-width="0.6" />
<path d="M282.7,791.8 285.1,790 287.5,788.2 289.9,786.4 292.4,784.6 294.8,782.9 297.2,781.1 299.6,779.3 302,777.5 304.4,775.7 306.8,773.9 309.2,772.2 311.6,770.4 314,768.6 316.4,766.8 318.8,765 321.2,763.2 323.7,761.4 326.1,759.7 328.5,757.9 330.9,756.1 333.2,754.3 335.6,752.5 338,750.7 340.4,748.9 342.8,747.1 345.2,745.3 347.6,743.5 350,741.6 352.5,739.8 355,738 357.5,736.2 359.9,734.4 362.3,732.7 364.7,731 367.1,729.2 369.6,727.4 372.1,725.6 374.6,723.8 377.3,722 380,720.2 382.8,718.4 385.7,716.7 388.6,715 391.7,713.4 394.8,711.9 397.8,710.5 400.9,709.2 403.9,708 406.9,706.9 409.9,705.8 412.9,704.8 415.9,703.8 418.9,702.8 421.8,701.9 424.8,701 427.7,700.1 430.8,699.2 434,698.3 437.1,697.6 440.2,696.8 443.3,696.1 446.4,695.5 449.5,694.9 452.5,694.3 455.5,693.8 458.6,693.2 461.8,692.7 465,692.3 468.1,691.9" fill="none" stroke="#222" stroke-width="0.6" />
<path d="M261.2,823.4 263.6,821.5 266,819.7 268.4,817.9 270.8,816.1 273.2,814.3 275.6,812.4 278,810.6 280.4,808.8 282.8,807 285.2,805.3 287.6,803.5 290,801.7 292.4,799.9 294.8,798.1 297.3,796.3 299.7,794.5 302.1,792.8 304.5,791 306.9,789.2 309.3,787.4 311.7,785.6 314.1,783.8 316.5,782 318.9,780.3 321.4,778.5 323.8,776.7 326.2,774.9 328.6,773.1 331,771.3 333.4,769.5 335.8,767.7 338.2,765.9 340.6,764.2 343,762.3 345.4,760.5 347.8,758.7 350.2,756.9 352.6,755.1 355,753.3 357.4,751.5 359.8,749.7 362.2,747.9 364.7,746.2 367.1,744.4 369.5,742.7 372,740.9 374.4,739.2 376.8,737.4 379.2,735.6 381.7,733.9 384.2,732.2 386.7,730.5 389.3,728.8 391.9,727.3 394.5,725.8 397.2,724.4 400,723 402.7,721.8 405.5,720.6 408.3,719.5 411.2,718.4 414,717.4 416.9,716.4 419.7,715.5 422.6,714.5 425.5,713.6 428.3,712.7 431.2,711.9 434.1,711 437.1,710.2 440,709.5 442.9,708.8 445.9,708.2 448.8,707.6 451.8,707 454.7,706.4 457.7,705.9 460.7,705.4 463.7,704.9 466.7,704.5 469.7,704.1 472.7,703.7 475.6,703.4 478.6,703.1 481.6,702.8" fill="none" stroke="#111" stroke-width="1.8" />
<path d="M224.4,788.6 228.5,793.3 232.6,797.3 236.9,800.4 241.3,802.6 245.8,804.1 250.5,804.7 255.2,804.4 260,803.4 265,801.5 270,798.8 275.2,795.2 275.2,795.2 276.8,794 279.3,792.2 281.7,790.4 284.1,788.6 286.5,786.8 288.9,785.1 291.3,783.3 293.8,781.5 296.2,779.7 298.6,777.9 301,776.2 303.4,774.4 305.8,772.6 308.2,770.8 310.6,769 313,767.2 315.4,765.4 317.8,763.6 320.2,761.9 322.6,760.1 325,758.3 327.5,756.5 329.8,754.7 332.2,753 334.6,751.2 337,749.4 339.3,747.6 341.7,745.8 344.1,743.9 346.6,742.1 349,740.3 351.5,738.4 354,736.6 356.5,734.8 359,733 361.4,731.3 363.7,729.6 366.1,727.8 368.6,726.1 371.1,724.2 373.7,722.4 376.3,720.6 379.1,718.7 381.9,716.9 384.8,715.2 387.8,713.5 390.9,711.9 394,710.4 397.2,709 400.2,707.7 403.3,706.4 406.3,705.3 409.3,704.2 412.4,703.1 415.4,702.2 418.3,701.2 421.3,700.3 424.3,699.4 427.3,698.4" fill="none" stroke="#111" stroke-width="1.5" />
<path d="M285.2,866.7 282,862.2 279.6,857.7 277.8,853.4 276.9,849.1 276.7,845 277.2,840.9 278.5,837 280.5,833.1 283.3,829.3 286.8,825.7 291,822.1 291,822.1 293,820.7 295.3,818.9 297.7,817.1 300.1,815.3 302.5,813.6 304.9,811.8 307.4,810 309.8,808.2 312.2,806.4 314.6,804.6 317,802.8 319.4,801.1 321.8,799.3 324.3,797.5 326.7,795.7 329.1,793.9 331.5,792.1 333.9,790.3 336.3,788.5 338.7,786.7 341.1,785 343.5,783.2 346,781.4 348.4,779.6 350.8,777.7 353.2,775.9 355.6,774.1 358,772.3 360.4,770.5 362.8,768.7 365.2,766.9 367.5,765.1 369.9,763.4 372.2,761.7 374.6,760 377,758.2 379.5,756.5 382,754.7 384.4,752.9 386.8,751.1 389.2,749.4 391.5,747.8 393.7,746.2 396,744.7 398.2,743.3 400.4,742 402.7,740.7 404.9,739.5 407.2,738.4 409.5,737.4 412,736.3 414.5,735.3 417.1,734.4 419.7,733.4 422.3,732.5 425,731.6 427.8,730.7" fill="none" stroke="#111" stroke-width="1.5" />
<path d="M225.3,772.2 229.8,777.5 234.5,781.8 239.3,785.2 244.2,787.8 249.2,789.4 254.3,790 259.6,789.8 265,788.7 270.5,786.6 276.1,783.6 281.9,779.7 281.9,779.7 283.9,778.2 286.3,776.4 288.7,774.7 291.1,772.9 293.5,771.1 295.9,769.3 298.3,767.5 300.7,765.8 303.1,764 305.5,762.2 307.9,760.4 310.4,758.6 312.8,756.8 315.2,755 317.6,753.3 320,751.5 322.4,749.7 324.8,747.9 327.1,746.2 329.5,744.4 331.8,742.6 334.2,740.8 336.6,739 339,737.1 341.5,735.3 344,733.5 346.4,731.6 349,729.8 351.5,727.9 354,726.1 356.4,724.4 358.7,722.7 361.1,721 363.6,719.2 366.1,717.3 368.8,715.5 371.6,713.5 374.4,711.6 377.4,709.7 380.5,707.8 383.8,706 387.1,704.3 390.4,702.6 393.8,701.2 397,699.8 400.2,698.5 403.3,697.3 406.5,696.2 409.6,695.1 412.7,694.1 415.8,693.1 418.8,692.1 421.8,691.2 424.9,690.3 428.1,689.4" fill="none" stroke="#111" stroke-width="0.9" />
<path d="M291.8,857.3 289.8,854.4 288.2,851.7 287.2,849 286.6,846.3 286.4,843.7 286.8,841.2 287.6,838.7 288.8,836.3 290.5,834 292.7,831.7 295.4,829.4 295.4,829.4 295.7,829.3 298,827.5 300.4,825.7 302.8,823.9 305.2,822.2 307.6,820.4 310,818.6 312.4,816.8 314.8,815 317.2,813.3 319.7,811.5 322.1,809.7 324.5,807.9 326.9,806.1 329.3,804.3 331.7,802.5 334.1,800.7 336.6,798.9 339,797.2 341.4,795.4 343.8,793.6 346.2,791.8 348.6,790 351,788.2 353.5,786.4 355.9,784.5 358.4,782.7 360.8,780.9 363.2,779.1 365.6,777.3 367.9,775.5 370.3,773.7 372.6,772 374.9,770.2 377.2,768.5 379.6,766.9 381.9,765.2 384.5,763.4 387,761.5 389.4,759.7 391.8,758 394.1,756.3 396.4,754.7 398.5,753.3 400.6,751.9 402.7,750.5 404.7,749.3 406.7,748.2 408.7,747.1 410.8,746.1 412.9,745.2 415.2,744.2 417.6,743.3 420,742.3 422.5,741.4 425.1,740.6 427.7,739.7" fill="none" stroke="#111" stroke-width="0.9" />
<path d="M225.9,773 229.3,776.9 232.8,780.2 236.4,782.8 240.1,784.6 243.8,785.8 247.7,786.3 251.6,786.2 255.7,785.3 259.8,783.7 264,781.5 268.3,778.5 268.3,778.5 268.8,778.2 271.3,776.4 273.7,774.6 276.1,772.8 278.5,771 280.9,769.2 283.4,767.4 285.7,765.7 288.1,763.9 290.5,762.1 293,760.3 295.4,758.5 297.8,756.7 300.2,755 302.6,753.2 305,751.4 307.4,749.6 309.8,747.8 312.2,746 314.6,744.2 317,742.5 319.4,740.7 321.7,739 324,737.2 326.4,735.4 328.8,733.6 331.2,731.8 333.6,730 336.1,728.1 338.6,726.2 341.1,724.4 343.7,722.5 346.3,720.6 348.8,718.8 351.1,717.1 353.4,715.5 355.8,713.7 358.3,711.9 360.9,710 363.6,708.1 366.5,706.1 369.5,704.1 372.7,702.1 376,700.1 379.5,698.1 383,696.3 386.6,694.5 390.2,692.9 393.6,691.5 396.9,690.1 400.2,688.9 403.5,687.7 406.8,686.6 409.9,685.5 413,684.5 416.1,683.6 419.2,682.6 422.3,681.7 425.7,680.7 429.1,679.8" fill="none" stroke="#111" stroke-width="0.9" />
<path d="M292.4,858.1 291.2,856.4 290.3,854.7 289.6,853.1 289.3,851.5 289.2,849.9 289.4,848.4 289.9,846.9 290.6,845.5 291.7,844.1 293,842.7 294.6,841.3 294.6,841.3 296.4,840 298.7,838.2 301.1,836.5 303.4,834.7 305.8,832.9 308.2,831.2 310.5,829.4 312.9,827.6 315.3,825.9 317.8,824.1 320.2,822.3 322.6,820.5 325,818.7 327.4,816.9 329.9,815.1 332.3,813.3 334.7,811.5 337.1,809.7 339.5,808 341.9,806.2 344.3,804.4 346.7,802.6 349.2,800.8 351.6,799 354,797.2 356.4,795.4 358.8,793.6 361.3,791.7 363.8,789.9 366.2,788.1 368.6,786.2 371,784.4 373.3,782.7 375.7,780.9 378,779.2 380.3,777.5 382.5,775.8 384.8,774.2 387.2,772.5 389.7,770.7 392.3,768.8 394.7,767 397.1,765.3 399.4,763.7 401.5,762.1 403.6,760.7 405.5,759.4 407.4,758.2 409.3,757.1 411,756.1 412.8,755.2 414.6,754.3 416.5,753.4 418.6,752.5 420.9,751.6 423.2,750.8 425.5,749.9 427.9,749.1" fill="none" stroke="#111" stroke-width="0.9" />
<path d="M1684,1113.6 Q1693,1114 1696.5,1100" fill="none" stroke="#222" stroke-width="0.9"/>
<path d="M1692,1104 Q1695,1100 1696.5,1090" fill="none" stroke="#222" stroke-width="0.9"/>
<path d="M1684,1177 Q1694,1178 1696,1195" fill="none" stroke="#222" stroke-width="0.9"/>
<path d="M428,770 430.3,769.1 432.5,768.4 434.6,767.9 436.6,767.7 438.4,767.7 440,768 441.3,768.4 442.3,769 443.2,769.8 444,771 444.9,772.7 446,775 447.3,778.1 448.6,781.8 449.9,786.1 451.4,790.6 453.1,795.3 455,800 457.2,804.8 459.7,810 462.4,815.2 465.1,820.5 467.7,825.5 470,830 472.2,834.2 474.5,838.1 476.7,841.8 478.6,845.2 480.1,848.3 481,851 482,852.8 483.5,853.6 484.5,854 484.3,854.8 482.1,856.6 477,860 467.7,865.8 454.5,873.6 439.3,882.4 423.9,891.3 410.2,899.1 400,905 393.6,908.9 389.7,911.5 387.4,913.1 386,914.1 384.8,914.6 383,915 381,915.2 379.5,915.1 378.1,914.5 376.6,913.5 374.7,912 372,910 368.1,907.2 363.3,903.5 357.9,899.3 352.7,895.1 348.2,891.2 345,888 342.8,886.2 341,885.6 340,885.2 339.9,884.4 340.8,882.3 343,878 347,870.9 352.6,861.6 359.4,850.9 366.6,839.8 373.7,829.2 380,820 385.8,811.9 391.6,804.2 397.3,797 402.7,790.4 407.7,784.7 412,780 415.6,776.5 418.7,774.1 421.2,772.6 423.6,771.6 425.8,770.9 428,770Z" fill="none" stroke="#111" stroke-width="1.0"/>
<path d="M430,778 431.8,777.2 433.3,776.6 434.6,776.1 435.8,775.9 436.9,775.8 438,776 439,776.4 439.8,776.9 440.5,777.6 441.2,778.6 442,780 443,782 444.1,784.6 445.2,787.7 446.4,791.2 447.8,795 449.3,799 451,803 453,807.2 455.4,811.9 457.9,816.6 460.5,821.4 462.9,825.9 465,830 466.9,833.8 468.8,837.4 470.6,840.8 472.1,843.9 473.3,846.7 474,849 475,850.3 476.5,850.6 477.6,850.5 477.6,850.7 475.7,852 471,855 462.2,860.4 449.7,867.9 435.2,876.3 420.6,884.8 407.6,892.4 398,898 392.2,901.6 388.7,904 386.9,905.4 386,906.2 385.2,906.6 384,907 382.6,907.2 381.8,907.1 381.2,906.7 380.4,905.9 379.1,904.6 377,903 373.6,900.7 369.1,897.6 364.1,894.1 359.2,890.6 355,887.5 352,885 350,883.9 348.6,884 347.8,884.4 347.9,884.3 348.9,882.8 351,879 354.7,872.3 359.9,863.3 366.1,852.9 372.7,842.1 379.2,831.8 385,823 390.4,815.4 395.9,808.2 401.2,801.5 406.3,795.5 410.9,790.3 415,786 418.4,782.9 421.4,781 423.9,779.8 426.1,779.1 428.1,778.7 430,778Z" fill="none" stroke="#111" stroke-width="1.0"/>
<path d="M432,785 433.4,784.4 434.4,784 435.2,783.8 435.8,783.7 436.4,783.8 437,784 437.6,784.3 438,784.8 438.4,785.4 438.8,786.2 439.3,787.4 440,789 440.9,791.1 441.8,793.5 442.9,796.3 444.1,799.4 445.4,802.6 447,806 448.9,809.7 451.1,813.8 453.5,818.1 455.9,822.3 458.1,826.4 460,830 461.6,833.3 463.1,836.4 464.4,839.2 465.6,841.9 466.4,844.1 467,846 468,846.9 469.4,846.9 470.7,846.5 470.9,846.4 469.3,847.4 465,850 456.8,855 445.1,861.9 431.6,869.8 417.9,877.7 405.8,884.8 397,890 391.8,893.3 388.9,895.4 387.6,896.6 387.1,897.3 386.8,897.6 386,898 385,898.4 384.5,898.6 384.2,898.4 383.7,898 382.7,897.2 381,896 378.1,894.1 374.1,891.6 369.8,888.6 365.4,885.7 361.6,883 359,881 357.2,880.2 355.9,880.6 355.1,881.2 355.1,881.4 356,880.3 358,877 361.5,871 366.4,862.9 372.2,853.4 378.4,843.5 384.5,834.1 390,826 395.1,819 400.1,812.4 405.1,806.2 409.9,800.7 414.2,795.9 418,792 421.2,789.2 424,787.4 426.4,786.4 428.5,785.9 430.3,785.5 432,785Z" fill="none" stroke="#333" stroke-width="0.7" stroke-dasharray="12 6"/>
<path d="M417,757.7 439.1,749.5 444,771.7 421.1,777.4Z" fill="#4a4a4a" stroke="none" stroke-width="1" />
<path d="M414.5,765 340.7,881.6 350,905 366,925 385,935 401.4,946.4 503.1,879.9 503,836 498,810" fill="none" stroke="#222" stroke-width="0.8" />
<circle cx="400" cy="785" r="1.8" fill="#fff" stroke="#222" stroke-width="0.7"/>
<circle cx="387" cy="805" r="1.8" fill="#fff" stroke="#222" stroke-width="0.7"/>
<circle cx="374" cy="827" r="1.8" fill="#fff" stroke="#222" stroke-width="0.7"/>
<circle cx="362" cy="848" r="1.8" fill="#fff" stroke="#222" stroke-width="0.7"/>
<circle cx="350" cy="868" r="1.8" fill="#fff" stroke="#222" stroke-width="0.7"/>
<circle cx="356" cy="902" r="1.8" fill="#fff" stroke="#222" stroke-width="0.7"/>
<circle cx="372" cy="925" r="1.8" fill="#fff" stroke="#222" stroke-width="0.7"/>
<circle cx="451" cy="915" r="1.8" fill="#fff" stroke="#222" stroke-width="0.7"/>
<circle cx="472" cy="902" r="1.8" fill="#fff" stroke="#222" stroke-width="0.7"/>
<circle cx="492" cy="887" r="1.8" fill="#fff" stroke="#222" stroke-width="0.7"/>
<circle cx="503" cy="855" r="1.8" fill="#fff" stroke="#222" stroke-width="0.7"/>
<circle cx="501" cy="826" r="1.8" fill="#fff" stroke="#222" stroke-width="0.7"/>
<circle cx="414" cy="781" r="3.4" fill="#fff" stroke="#111" stroke-width="1"/>
<rect x="474" y="846" width="8" height="7" fill="#111" transform="rotate(30 478 849.5)"/>
<path d="M478,851 596,871 690,873" fill="none" stroke="#111" stroke-width="1.6" />
<path d="M446,779 500,700" fill="none" stroke="#111" stroke-width="1.8" />
<rect x="443" y="775" width="7" height="7" fill="#111" transform="rotate(30 446.5 778.5)"/>
<path d="M239,739 290,700.6 309,726.5 258,763.4Z" fill="none" stroke="#333" stroke-width="0.8" />
<path d="M245,731 285,702" fill="none" stroke="#111" stroke-width="1.9" stroke-dasharray="10 5" />
<path d="M252,742 296,710" fill="none" stroke="#111" stroke-width="1.9" stroke-dasharray="10 5" />
<path d="M259,753 302,722" fill="none" stroke="#111" stroke-width="1.9" stroke-dasharray="10 5" />
<path d="M244,755 263,741" fill="none" stroke="#111" stroke-width="1.9" />
<g transform="translate(221.5,636) rotate(32)"><rect x="-20" y="-3.5" width="40" height="7" fill="#222"/><path d="M-19,-1.5 h38 M-19,1.5 h38" stroke="#aaa" stroke-width="0.8" stroke-dasharray="1.5 1.5"/></g>
<path d="M240.6,648.6 306,700.6 380,757 414,781" fill="none" stroke="#111" stroke-width="1.6" />
<path d="M250,756 268,781" fill="none" stroke="#111" stroke-width="1.6" />
<rect x="247" y="752" width="6" height="6" fill="#111"/>
<path d="M420,519 488,519" fill="none" stroke="#222" stroke-width="0.9" />
<rect x="441.6" y="516" width="4" height="5" fill="#222"/>
<path d="M498,551.2 521,551.2" fill="none" stroke="#222" stroke-width="0.9" />
<rect x="518.5" y="549" width="4" height="5" fill="#222"/>
<path d="M440.5,569.3 521,574.4" fill="none" stroke="#222" stroke-width="0.9" />
<path d="M420,601 489,601" fill="none" stroke="#222" stroke-width="0.9" />
<rect x="440.5" y="598.5" width="4" height="5" fill="#222"/>
<path d="M494,637.7 521,637" fill="none" stroke="#222" stroke-width="0.9" />
<rect x="518.5" y="635" width="4" height="5" fill="#222"/>
<path d="M440.5,653.6 525,659.4" fill="none" stroke="#222" stroke-width="0.9" />
<rect x="271.2" y="801.9" width="9" height="3.6" fill="#111" transform="rotate(-38 275.7 803.7)"/>
<rect x="275.6" y="808.5" width="9" height="3.6" fill="#111" transform="rotate(-38 280.1 810.3)"/>
<rect x="280.1" y="814.9" width="9" height="3.6" fill="#111" transform="rotate(-38 284.6 816.7)"/>
<rect x="283.8" y="820.4" width="9" height="3.6" fill="#111" transform="rotate(-38 288.3 822.2)"/>
<path d="M294.8,788.9 309,813" fill="none" stroke="#111" stroke-width="2.2" />
<path d="M285,794.4 293.7,803.1" fill="none" stroke="#111" stroke-width="2.0" />
<path d="M450.8,225 450.8,330" fill="none" stroke="#222" stroke-width="0.8" stroke-dasharray="14 6" />
<path d="M483,225 483,330" fill="none" stroke="#333" stroke-width="0.7" stroke-dasharray="6 4" />
<path d="M497.3,225 494.7,505 491.1,520" fill="none" stroke="#111" stroke-width="2.6" />
<path d="M506.8,225 506.8,330" fill="none" stroke="#333" stroke-width="0.7" stroke-dasharray="6 4" />
<path d="M520,225 520,334" fill="none" stroke="#444" stroke-width="0.7" />
<path d="M523.7,225 523.7,334" fill="none" stroke="#222" stroke-width="0.8" stroke-dasharray="14 6" />
<path d="M476.9,342 476.9,505 473.5,520" fill="none" stroke="#111" stroke-width="2.4" />
<path d="M484.3,407 484.3,510 481.5,520" fill="none" stroke="#222" stroke-width="1.0" />
<path d="M477,356 562,357 605,357.5" fill="none" stroke="#222" stroke-width="0.9" />
<path d="M495,419 590,419.5" fill="none" stroke="#222" stroke-width="0.9" />
<rect x="569" y="416.5" width="5" height="5" fill="#222"/>
<path d="M470,468.7 552,469.5 575,469.7" fill="none" stroke="#222" stroke-width="0.9" />
<path d="M470,474.9 556,475.7 580,476" fill="none" stroke="#222" stroke-width="0.9" />
<path d="M470,690 500,700" fill="none" stroke="#111" stroke-width="1.6" />
<path d="M456,685 497,697 520,690" fill="none" stroke="#111" stroke-width="1.3" />
<path d="M608.7,740.5 674.4,841 634.4,867.2 568.7,766.7Z" fill="none" stroke="#222" stroke-width="0.9" />
<path d="M599,746.7 667.4,851.3" fill="none" stroke="#111" stroke-width="2.2" stroke-dasharray="25 10" />
<path d="M588.7,751.8 657.1,856.4" fill="none" stroke="#111" stroke-width="2.2" stroke-dasharray="25 10" />
<path d="M579.5,760 647.9,864.6" fill="none" stroke="#111" stroke-width="2.2" stroke-dasharray="25 10" />
<path d="M508,801 560,772.3 575.4,754.9 595.9,741.5 613.3,768.2" fill="none" stroke="#111" stroke-width="2.0" />
<rect x="572" y="751.5" width="7" height="7" fill="#111"/>
<path d="M579,757 608.7,740.5" fill="none" stroke="#222" stroke-width="0.8" />
<path d="M725,917 708,1000 700,1020" fill="none" stroke="#111" stroke-width="1.8" />
<path d="M752,912 826,990" fill="none" stroke="#111" stroke-width="1.8" />
<path d="M708.8,999.1 803,1037.4 953.3,1105.2" fill="none" stroke="#111" stroke-width="2.0" />
<path d="M752,1016 800,1050 841.4,1081.6 927,1108" fill="none" stroke="#111" stroke-width="1.6" />
<path d="M953.3,1103 953.3,1137" fill="none" stroke="#111" stroke-width="2.2" />
<path d="M900,1126 1045,1130 1213,1138" fill="none" stroke="none" stroke-width="0.1" />
<circle cx="901" cy="1124.5" r="3.5" fill="#fff" stroke="#111" stroke-width="1.2"/>
<path d="M1217,1085 1215,1137" fill="none" stroke="#111" stroke-width="1.8" />
<path d="M1211,1106 1250,1147" fill="none" stroke="#111" stroke-width="1.8" />
<circle cx="1213.5" cy="1139.5" r="3.5" fill="#fff" stroke="#111" stroke-width="1.2"/>
<path d="M950,1136.9 950,1160.9" fill="none" stroke="#222" stroke-width="0.8" />
<path d="M955,1136.9 955,1160.9" fill="none" stroke="#222" stroke-width="0.8" />
<rect x="948.5" y="1159.4" width="8" height="3" fill="#333"/>
<path d="M1083,1141.7 1083,1165.7" fill="none" stroke="#222" stroke-width="0.8" />
<path d="M1088,1141.7 1088,1165.7" fill="none" stroke="#222" stroke-width="0.8" />
<rect x="1081.5" y="1164.2" width="8" height="3" fill="#333"/>
<path d="M1209,1146.3 1209,1170.3" fill="none" stroke="#222" stroke-width="0.8" />
<path d="M1214,1146.3 1214,1170.3" fill="none" stroke="#222" stroke-width="0.8" />
<rect x="1207.5" y="1168.8" width="8" height="3" fill="#333"/>
<path d="M1337,1150.9 1337,1174.9" fill="none" stroke="#222" stroke-width="0.8" />
<path d="M1342,1150.9 1342,1174.9" fill="none" stroke="#222" stroke-width="0.8" />
<rect x="1335.5" y="1173.4" width="8" height="3" fill="#333"/>
<path d="M1466,1155.6 1466,1179.6" fill="none" stroke="#222" stroke-width="0.8" />
<path d="M1471,1155.6 1471,1179.6" fill="none" stroke="#222" stroke-width="0.8" />
<rect x="1464.5" y="1178.1" width="8" height="3" fill="#333"/>
<path d="M1596,1160.3 1596,1184.3" fill="none" stroke="#222" stroke-width="0.8" />
<path d="M1601,1160.3 1601,1184.3" fill="none" stroke="#222" stroke-width="0.8" />
<rect x="1594.5" y="1182.8" width="8" height="3" fill="#333"/>
<path d="M1015,1154.7 1015,1168.7" fill="none" stroke="#222" stroke-width="0.8" />
<path d="M1010,1162.7 1015,1158.7 1020,1162.7" fill="none" stroke="#222" stroke-width="0.9" />
<path d="M1147,1159.5 1147,1173.5" fill="none" stroke="#222" stroke-width="0.8" />
<path d="M1142,1167.5 1147,1163.5 1152,1167.5" fill="none" stroke="#222" stroke-width="0.9" />
<path d="M1274,1164.1 1274,1178.1" fill="none" stroke="#222" stroke-width="0.8" />
<path d="M1269,1172.1 1274,1168.1 1279,1172.1" fill="none" stroke="#222" stroke-width="0.9" />
<path d="M1402,1168.7 1402,1182.7" fill="none" stroke="#222" stroke-width="0.8" />
<path d="M1397,1176.7 1402,1172.7 1407,1176.7" fill="none" stroke="#222" stroke-width="0.9" />
<path d="M1532,1173.5 1532,1187.5" fill="none" stroke="#222" stroke-width="0.8" />
<path d="M1527,1181.5 1532,1177.5 1537,1181.5" fill="none" stroke="#222" stroke-width="0.9" />
<path d="M951,1102.9 951,1078.9" fill="none" stroke="#222" stroke-width="0.8" />
<path d="M956,1102.9 956,1078.9" fill="none" stroke="#222" stroke-width="0.8" />
<rect x="949.5" y="1077.4" width="8" height="3" fill="#333"/>
<path d="M1084,1107.7 1084,1083.7" fill="none" stroke="#222" stroke-width="0.8" />
<path d="M1089,1107.7 1089,1083.7" fill="none" stroke="#222" stroke-width="0.8" />
<rect x="1082.5" y="1082.2" width="8" height="3" fill="#333"/>
<path d="M1153,1110.2 1153,1086.2" fill="none" stroke="#222" stroke-width="0.8" />
<path d="M1158,1110.2 1158,1086.2" fill="none" stroke="#222" stroke-width="0.8" />
<rect x="1151.5" y="1084.7" width="8" height="3" fill="#333"/>
<path d="M1243,1113.5 1243,1089.5" fill="none" stroke="#222" stroke-width="0.8" />
<path d="M1248,1113.5 1248,1089.5" fill="none" stroke="#222" stroke-width="0.8" />
<rect x="1241.5" y="1088" width="8" height="3" fill="#333"/>
<path d="M1461,1121.4 1461,1097.4" fill="none" stroke="#222" stroke-width="0.8" />
<path d="M1466,1121.4 1466,1097.4" fill="none" stroke="#222" stroke-width="0.8" />
<rect x="1459.5" y="1095.9" width="8" height="3" fill="#333"/>
<path d="M1598,1126.4 1598,1102.4" fill="none" stroke="#222" stroke-width="0.8" />
<path d="M1603,1126.4 1603,1102.4" fill="none" stroke="#222" stroke-width="0.8" />
<rect x="1596.5" y="1100.9" width="8" height="3" fill="#333"/>
<path d="M1019,1105.4 1019,1139.4" fill="none" stroke="#222" stroke-width="1.0" />
<path d="M1105,1108.5 1105,1142.5" fill="none" stroke="#222" stroke-width="1.0" />
<path d="M1206,1112.1 1206,1146.1" fill="none" stroke="#222" stroke-width="1.0" />
<path d="M1461,1121.4 1461,1155.4" fill="none" stroke="#222" stroke-width="1.0" />
<path d="M1102.5,1345.8 1168.1,1346.8 1167.1,1387.9 1134.1,1387.9 1134.1,1397 1102.5,1396.3Z" fill="none" stroke="#111" stroke-width="1.4"/>
<path d="M1173.9,1355.2 1209.2,1355.2 1209.2,1348.5 1249.6,1349.2 1249,1385.5 1217.6,1385.5 1217.6,1399.7 1190,1399.7 1190,1403 1173.2,1403Z" fill="none" stroke="#111" stroke-width="1.4"/>
<path d="M1256.7,1350.3 1321.7,1354.5 1319.3,1403.2 1285.9,1401.5 1285.2,1394.9 1255.6,1391.4Z" fill="none" stroke="#111" stroke-width="1.4"/>
<path d="M1343.3,1353.8 1407.9,1358 1405.9,1397.3 1375.6,1396.2 1374.9,1405.3 1340.8,1403.5Z" fill="none" stroke="#111" stroke-width="1.4"/>
<path d="M1419.1,1359 1482.3,1362.5 1479.9,1412.9 1445.1,1411.2 1444.5,1404.9 1416.6,1404.2Z" fill="none" stroke="#111" stroke-width="1.4"/>
<path d="M1506,1347.9 1573.8,1351 1571.4,1414 1533.8,1412.2 1533.1,1399.7 1527.9,1399 1527.9,1396.2 1507.7,1395.5 1507.7,1379.9 1505,1378.9Z" fill="none" stroke="#111" stroke-width="1.4"/>
<path d="M1584.9,1349.7 1631.2,1351 1631.2,1397.3 1634,1398 1634,1415.7 1583.5,1414.7Z" fill="none" stroke="#111" stroke-width="1.4"/>
<path d="M1374.7,671.7 1407.5,672.5 1407.5,682 1409.7,682 1409.7,715.4 1374.7,714.9Z" fill="none" stroke="#111" stroke-width="1.4"/>
<path d="M1376.4,719 1406.5,719.2 1406.5,749.5 1409,750 1409,779.5 1377,779.5 1376.8,754 1375.5,753Z" fill="none" stroke="#111" stroke-width="1.4"/>
<path d="M1456.4,726.9 1486.5,728.5 1486.5,735 1518.5,737 1516.8,772.9 1548.9,775.2 1547.2,799.7 1489,795.5 1490.7,772 1453.8,769.7Z" fill="none" stroke="#111" stroke-width="1.4"/>
<path d="M1389.1,951.5 1455.1,953.8 1454.5,998.9 1438.9,998.6 1438.6,1011.4 1406.5,1010.2 1406.5,998.6 1388.8,998Z" fill="none" stroke="#111" stroke-width="1.4"/>
<path d="M1455.6,953 L1455.6,934.7 L1500.2,936.4 L1501.4,910.7 L1566.2,914.2 L1565.3,932.1 L1574.9,933 L1573.5,957.3 L1564.4,956.4 L1563.2,984.2 L1521,981.6 L1519.8,994.6 Q1520,1010 1533.2,1011.1 L1639.6,1015.1 L1640.5,984.7 L1673,986.3" fill="none" stroke="#111" stroke-width="1.3"/>
<path d="M1673,990 Q1672,1040 1623.5,1041.5" fill="none" stroke="#111" stroke-width="1.6"/>
<path d="M1672,1095 Q1672,1130 1640,1133" fill="none" stroke="#222" stroke-width="0.8"/>
<path d="M1376,982 1408,983.5" fill="none" stroke="#222" stroke-width="0.8" />
<path d="M1381,987 1391,977" fill="none" stroke="#111" stroke-width="0.9" />
<path d="M1384,988 1394,978" fill="none" stroke="#111" stroke-width="0.9" />
<path d="M208,1101 208,1178" fill="none" stroke="#222" stroke-width="0.9" />
<path d="M207.8,1118 207.8,1168 200.5,1165 203,1160 206,1140Z" fill="#7a7a7a" stroke="#222" stroke-width="0.6" />
<path d="M207.8,1194 212.5,1205 214.3,1247 209,1240 207.8,1235Z" fill="#7a7a7a" stroke="#222" stroke-width="0.6" />
<path d="M207.8,1192 208,1235" fill="none" stroke="#222" stroke-width="0.9" />
<path d="M193,1185.5 199,1185.5" fill="none" stroke="#222" stroke-width="0.8" />
<path d="M217,1185.5 223,1185.5" fill="none" stroke="#222" stroke-width="0.8" />
<text x="208" y="1190" font-size="12" text-anchor="middle" font-family="Liberation Serif" font-weight="bold">N</text>
<rect x="269.9" y="1243.2" width="121.5" height="7.4" fill="#fff" stroke="#111" stroke-width="1"/>
<rect x="269.9" y="1243.2" width="5.1" height="3.7" fill="#111"/>
<rect x="275" y="1246.9" width="5.1" height="3.7" fill="#111"/>
<rect x="280" y="1246.9" width="5.1" height="3.7" fill="#111"/>
<rect x="285.1" y="1243.2" width="5.1" height="3.7" fill="#111"/>
<rect x="290.1" y="1243.2" width="5.1" height="3.7" fill="#111"/>
<rect x="295.2" y="1246.9" width="5.1" height="3.7" fill="#111"/>
<rect x="300.3" y="1246.9" width="5.1" height="3.7" fill="#111"/>
<rect x="305.3" y="1243.2" width="5.1" height="3.7" fill="#111"/>
<rect x="310.4" y="1246.9" width="20.2" height="3.7" fill="#111"/>
<rect x="330.6" y="1243.2" width="20.2" height="3.7" fill="#111"/>
<rect x="350.9" y="1246.9" width="40.5" height="3.7" fill="#111"/>
<g fill="#000">
<text transform="translate(270.5,1235.8)" x="-4.05" y="3.8" font-size="11.01" >0'</text>
<text transform="translate(309.8,1235.8)" x="-7.16" y="3.8" font-size="11.01" >25'</text>
<text transform="translate(350.2,1235.8)" x="-7.1" y="3.8" font-size="11.01" >50'</text>
<text transform="translate(390.6,1235.8)" x="-7.16" y="3.8" font-size="11.01" >75'</text>
<text transform="translate(329.6,1261.7)" x="-27.47" y="3.9" font-size="11.3" >50' SCALE</text>
</g>
<path d="M796,316.5 L992.5,317.1" stroke="#333" stroke-width="0.9" stroke-dasharray="14 6"/>
<text transform="translate(1011.43,320.8) scale(0.9244,1)" font-size="12.32" >COUNTY LIDAR CONTOUR</text>
<path d="M796,343.3 L992.5,343.90000000000003" stroke="#444" stroke-width="0.8" stroke-dasharray="7 4"/>
<text transform="translate(1011.94,347.6) scale(0.9245,1)" font-size="12.32" >WSE TOPO MINOR CONTOUR</text>
<path d="M796,370.2 L992.5,370.8" stroke="#111" stroke-width="2.0"/>
<text transform="translate(1011.09,374.5) scale(0.9263,1)" font-size="12.32" >PROPOSED MAJOR CONTOUR</text>
<path d="M796,397 L992.5,397.6" stroke="#111" stroke-width="1.3"/>
<text transform="translate(1011.09,401.3) scale(0.9232,1)" font-size="12.32" >PROPOSED MINOR CONTOUR</text>
<path d="M796,423.7 L992.5,424.3" stroke="#111" stroke-width="1.4" stroke-dasharray="86 11 12 7 12 11 300"/>
<text transform="translate(1012,428) scale(0.9292,1)" font-size="12.32" >APPLICANTS PARCEL LINES</text>
<path d="M796,450.6 L992.5,451.20000000000005" stroke="#444" stroke-width="0.9" stroke-dasharray="86 11 12 7 12 11 300"/>
<text transform="translate(1011.08,454.9) scale(0.9299,1)" font-size="12.32" >NEIGHBORING PARCELS</text>
<rect x="796" y="469.3" width="196.5" height="16.5" fill="#c9c9c9" stroke="#222" stroke-width="1"/>
<text transform="translate(1011.08,481.9) scale(0.9301,1)" font-size="12.32" >EXISTING GRAVEL</text>
<rect x="796" y="496.2" width="196.5" height="16.5" fill="#ababab" stroke="#222" stroke-width="1"/>
<text transform="translate(1011.08,508.8) scale(0.9347,1)" font-size="12.32" >EXISTING ASPHALT</text>
<rect x="796" y="523.1" width="196.5" height="16.5" fill="#8a8a8a" stroke="#222" stroke-width="1"/>
<text transform="translate(1011.08,535.7) scale(0.9386,1)" font-size="12.32" >PROPOSED ASPHALT</text>
<g fill="#000" stroke="#000" stroke-width="0.2">
<text transform="translate(600.7,296.2)" x="-6.82" y="4.2" font-size="12.17" >23</text>
<text transform="translate(622.8,418.5)" x="-6.88" y="4.2" font-size="12.17" >24</text>
<text transform="translate(599.4,515.9)" x="-6.82" y="4.2" font-size="12.17" >25</text>
<text transform="translate(598,597.9)" x="-6.82" y="4.2" font-size="12.17" >26</text>
<text transform="translate(597.4,681.6)" x="-6.76" y="4.2" font-size="12.17" >27</text>
<text transform="translate(365.8,471.8)" x="-6.76" y="4.2" font-size="12.17" >22</text>
<text transform="translate(365,559)" x="-6.79" y="4.2" font-size="12.17" >21</text>
<text transform="translate(364.1,642.3)" x="-6.85" y="4.2" font-size="12.17" >20</text>
<text transform="translate(479.4,948.8)" x="-6.94" y="4.2" font-size="12.17" >19</text>
<text transform="translate(536.2,1011.7)" x="-6.97" y="4.2" font-size="12.17" >18</text>
<text transform="translate(587.8,1079.6)" x="-6.91" y="4.2" font-size="12.17" >17</text>
<text transform="translate(645.3,1148.6)" x="-6.97" y="4.2" font-size="12.17" >16</text>
<text transform="translate(708.2,1198.7)" x="-6.97" y="4.2" font-size="12.17" >15</text>
<text transform="translate(774.2,1226.3)" x="-7.03" y="4.2" font-size="12.17" >14</text>
<text transform="translate(845.6,1231.3)" x="-6.97" y="4.2" font-size="12.17" >13</text>
<text transform="translate(914.9,1236)" x="-6.91" y="4.2" font-size="12.17" >12</text>
<text transform="translate(982.6,1235.7)" x="-6.48" y="4.2" font-size="12.17" >11</text>
<text transform="translate(1046.9,1234)" x="-7" y="4.2" font-size="12.17" >10</text>
<text transform="translate(1111.6,1243.8)" x="-3.38" y="4.2" font-size="12.17" >9</text>
<text transform="translate(1175.9,1246.1)" x="-3.41" y="4.2" font-size="12.17" >8</text>
<text transform="translate(1240.2,1248.5)" x="-3.38" y="4.2" font-size="12.17" >7</text>
<text transform="translate(1304.3,1250.6)" x="-3.44" y="4.2" font-size="12.17" >6</text>
<text transform="translate(1368.7,1253)" x="-3.38" y="4.2" font-size="12.17" >5</text>
<text transform="translate(1433.7,1255.8)" x="-3.32" y="4.2" font-size="12.17" >4</text>
<text transform="translate(1498,1258.2)" x="-3.38" y="4.2" font-size="12.17" >3</text>
<text transform="translate(1562.7,1260.3)" x="-3.38" y="4.2" font-size="12.17" >2</text>
<text transform="translate(1631.2,1262.4)" x="-3.56" y="4.2" font-size="12.17" >1</text>
<text transform="translate(948.1,820.1)" x="-6.82" y="4.2" font-size="12.17" >28</text>
<text transform="translate(1129.6,826.2)" x="-6.76" y="4.2" font-size="12.17" >35</text>
<text transform="translate(1297.4,832)" x="-6.76" y="4.2" font-size="12.17" >36</text>
<text transform="translate(940.8,890.6)" x="-6.79" y="4.2" font-size="12.17" >29</text>
<text transform="translate(1115.3,897)" x="-6.82" y="4.2" font-size="12.17" >34</text>
<text transform="translate(1307.5,903.4)" x="-6.7" y="4.2" font-size="12.17" >37</text>
<text transform="translate(917.9,994.6)" x="-6.79" y="4.2" font-size="12.17" >30</text>
<text transform="translate(990.8,1005.3)" x="-6.73" y="4.2" font-size="12.17" >31</text>
<text transform="translate(1055.2,1007.4)" x="-6.7" y="4.2" font-size="12.17" >32</text>
<text transform="translate(1119.9,1010.1)" x="-6.76" y="4.2" font-size="12.17" >33</text>
<text transform="translate(1280.6,1015.3)" x="-6.76" y="4.2" font-size="12.17" >38</text>
<text transform="translate(1349.3,1017.8)" x="-6.73" y="4.2" font-size="12.17" >39</text>
<text transform="translate(244.13,382.9) scale(0.9738,1)" font-size="17.54" >BLOCK 3</text>
<text transform="translate(1099.32,818.9) scale(0.9530,1)" font-size="18.12" >BLOCK 2</text>
<text transform="translate(1210.25,1304.4) scale(0.9898,1)" font-size="17.1" >BLOCK 1</text>
<text transform="translate(337,316.5)" x="-37.28" y="4" font-size="11.59" >OPEN SPACE</text>
<text transform="translate(337,330)" x="-24.26" y="4" font-size="11.59" >TRACT F</text>
<text transform="translate(268,717.8)" x="-20.61" y="4" font-size="11.59" >STORM</text>
<text transform="translate(268,730.6)" x="-24.58" y="4" font-size="11.59" >TRACT E</text>
<text transform="translate(420.7,838.9)" x="-20.61" y="4" font-size="11.59" >STORM</text>
<text transform="translate(420.7,852.9)" x="-24.87" y="4" font-size="11.59" >TRACT D</text>
<text transform="translate(623.8,787.5)" x="-37.28" y="4" font-size="11.59" >OPEN SPACE</text>
<text transform="translate(624.4,801.7)" x="-24.93" y="4" font-size="11.59" >TRACT C</text>
<text transform="translate(747.7,879.9)" x="-20.61" y="4" font-size="11.59" >STORM</text>
<text transform="translate(748.4,893.4)" x="-24.52" y="4" font-size="11.59" >TRACT B</text>
<text transform="translate(1506.9,1064.4)" x="-37.28" y="4" font-size="11.59" >OPEN SPACE</text>
<text transform="translate(1506.9,1077.9)" x="-24.49" y="4" font-size="11.59" >TRACT A</text>
<text transform="translate(333,783) rotate(-35.5)" x="-25.17" y="4.5" font-size="13.04" >ROAD B</text>
<text transform="translate(1292,1128) scale(1.0115,1)" x="-26.82" y="4.8" font-size="13.91" >ROAD A</text>
<text transform="translate(1722.6,991.6) rotate(-90) scale(0.8216,1)" x="-94.15" y="7.1" font-size="20.58" >HAROLD DRIVE SE</text>
<text transform="translate(1719.7,650.2) rotate(-90) scale(0.8318,1)" x="-19.72" y="4.2" font-size="12.17" >543.26'</text>
<text transform="translate(1097,257.3)" x="-18.84" y="4" font-size="11.59" >649.57'</text>
<text transform="translate(1419.7,976.5)" x="-9.3" y="4" font-size="11.59" >1.7'</text>
<text transform="translate(344,1006.3) rotate(51.6) scale(1.1204,1)" x="-68.55" y="5.5" font-size="15.94" >SE LUND AVENUE</text>
<text transform="translate(1195.2,956) rotate(-90) scale(0.9002,1)" x="-100.86" y="4.3" font-size="12.46" >ACCESS AND UTILITY EASEMENT</text>
<text transform="translate(1206.8,992.6) rotate(-90) scale(0.8943,1)" x="-63.22" y="4.3" font-size="12.46" >FOR LOTS 34 AND 37</text>
<text transform="translate(443.14,201.2) scale(1.0232,1)" font-size="16.67" >PARCEL: 352401-4-019-2007</text>
<text transform="translate(443.99,221.3) scale(1.0265,1)" font-size="16.67" >ZONE: R2</text>
<text transform="translate(693.62,204.6) scale(0.9902,1)" font-size="17.39" >PARCEL: 4625-000-011-0202</text>
<text transform="translate(694.48,224.8) scale(0.9879,1)" font-size="17.39" >ZONE: R3</text>
<text transform="translate(856.3,302) scale(0.9306,1)" font-size="18.84" >LEGEND:</text>
</g>
<path d="M857.7,304.8 L931.6,305.2" stroke="#000" stroke-width="1.1"/>
<g>
<rect x="253.3" y="185.9" width="38.8" height="12.2" rx="6.1" fill="#fefefe" stroke="#111" stroke-width="1.1"/>
<text transform="translate(272.7,192.3)" x="-14.64" y="4" font-size="11.59" >4-002</text>
<rect x="33.5" y="399.9" width="38.9" height="12.2" rx="6.1" fill="#fefefe" stroke="#111" stroke-width="1.1"/>
<text transform="translate(53,406.3)" x="-14.7" y="4" font-size="11.59" >4-005</text>
<rect x="32.5" y="792.9" width="38.9" height="12.2" rx="6.1" fill="#fefefe" stroke="#111" stroke-width="1.1"/>
<text transform="translate(52,799.3)" x="-14.7" y="4" font-size="11.59" >4-005</text>
<rect x="48.5" y="1018.7" width="38.9" height="12.2" rx="6.1" fill="#fefefe" stroke="#111" stroke-width="1.1"/>
<text transform="translate(68,1025.1)" x="-14.7" y="4" font-size="11.59" >4-006</text>
<rect x="242.1" y="1173.6" width="39" height="12.2" rx="6.1" fill="#fefefe" stroke="#111" stroke-width="1.1"/>
<text transform="translate(261.6,1180)" x="-14.72" y="4" font-size="11.59" >4-020</text>
<rect x="412.4" y="1359.1" width="38.9" height="12.2" rx="6.1" fill="#fefefe" stroke="#111" stroke-width="1.1"/>
<text transform="translate(431.8,1365.5)" x="-14.67" y="4" font-size="11.59" >4-009</text>
<rect x="813.6" y="218.4" width="45.2" height="12.2" rx="6.1" fill="#fefefe" stroke="#111" stroke-width="1.1"/>
<text transform="translate(836.2,224.8)" x="-18.09" y="4" font-size="11.59" >013-00</text>
<rect x="747.1" y="676.7" width="45.1" height="12.2" rx="6.1" fill="#fefefe" stroke="#111" stroke-width="1.1"/>
<text transform="translate(769.6,683.1)" x="-18" y="4" font-size="11.59" >012-07</text>
<rect x="1574.4" y="740.7" width="45.1" height="12.2" rx="6.1" fill="#fefefe" stroke="#111" stroke-width="1.1"/>
<text transform="translate(1596.9,747.1)" x="-18" y="4" font-size="11.59" >012-02</text>
<rect x="1496.7" y="868.4" width="44.3" height="12.2" rx="6.1" fill="#fefefe" stroke="#111" stroke-width="1.1"/>
<text transform="translate(1518.8,874.8)" x="-17.59" y="4" font-size="11.59" >011-01</text>
<rect x="1771.2" y="934.2" width="45.1" height="12.2" rx="6.1" fill="#fefefe" stroke="#111" stroke-width="1.1"/>
<text transform="translate(1793.8,940.6)" x="-18.03" y="4" font-size="11.59" >006-01</text>
<rect x="1777.3" y="1223.6" width="45.1" height="12.2" rx="6.1" fill="#fefefe" stroke="#111" stroke-width="1.1"/>
<text transform="translate(1799.8,1230)" x="-18" y="4" font-size="11.59" >006-02</text>
<rect x="1759.8" y="1392.9" width="45.1" height="12.2" rx="6.1" fill="#fefefe" stroke="#111" stroke-width="1.1"/>
<text transform="translate(1782.4,1399.3)" x="-18.03" y="4" font-size="11.59" >007-01</text>
<rect x="731.1" y="1365.6" width="45.2" height="12.2" rx="6.1" fill="#fefefe" stroke="#111" stroke-width="1.1"/>
<text transform="translate(753.7,1372)" x="-18.09" y="4" font-size="11.59" >029-00</text>
<rect x="927.4" y="1385.1" width="45.2" height="12.2" rx="6.1" fill="#fefefe" stroke="#111" stroke-width="1.1"/>
<text transform="translate(950,1391.5)" x="-18.09" y="4" font-size="11.59" >028-00</text>
<rect x="1101.4" y="1409.4" width="45.2" height="12.2" rx="6.1" fill="#fefefe" stroke="#111" stroke-width="1.1"/>
<text transform="translate(1124,1415.8)" x="-18.09" y="4" font-size="11.59" >007-00</text>
<rect x="1175.5" y="1411.4" width="45.2" height="12.2" rx="6.1" fill="#fefefe" stroke="#111" stroke-width="1.1"/>
<text transform="translate(1198.1,1417.8)" x="-18.09" y="4" font-size="11.59" >006-00</text>
<rect x="1258.4" y="1412.4" width="45.2" height="12.2" rx="6.1" fill="#fefefe" stroke="#111" stroke-width="1.1"/>
<text transform="translate(1281,1418.8)" x="-18.09" y="4" font-size="11.59" >005-00</text>
<rect x="1346.7" y="1417.6" width="45.2" height="12.2" rx="6.1" fill="#fefefe" stroke="#111" stroke-width="1.1"/>
<text transform="translate(1369.3,1424)" x="-18.09" y="4" font-size="11.59" >004-00</text>
<rect x="1421.5" y="1419.3" width="45.2" height="12.2" rx="6.1" fill="#fefefe" stroke="#111" stroke-width="1.1"/>
<text transform="translate(1444.1,1425.7)" x="-18.09" y="4" font-size="11.59" >003-00</text>
<rect x="1506.7" y="1419.7" width="45.2" height="12.2" rx="6.1" fill="#fefefe" stroke="#111" stroke-width="1.1"/>
<text transform="translate(1529.3,1426.1)" x="-18.09" y="4" font-size="11.59" >002-00</text>
<rect x="1587.7" y="1421.4" width="45.2" height="12.2" rx="6.1" fill="#fefefe" stroke="#111" stroke-width="1.1"/>
<text transform="translate(1610.3,1427.8)" x="-18.09" y="4" font-size="11.59" >001-00</text>
</g>
</svg></body></html>
